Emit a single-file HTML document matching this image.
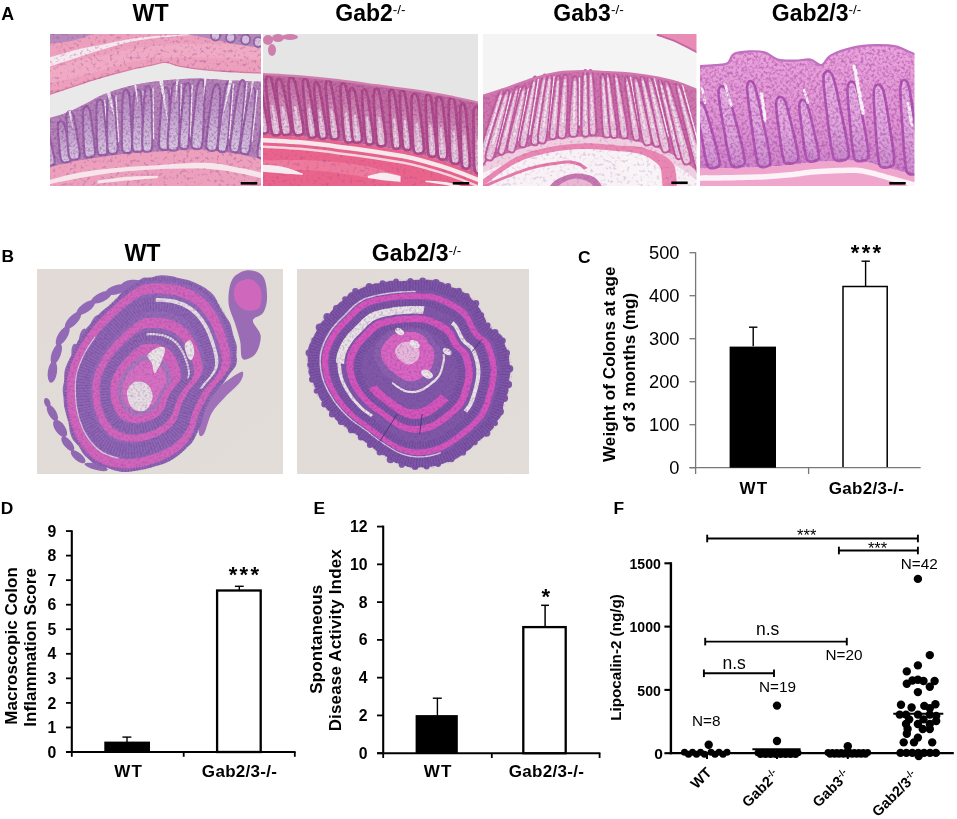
<!DOCTYPE html>
<html><head><meta charset="utf-8"><title>Figure</title>
<style>
html,body{margin:0;padding:0;background:#fff;}
body{width:957px;height:819px;overflow:hidden;}
svg{display:block;}
text{font-family:"Liberation Sans",Arial,sans-serif;}
</style></head><body>
<svg width="957" height="819" viewBox="0 0 957 819">
<text x="1.2" y="19.7" font-size="17.8" font-weight="bold" text-anchor="start" fill="#000" >A</text>
<text x="150.6" y="20.6" font-size="23.2" font-weight="bold" text-anchor="middle" fill="#000" >WT</text>
<text x="370.4" y="20.6" font-size="23" font-weight="bold" text-anchor="middle" fill="#000">Gab2<tspan font-size="13.5" font-weight="normal" dy="-6.2">-/-</tspan></text>
<text x="588.5" y="20.6" font-size="23" font-weight="bold" text-anchor="middle" fill="#000">Gab3<tspan font-size="13.5" font-weight="normal" dy="-6.2">-/-</tspan></text>
<text x="816.5" y="20.6" font-size="23" font-weight="bold" text-anchor="middle" fill="#000">Gab2/3<tspan font-size="13.5" font-weight="normal" dy="-6.2">-/-</tspan></text>
<text x="1.6" y="262.3" font-size="17.4" font-weight="bold" text-anchor="start" fill="#000" >B</text>
<text x="142.5" y="261" font-size="23.2" font-weight="bold" text-anchor="middle" fill="#000" >WT</text>
<text x="416.5" y="261" font-size="23" font-weight="bold" text-anchor="middle" fill="#000">Gab2/3<tspan font-size="13.5" font-weight="normal" dy="-6.2">-/-</tspan></text>
<text x="578" y="262.5" font-size="17.4" font-weight="bold" text-anchor="start" fill="#000" >C</text>
<line x1="695.6" y1="252.2" x2="695.6" y2="468.3" stroke="#777" stroke-width="1.3"/>
<line x1="689.5" y1="467.7" x2="920.7" y2="467.7" stroke="#777" stroke-width="1.3"/>
<line x1="689.5" y1="467.7" x2="695.6" y2="467.7" stroke="#777" stroke-width="1.3"/>
<text x="679.5" y="473.9" font-size="18.3" text-anchor="end" fill="#000" >0</text>
<line x1="689.5" y1="424.7" x2="695.6" y2="424.7" stroke="#777" stroke-width="1.3"/>
<text x="679.5" y="430.9" font-size="18.3" text-anchor="end" fill="#000" >100</text>
<line x1="689.5" y1="381.7" x2="695.6" y2="381.7" stroke="#777" stroke-width="1.3"/>
<text x="679.5" y="387.9" font-size="18.3" text-anchor="end" fill="#000" >200</text>
<line x1="689.5" y1="338.7" x2="695.6" y2="338.7" stroke="#777" stroke-width="1.3"/>
<text x="679.5" y="344.9" font-size="18.3" text-anchor="end" fill="#000" >300</text>
<line x1="689.5" y1="295.7" x2="695.6" y2="295.7" stroke="#777" stroke-width="1.3"/>
<text x="679.5" y="301.9" font-size="18.3" text-anchor="end" fill="#000" >400</text>
<line x1="689.5" y1="252.7" x2="695.6" y2="252.7" stroke="#777" stroke-width="1.3"/>
<text x="679.5" y="258.9" font-size="18.3" text-anchor="end" fill="#000" >500</text>
<line x1="695.6" y1="467.7" x2="695.6" y2="474" stroke="#777" stroke-width="1.3"/>
<line x1="808.6" y1="467.7" x2="808.6" y2="474" stroke="#777" stroke-width="1.3"/>
<rect x="729.6" y="346.6" width="46.4" height="121.1" fill="#000"/>
<line x1="753.2" y1="327.2" x2="753.2" y2="346.2" stroke="#000" stroke-width="1.4"/>
<line x1="749" y1="327.2" x2="757.4" y2="327.2" stroke="#000" stroke-width="1.4"/>
<path d="M843,467.1 L843,286.6 L887.2,286.6 L887.2,467.1" fill="#fff" stroke="#000" stroke-width="1.5"/>
<line x1="865.6" y1="260.8" x2="865.6" y2="286" stroke="#000" stroke-width="1.4"/>
<line x1="861.5" y1="261.2" x2="869.9" y2="261.2" stroke="#000" stroke-width="1.4"/>
<text x="867.1" y="260.4" font-size="22" font-weight="bold" text-anchor="middle" fill="#000" letter-spacing="2.3">***</text>
<text x="753.9" y="493.6" font-size="17" font-weight="bold" text-anchor="middle" fill="#000" letter-spacing="1.2">WT</text>
<text x="866.4" y="493.6" font-size="17" font-weight="bold" text-anchor="middle" fill="#000" letter-spacing="0.3">Gab2/3-/-</text>
<text x="614.7" y="364.2" font-size="17" font-weight="bold" text-anchor="middle" fill="#000" transform="rotate(-90 614.7 364.2)" letter-spacing="0.1">Weight of Colons at age</text>
<text x="635" y="362.5" font-size="17" font-weight="bold" text-anchor="middle" fill="#000" transform="rotate(-90 635 362.5)" letter-spacing="0.1">of 3 months (mg)</text>
<text x="0.8" y="513.5" font-size="17.4" font-weight="bold" text-anchor="start" fill="#000" >D</text>
<line x1="71.8" y1="530.3" x2="71.8" y2="753" stroke="#000" stroke-width="2.1"/>
<line x1="66" y1="752" x2="295.6" y2="752" stroke="#000" stroke-width="2.0"/>
<line x1="66" y1="752.0" x2="71.8" y2="752.0" stroke="#000" stroke-width="1.8"/>
<text x="56.2" y="757.6" font-size="15.8" font-weight="bold" text-anchor="end" fill="#000" >0</text>
<line x1="66" y1="727.45" x2="71.8" y2="727.45" stroke="#000" stroke-width="1.8"/>
<text x="56.2" y="733.0500000000001" font-size="15.8" font-weight="bold" text-anchor="end" fill="#000" >1</text>
<line x1="66" y1="702.9" x2="71.8" y2="702.9" stroke="#000" stroke-width="1.8"/>
<text x="56.2" y="708.5" font-size="15.8" font-weight="bold" text-anchor="end" fill="#000" >2</text>
<line x1="66" y1="678.35" x2="71.8" y2="678.35" stroke="#000" stroke-width="1.8"/>
<text x="56.2" y="683.95" font-size="15.8" font-weight="bold" text-anchor="end" fill="#000" >3</text>
<line x1="66" y1="653.8" x2="71.8" y2="653.8" stroke="#000" stroke-width="1.8"/>
<text x="56.2" y="659.4" font-size="15.8" font-weight="bold" text-anchor="end" fill="#000" >4</text>
<line x1="66" y1="629.25" x2="71.8" y2="629.25" stroke="#000" stroke-width="1.8"/>
<text x="56.2" y="634.85" font-size="15.8" font-weight="bold" text-anchor="end" fill="#000" >5</text>
<line x1="66" y1="604.7" x2="71.8" y2="604.7" stroke="#000" stroke-width="1.8"/>
<text x="56.2" y="610.3000000000001" font-size="15.8" font-weight="bold" text-anchor="end" fill="#000" >6</text>
<line x1="66" y1="580.15" x2="71.8" y2="580.15" stroke="#000" stroke-width="1.8"/>
<text x="56.2" y="585.75" font-size="15.8" font-weight="bold" text-anchor="end" fill="#000" >7</text>
<line x1="66" y1="555.6" x2="71.8" y2="555.6" stroke="#000" stroke-width="1.8"/>
<text x="56.2" y="561.2" font-size="15.8" font-weight="bold" text-anchor="end" fill="#000" >8</text>
<line x1="66" y1="531.05" x2="71.8" y2="531.05" stroke="#000" stroke-width="1.8"/>
<text x="56.2" y="536.65" font-size="15.8" font-weight="bold" text-anchor="end" fill="#000" >9</text>
<line x1="71.8" y1="752" x2="71.8" y2="756.8" stroke="#000" stroke-width="1.8"/>
<line x1="183.7" y1="752" x2="183.7" y2="756.8" stroke="#000" stroke-width="1.8"/>
<line x1="294.8" y1="752" x2="294.8" y2="756.8" stroke="#000" stroke-width="1.8"/>
<rect x="104.3" y="741.6" width="45.7" height="10.4" fill="#000"/>
<line x1="127" y1="737.1" x2="127" y2="742" stroke="#000" stroke-width="1.4"/>
<line x1="122.4" y1="737.1" x2="131.4" y2="737.1" stroke="#000" stroke-width="1.4"/>
<rect x="217.1" y="590.5" width="43.6" height="161.5" fill="#fff" stroke="#000" stroke-width="2.3"/>
<line x1="239.3" y1="586.3" x2="239.3" y2="590.6" stroke="#000" stroke-width="1.4"/>
<line x1="234.9" y1="586.3" x2="243.7" y2="586.3" stroke="#000" stroke-width="1.4"/>
<text x="245" y="582.2" font-size="22" font-weight="bold" text-anchor="middle" fill="#000" letter-spacing="2.3">***</text>
<text x="128.6" y="777.3" font-size="17" font-weight="bold" text-anchor="middle" fill="#000" letter-spacing="1.2">WT</text>
<text x="239.6" y="777.3" font-size="17" font-weight="bold" text-anchor="middle" fill="#000" letter-spacing="0.3">Gab2/3-/-</text>
<text x="17.3" y="646" font-size="17" font-weight="bold" text-anchor="middle" fill="#000" transform="rotate(-90 17.3 646)" letter-spacing="0.05">Macroscopic Colon</text>
<text x="36.2" y="647.4" font-size="17" font-weight="bold" text-anchor="middle" fill="#000" transform="rotate(-90 36.2 647.4)" letter-spacing="0.05">Inflammation Score</text>
<text x="313.5" y="513.5" font-size="17.4" font-weight="bold" text-anchor="start" fill="#000" >E</text>
<line x1="383.2" y1="525.6" x2="383.2" y2="754.2" stroke="#000" stroke-width="2.1"/>
<line x1="377" y1="753.2" x2="600.4" y2="753.2" stroke="#000" stroke-width="2.0"/>
<line x1="377" y1="753.2" x2="383.2" y2="753.2" stroke="#000" stroke-width="1.8"/>
<text x="367.6" y="758.8000000000001" font-size="15.8" font-weight="bold" text-anchor="end" fill="#000" >0</text>
<line x1="377" y1="715.4300000000001" x2="383.2" y2="715.4300000000001" stroke="#000" stroke-width="1.8"/>
<text x="367.6" y="721.0300000000001" font-size="15.8" font-weight="bold" text-anchor="end" fill="#000" >2</text>
<line x1="377" y1="677.6600000000001" x2="383.2" y2="677.6600000000001" stroke="#000" stroke-width="1.8"/>
<text x="367.6" y="683.2600000000001" font-size="15.8" font-weight="bold" text-anchor="end" fill="#000" >4</text>
<line x1="377" y1="639.8900000000001" x2="383.2" y2="639.8900000000001" stroke="#000" stroke-width="1.8"/>
<text x="367.6" y="645.4900000000001" font-size="15.8" font-weight="bold" text-anchor="end" fill="#000" >6</text>
<line x1="377" y1="602.12" x2="383.2" y2="602.12" stroke="#000" stroke-width="1.8"/>
<text x="367.6" y="607.72" font-size="15.8" font-weight="bold" text-anchor="end" fill="#000" >8</text>
<line x1="377" y1="564.35" x2="383.2" y2="564.35" stroke="#000" stroke-width="1.8"/>
<text x="367.6" y="569.95" font-size="15.8" font-weight="bold" text-anchor="end" fill="#000" >10</text>
<line x1="377" y1="526.58" x2="383.2" y2="526.58" stroke="#000" stroke-width="1.8"/>
<text x="367.6" y="532.1800000000001" font-size="15.8" font-weight="bold" text-anchor="end" fill="#000" >12</text>
<line x1="383.2" y1="753.2" x2="383.2" y2="758" stroke="#000" stroke-width="1.8"/>
<line x1="491.8" y1="753.2" x2="491.8" y2="758" stroke="#000" stroke-width="1.8"/>
<line x1="599.6" y1="753.2" x2="599.6" y2="758" stroke="#000" stroke-width="1.8"/>
<rect x="415.6" y="715.1" width="42.2" height="38.1" fill="#000"/>
<line x1="437.4" y1="698.2" x2="437.4" y2="716" stroke="#000" stroke-width="1.4"/>
<line x1="432.8" y1="698.2" x2="441.8" y2="698.2" stroke="#000" stroke-width="1.4"/>
<rect x="523.3" y="627.1" width="42.4" height="126.1" fill="#fff" stroke="#000" stroke-width="2.3"/>
<line x1="545.1" y1="605.3" x2="545.1" y2="627.5" stroke="#000" stroke-width="1.5"/>
<line x1="541.1" y1="605.3" x2="549" y2="605.3" stroke="#000" stroke-width="1.5"/>
<text x="545.7" y="603.5" font-size="22" font-weight="bold" text-anchor="middle" fill="#000" >*</text>
<text x="438.2" y="777.3" font-size="17" font-weight="bold" text-anchor="middle" fill="#000" letter-spacing="1.2">WT</text>
<text x="546.4" y="777.3" font-size="17" font-weight="bold" text-anchor="middle" fill="#000" letter-spacing="0.3">Gab2/3-/-</text>
<text x="321.9" y="639.2" font-size="17" font-weight="bold" text-anchor="middle" fill="#000" transform="rotate(-90 321.9 639.2)" letter-spacing="0.15">Spontaneous</text>
<text x="340.7" y="640.2" font-size="17" font-weight="bold" text-anchor="middle" fill="#000" transform="rotate(-90 340.7 640.2)" letter-spacing="0.15">Disease Activity Index</text>
<text x="613.5" y="513.8" font-size="17.4" font-weight="bold" text-anchor="start" fill="#000" >F</text>
<line x1="670.9" y1="562.2" x2="670.9" y2="754.2" stroke="#000" stroke-width="2.4"/>
<line x1="669.9" y1="753.2" x2="953.8" y2="753.2" stroke="#000" stroke-width="2.2"/>
<line x1="664.4" y1="753.2" x2="670.9" y2="753.2" stroke="#000" stroke-width="2.1"/>
<text x="662.9" y="758.9000000000001" font-size="15.5" font-weight="bold" text-anchor="end" fill="#000" >0</text>
<line x1="664.4" y1="689.9000000000001" x2="670.9" y2="689.9000000000001" stroke="#000" stroke-width="2.1"/>
<text x="660.8" y="695.6000000000001" font-size="15.5" font-weight="bold" text-anchor="end" fill="#000" textLength="23.5" lengthAdjust="spacingAndGlyphs">500</text>
<line x1="664.4" y1="626.6" x2="670.9" y2="626.6" stroke="#000" stroke-width="2.1"/>
<text x="660.8" y="632.3000000000001" font-size="15.5" font-weight="bold" text-anchor="end" fill="#000" textLength="31.3" lengthAdjust="spacingAndGlyphs">1000</text>
<line x1="664.4" y1="563.3000000000001" x2="670.9" y2="563.3000000000001" stroke="#000" stroke-width="2.1"/>
<text x="660.8" y="569.0000000000001" font-size="15.5" font-weight="bold" text-anchor="end" fill="#000" textLength="31.3" lengthAdjust="spacingAndGlyphs">1500</text>
<line x1="707" y1="753.2" x2="707" y2="759" stroke="#000" stroke-width="2.0"/>
<line x1="777" y1="753.2" x2="777" y2="759" stroke="#000" stroke-width="2.0"/>
<line x1="847.8" y1="753.2" x2="847.8" y2="759" stroke="#000" stroke-width="2.0"/>
<line x1="917.9" y1="753.2" x2="917.9" y2="759" stroke="#000" stroke-width="2.0"/>
<line x1="707.2" y1="538.5" x2="917.9" y2="538.5" stroke="#000" stroke-width="1.9"/>
<line x1="707.2" y1="534.7" x2="707.2" y2="542.3" stroke="#000" stroke-width="1.9"/>
<line x1="917.9" y1="534.7" x2="917.9" y2="542.3" stroke="#000" stroke-width="1.9"/>
<line x1="838.9" y1="550.5" x2="917.9" y2="550.5" stroke="#000" stroke-width="1.9"/>
<line x1="838.9" y1="546.7" x2="838.9" y2="554.3" stroke="#000" stroke-width="1.9"/>
<line x1="917.9" y1="546.7" x2="917.9" y2="554.3" stroke="#000" stroke-width="1.9"/>
<line x1="705.2" y1="641.6" x2="846.8" y2="641.6" stroke="#000" stroke-width="1.9"/>
<line x1="705.2" y1="637.8000000000001" x2="705.2" y2="645.4" stroke="#000" stroke-width="1.9"/>
<line x1="846.8" y1="637.8000000000001" x2="846.8" y2="645.4" stroke="#000" stroke-width="1.9"/>
<line x1="703.9" y1="673.3" x2="774" y2="673.3" stroke="#000" stroke-width="1.9"/>
<line x1="703.9" y1="669.5" x2="703.9" y2="677.0999999999999" stroke="#000" stroke-width="1.9"/>
<line x1="774" y1="669.5" x2="774" y2="677.0999999999999" stroke="#000" stroke-width="1.9"/>
<text x="806.7" y="541" font-size="16.5" text-anchor="middle" fill="#000" >***</text>
<text x="877.6" y="554" font-size="16.5" text-anchor="middle" fill="#000" >***</text>
<text x="767.7" y="635.2" font-size="17.5" text-anchor="middle" fill="#000" >n.s</text>
<text x="734.2" y="669" font-size="17.5" text-anchor="middle" fill="#000" >n.s</text>
<text x="919.3" y="569.2" font-size="15.3" text-anchor="middle" fill="#000" >N=42</text>
<text x="844" y="660" font-size="15.3" text-anchor="middle" fill="#000" >N=20</text>
<text x="777.5" y="691.6" font-size="15.3" text-anchor="middle" fill="#000" >N=19</text>
<text x="706.2" y="725.6" font-size="15.3" text-anchor="middle" fill="#000" >N=8</text>
<text x="620.5" y="657.5" font-size="15.3" font-weight="bold" text-anchor="middle" fill="#000" transform="rotate(-90 620.5 657.5)" textLength="126.5" lengthAdjust="spacingAndGlyphs">Lipocalin-2 (ng/g)</text>
<text x="712.5" y="773.5" font-size="14.5" font-weight="bold" text-anchor="end" transform="rotate(-45 712.5 773.5)">WT</text>
<text x="780" y="776" font-size="14.5" font-weight="bold" text-anchor="end" transform="rotate(-45 780 776)">Gab2<tspan font-size="9.5" dy="-5">-/-</tspan></text>
<text x="850.5" y="776" font-size="14.5" font-weight="bold" text-anchor="end" transform="rotate(-45 850.5 776)">Gab3<tspan font-size="9.5" dy="-5">-/-</tspan></text>
<text x="918.5" y="777" font-size="14.5" font-weight="bold" text-anchor="end" transform="rotate(-45 918.5 777)">Gab2/3<tspan font-size="9.5" dy="-5">-/-</tspan></text>
<circle cx="684.5" cy="752.2" r="3.5" fill="#000"/>
<circle cx="688.5" cy="754.2" r="3.5" fill="#000"/>
<circle cx="692.5" cy="752.2" r="3.5" fill="#000"/>
<circle cx="696.5" cy="754.2" r="3.5" fill="#000"/>
<circle cx="700.5" cy="752.2" r="3.5" fill="#000"/>
<circle cx="704.5" cy="754.2" r="3.5" fill="#000"/>
<circle cx="711.0" cy="752.2" r="3.5" fill="#000"/>
<circle cx="715.0" cy="754.2" r="3.5" fill="#000"/>
<circle cx="719.0" cy="752.2" r="3.5" fill="#000"/>
<circle cx="723.0" cy="754.2" r="3.5" fill="#000"/>
<circle cx="727.0" cy="752.2" r="3.5" fill="#000"/>
<circle cx="708.7" cy="744.7" r="4.2" fill="#000"/>
<circle cx="777.0" cy="705.6" r="4.2" fill="#000"/>
<circle cx="777.0" cy="741.0" r="4.2" fill="#000"/>
<circle cx="758.0" cy="752.8" r="3.5" fill="#000"/>
<circle cx="760.5" cy="754.4" r="3.5" fill="#000"/>
<circle cx="763.0" cy="752.8" r="3.5" fill="#000"/>
<circle cx="765.5" cy="754.4" r="3.5" fill="#000"/>
<circle cx="768.0" cy="752.8" r="3.5" fill="#000"/>
<circle cx="770.5" cy="754.4" r="3.5" fill="#000"/>
<circle cx="773.0" cy="752.8" r="3.5" fill="#000"/>
<circle cx="775.5" cy="754.4" r="3.5" fill="#000"/>
<circle cx="778.0" cy="752.8" r="3.5" fill="#000"/>
<circle cx="780.5" cy="754.4" r="3.5" fill="#000"/>
<circle cx="783.0" cy="752.8" r="3.5" fill="#000"/>
<circle cx="785.5" cy="754.4" r="3.5" fill="#000"/>
<circle cx="788.0" cy="752.8" r="3.5" fill="#000"/>
<circle cx="790.5" cy="754.4" r="3.5" fill="#000"/>
<circle cx="793.0" cy="752.8" r="3.5" fill="#000"/>
<circle cx="795.5" cy="754.4" r="3.5" fill="#000"/>
<circle cx="798.0" cy="752.8" r="3.5" fill="#000"/>
<line x1="752.4" y1="749.3" x2="800.6" y2="749.3" stroke="#000" stroke-width="2.0"/>
<circle cx="847.8" cy="746.3" r="4.2" fill="#000"/>
<circle cx="828.0" cy="752.5" r="3.5" fill="#000"/>
<circle cx="830.2" cy="754.3" r="3.5" fill="#000"/>
<circle cx="832.4" cy="752.5" r="3.5" fill="#000"/>
<circle cx="834.6" cy="754.3" r="3.5" fill="#000"/>
<circle cx="836.8" cy="752.5" r="3.5" fill="#000"/>
<circle cx="839.0" cy="754.3" r="3.5" fill="#000"/>
<circle cx="841.2" cy="752.5" r="3.5" fill="#000"/>
<circle cx="843.4" cy="754.3" r="3.5" fill="#000"/>
<circle cx="845.6" cy="752.5" r="3.5" fill="#000"/>
<circle cx="847.8" cy="754.3" r="3.5" fill="#000"/>
<circle cx="850.0" cy="752.5" r="3.5" fill="#000"/>
<circle cx="852.2" cy="754.3" r="3.5" fill="#000"/>
<circle cx="854.4" cy="752.5" r="3.5" fill="#000"/>
<circle cx="856.6" cy="754.3" r="3.5" fill="#000"/>
<circle cx="858.8" cy="752.5" r="3.5" fill="#000"/>
<circle cx="861.0" cy="754.3" r="3.5" fill="#000"/>
<circle cx="863.2" cy="752.5" r="3.5" fill="#000"/>
<circle cx="865.4" cy="754.3" r="3.5" fill="#000"/>
<circle cx="867.6" cy="752.5" r="3.5" fill="#000"/>
<circle cx="917.9" cy="578.9" r="4.2" fill="#000"/>
<circle cx="929.8" cy="655.1" r="4.2" fill="#000"/>
<circle cx="917.9" cy="665.4" r="4.2" fill="#000"/>
<circle cx="906.8" cy="671.4" r="4.2" fill="#000"/>
<circle cx="934.6" cy="681.0" r="4.2" fill="#000"/>
<circle cx="906.8" cy="683.7" r="4.2" fill="#000"/>
<circle cx="912.4" cy="680.5" r="4.2" fill="#000"/>
<circle cx="917.9" cy="679.7" r="4.2" fill="#000"/>
<circle cx="923.5" cy="681.0" r="4.2" fill="#000"/>
<circle cx="929.8" cy="686.8" r="4.2" fill="#000"/>
<circle cx="917.9" cy="692.1" r="4.2" fill="#000"/>
<circle cx="901.0" cy="704.8" r="4.2" fill="#000"/>
<circle cx="935.4" cy="704.3" r="4.2" fill="#000"/>
<circle cx="911.6" cy="707.5" r="4.2" fill="#000"/>
<circle cx="924.3" cy="705.9" r="4.2" fill="#000"/>
<circle cx="929.8" cy="708.3" r="4.2" fill="#000"/>
<circle cx="899.7" cy="714.6" r="4.2" fill="#000"/>
<circle cx="906.0" cy="714.6" r="4.2" fill="#000"/>
<circle cx="917.9" cy="714.6" r="4.2" fill="#000"/>
<circle cx="929.8" cy="714.6" r="4.2" fill="#000"/>
<circle cx="936.2" cy="716.0" r="4.2" fill="#000"/>
<circle cx="909.2" cy="719.4" r="4.2" fill="#000"/>
<circle cx="923.5" cy="719.4" r="4.2" fill="#000"/>
<circle cx="936.2" cy="721.0" r="4.2" fill="#000"/>
<circle cx="906.0" cy="724.0" r="4.2" fill="#000"/>
<circle cx="917.9" cy="724.0" r="4.2" fill="#000"/>
<circle cx="929.8" cy="724.0" r="4.2" fill="#000"/>
<circle cx="907.6" cy="729.0" r="4.2" fill="#000"/>
<circle cx="922.7" cy="729.0" r="4.2" fill="#000"/>
<circle cx="929.8" cy="729.0" r="4.2" fill="#000"/>
<circle cx="906.8" cy="733.7" r="4.2" fill="#000"/>
<circle cx="917.9" cy="737.6" r="4.2" fill="#000"/>
<circle cx="903.7" cy="742.4" r="4.2" fill="#000"/>
<circle cx="914.0" cy="742.4" r="4.2" fill="#000"/>
<circle cx="932.2" cy="742.4" r="4.2" fill="#000"/>
<circle cx="900.5" cy="752.9" r="4.2" fill="#000"/>
<circle cx="906.4" cy="752.9" r="4.2" fill="#000"/>
<circle cx="912.3" cy="752.9" r="4.2" fill="#000"/>
<circle cx="918.2" cy="752.9" r="4.2" fill="#000"/>
<circle cx="924.1" cy="752.9" r="4.2" fill="#000"/>
<circle cx="930.0" cy="752.9" r="4.2" fill="#000"/>
<circle cx="935.9" cy="752.9" r="4.2" fill="#000"/>
<circle cx="918.7" cy="756.1" r="4.2" fill="#000"/>
<line x1="893.3" y1="713.8" x2="943.3" y2="713.8" stroke="#000" stroke-width="2.0"/>
<defs>
<filter id="tex" x="0" y="0" width="100%" height="100%" color-interpolation-filters="sRGB">
<feTurbulence type="fractalNoise" baseFrequency="0.42" numOctaves="2" seed="7" result="n"/>
<feColorMatrix in="n" type="matrix" values="0 0 0 0 0.38  0 0 0 0 0.18  0 0 0 0 0.5  2.6 0 0 0 -1.15"/>
</filter>
<filter id="texL" x="0" y="0" width="100%" height="100%" color-interpolation-filters="sRGB">
<feTurbulence type="fractalNoise" baseFrequency="0.5" numOctaves="2" seed="11" result="n"/>
<feColorMatrix in="n" type="matrix" values="0 0 0 0 1  0 0 0 0 1  0 0 0 0 1  0 2.4 0 0 -1.1"/>
</filter>
<filter id="texS" x="0" y="0" width="100%" height="100%" color-interpolation-filters="sRGB">
<feTurbulence type="fractalNoise" baseFrequency="0.3" numOctaves="2" seed="5" result="n"/>
<feColorMatrix in="n" type="matrix" values="0 0 0 0 0.55  0 0 0 0 0.25  0 0 0 0 0.6  3.2 0 0 0 -1.75"/>
</filter>
<linearGradient id="cg1" x1="0" y1="0" x2="0" y2="1"><stop offset="0" stop-color="#b885ba"/><stop offset="0.4" stop-color="#c39fcb"/><stop offset="1" stop-color="#d9c6e1"/></linearGradient>
<filter id="texM" x="0" y="0" width="100%" height="100%" color-interpolation-filters="sRGB">
<feTurbulence type="fractalNoise" baseFrequency="0.36" numOctaves="2" seed="21" result="n"/>
<feColorMatrix in="n" type="matrix" values="0 0 0 0 0.64  0 0 0 0 0.2  0 0 0 0 0.62  3.0 0 0 0 -1.25"/>
</filter>
<filter id="b1" x="-5%" y="-5%" width="110%" height="110%"><feGaussianBlur stdDeviation="0.7"/></filter>
<filter id="b2" x="-5%" y="-5%" width="110%" height="110%"><feGaussianBlur stdDeviation="1.4"/></filter>
</defs>
<clipPath id="cA1"><rect x="50" y="34" width="211" height="152"/></clipPath>
<g clip-path="url(#cA1)">
<g filter="url(#b1)">
<rect x="47" y="31" width="217" height="158" fill="#eda0bb"/>
<path d="M40.0,70.2 C48.4,68.1 73.4,61.4 90.2,57.6 C106.9,53.9 123.6,49.9 140.3,47.6 C157.0,45.3 168.7,44.2 190.5,43.8 C212.2,43.4 257.3,44.9 270.7,45.1 L270.7,60.1 C257.3,59.7 212.2,57.6 190.5,57.6 C168.7,57.6 157.0,57.4 140.3,60.1 C123.6,62.8 106.9,69.7 90.2,73.9 C73.4,78.1 48.4,83.3 40.0,85.2Z" fill="#f1aac3" />
<path d="M40.0,98.2 C46.3,96.2 67.2,89.1 77.6,85.7 C88.1,82.3 94.3,80.1 102.7,77.7 C111.1,75.2 119.4,72.9 127.8,70.9 C136.1,68.9 146.6,66.9 152.9,65.6 C159.1,64.3 160.8,62.9 165.4,63.1 C170.0,63.4 174.2,66.0 180.4,67.1 C186.7,68.3 195.1,69.3 203.0,70.2 C211.0,71.0 216.8,71.5 228.1,72.2 C239.4,72.8 263.6,73.8 270.7,74.2" fill="none" stroke="#d97aa3" stroke-width="2.5"/>
<path d="M40.0,60.1 C46.3,58.4 67.2,52.2 77.6,49.6 C88.1,47.0 92.2,46.6 102.7,44.6 C113.1,42.6 125.7,39.3 140.3,37.6 C154.9,35.8 182.1,34.6 190.5,34.0 L190.5,35.0 C182.1,35.9 154.9,37.6 140.3,40.1 C125.7,42.5 113.1,46.7 102.7,49.6 C92.2,52.5 88.1,54.3 77.6,57.6 C67.2,61.0 46.3,67.6 40.0,69.7Z" fill="#f5e8ee" />
<path d="M40.0,30.0 C45.0,30.0 61.1,30.0 70.1,30.0 C79.1,30.0 89.9,30.0 93.9,30.0 L93.9,33.8 C89.9,35.0 79.1,39.5 70.1,41.3 C61.1,43.1 45.0,44.0 40.0,44.6Z" fill="#b78abb" />
<path d="M188.0,30.0 C192.6,30.0 201.8,30.0 215.5,30.0 C229.3,30.0 261.5,30.0 270.7,30.0 L270.7,48.6 C265.7,48.0 249.8,46.5 240.6,45.1 C231.4,43.7 224.3,41.9 215.5,40.1 C206.8,38.2 192.6,35.0 188.0,34.0Z" fill="#b288bb" />
<ellipse cx="215.5" cy="35.5" rx="4.5" ry="5" fill="#d4bfdc" stroke="#8f62a3" stroke-width="1.8"/>
<ellipse cx="230.6" cy="37.6" rx="4.5" ry="5" fill="#d4bfdc" stroke="#8f62a3" stroke-width="1.8"/>
<ellipse cx="245.6" cy="39.6" rx="4.5" ry="5" fill="#d4bfdc" stroke="#8f62a3" stroke-width="1.8"/>
<ellipse cx="258.2" cy="42.1" rx="4.5" ry="5" fill="#d4bfdc" stroke="#8f62a3" stroke-width="1.8"/>
<rect x="50" y="34" width="211" height="152" filter="url(#texS)" opacity="0.45"/>
<path d="M40.0,98.2 C46.3,96.2 67.2,89.1 77.6,85.7 C88.1,82.3 94.3,80.1 102.7,77.7 C111.1,75.2 119.4,72.9 127.8,70.9 C136.1,68.9 146.6,66.9 152.9,65.6 C159.1,64.3 160.8,62.9 165.4,63.1 C170.0,63.4 174.2,66.0 180.4,67.1 C186.7,68.3 195.1,69.3 203.0,70.2 C211.0,71.0 216.8,71.5 228.1,72.2 C239.4,72.8 263.6,73.8 270.7,74.2 L270.7,81.9 C263.6,81.7 239.4,80.7 228.1,80.2 C216.8,79.6 211.4,78.9 203.0,78.7 C194.6,78.5 186.3,78.7 177.9,79.2 C169.6,79.7 161.2,80.5 152.9,81.7 C144.5,82.9 136.1,84.3 127.8,86.5 C119.4,88.6 109.8,91.8 102.7,94.7 C95.6,97.7 91.4,100.9 85.1,104.0 C78.9,107.1 72.6,110.5 65.1,113.3 C57.6,116.1 44.2,119.6 40.0,120.8Z" fill="#eae9e9" />
<path d="M40.0,120.8 C44.2,119.6 57.6,116.1 65.1,113.3 C72.6,110.5 78.9,107.1 85.1,104.0 C91.4,100.9 95.6,97.7 102.7,94.7 C109.8,91.8 119.4,88.6 127.8,86.5 C136.1,84.3 144.5,82.9 152.9,81.7 C161.2,80.5 169.6,79.7 177.9,79.2 C186.3,78.7 194.6,78.5 203.0,78.7 C211.4,78.9 216.8,79.6 228.1,80.2 C239.4,80.7 263.6,81.7 270.7,81.9 L270.7,161.4 C266.5,160.4 252.7,156.9 245.6,155.4 C238.5,153.9 235.2,153.4 228.1,152.4 C221.0,151.4 211.4,149.7 203.0,149.4 C194.6,149.1 186.3,150.0 177.9,150.4 C169.6,150.8 161.2,151.2 152.9,151.7 C144.5,152.2 136.1,152.6 127.8,153.4 C119.4,154.3 109.8,155.7 102.7,156.7 C95.6,157.7 91.4,158.4 85.1,159.4 C78.9,160.5 72.6,161.1 65.1,162.9 C57.6,164.8 44.2,169.2 40.0,170.5Z" fill="#b683b8"/>
<path d="M53.9,164.4 C55.1,163.5 54.9,162.9 54.5,159.7 C54.1,156.6 52.9,151.1 51.7,145.7 C50.4,140.3 48.6,130.4 47.0,127.5 C45.4,124.5 42.6,125.0 42.1,128.3 C41.5,131.6 43.0,141.6 43.6,147.1 C44.2,152.6 44.9,158.2 45.5,161.3 C46.2,164.3 46.2,164.9 47.6,165.5 C49.0,166.0 52.8,165.4 53.9,164.4Z" fill="url(#cg1)" stroke="#9a62a6" stroke-width="2.2"/>
<path d="M69.9,161.3 C71.3,160.4 71.1,159.7 70.8,156.5 C70.5,153.3 69.4,147.6 68.2,142.1 C67.1,136.6 65.4,126.3 63.8,123.3 C62.1,120.3 58.9,120.7 58.1,124.1 C57.3,127.4 58.6,137.8 59.0,143.4 C59.4,149.1 60.0,154.8 60.6,158.0 C61.2,161.1 61.2,161.8 62.8,162.3 C64.3,162.9 68.6,162.3 69.9,161.3Z" fill="url(#cg1)" stroke="#9a62a6" stroke-width="2.2"/>
<line x1="71.6" y1="153.3" x2="66.0" y2="121.0" stroke="#f2eaf0" stroke-width="1.3" stroke-linecap="round"/>
<path d="M78.6,158.5 C80.1,157.5 79.9,156.7 79.7,153.0 C79.5,149.2 78.4,142.6 77.2,136.0 C76.1,129.5 74.6,117.5 72.8,113.9 C71.1,110.3 67.7,110.7 66.7,114.6 C65.8,118.5 67.0,130.6 67.3,137.2 C67.6,143.8 68.1,150.5 68.7,154.2 C69.3,157.9 69.3,158.7 70.9,159.4 C72.6,160.1 77.2,159.6 78.6,158.5Z" fill="url(#cg1)" stroke="#9a62a6" stroke-width="2.2"/>
<path d="M93.9,156.2 C95.3,155.2 95.2,154.4 95.0,150.4 C94.9,146.4 94.0,139.4 93.0,132.4 C92.1,125.5 90.8,112.7 89.2,108.8 C87.6,105.0 84.3,105.3 83.3,109.3 C82.3,113.4 83.1,126.2 83.3,133.2 C83.5,140.2 83.7,147.3 84.2,151.3 C84.7,155.2 84.7,156.0 86.3,156.9 C87.9,157.7 92.4,157.3 93.9,156.2Z" fill="url(#cg1)" stroke="#9a62a6" stroke-width="2.2"/>
<path d="M106.2,154.2 C107.6,153.0 107.5,152.2 107.4,147.9 C107.3,143.6 106.6,135.8 105.8,128.3 C105.0,120.7 104.0,106.8 102.5,102.5 C101.1,98.3 97.9,98.5 96.9,102.8 C95.9,107.2 96.5,121.2 96.6,128.8 C96.6,136.4 96.8,144.1 97.2,148.4 C97.6,152.7 97.6,153.6 99.1,154.6 C100.6,155.5 104.8,155.3 106.2,154.2Z" fill="url(#cg1)" stroke="#9a62a6" stroke-width="2.2"/>
<line x1="108.4" y1="143.7" x2="104.8" y2="100.4" stroke="#f2eaf0" stroke-width="1.3" stroke-linecap="round"/>
<path d="M116.4,152.9 C117.8,151.8 117.7,150.8 117.7,146.2 C117.7,141.6 117.1,133.4 116.4,125.3 C115.7,117.3 115.0,102.4 113.6,97.8 C112.2,93.3 109.0,93.4 107.9,98.0 C106.8,102.7 107.2,117.6 107.1,125.7 C107.0,133.8 107.0,142.0 107.4,146.6 C107.7,151.2 107.7,152.1 109.2,153.2 C110.7,154.2 115.0,154.1 116.4,152.9Z" fill="url(#cg1)" stroke="#9a62a6" stroke-width="2.2"/>
<line x1="118.8" y1="141.8" x2="115.9" y2="95.8" stroke="#f2eaf0" stroke-width="1.3" stroke-linecap="round"/>
<path d="M130.7,152.1 C132.2,150.9 132.0,149.9 132.1,145.0 C132.2,140.0 131.8,131.1 131.2,122.5 C130.7,113.8 130.2,97.8 128.9,92.9 C127.6,88.0 124.4,88.0 123.3,93.0 C122.1,98.0 122.2,113.9 122.0,122.6 C121.8,131.3 121.6,140.2 121.9,145.1 C122.1,150.1 122.1,151.1 123.5,152.2 C125.0,153.4 129.3,153.3 130.7,152.1Z" fill="url(#cg1)" stroke="#9a62a6" stroke-width="2.2"/>
<path d="M141.6,151.1 C143.2,149.9 143.1,149.0 143.3,144.1 C143.4,139.3 143.1,130.7 142.7,122.2 C142.3,113.7 142.1,98.1 140.7,93.3 C139.4,88.5 136.0,88.5 134.6,93.3 C133.3,98.1 133.1,113.7 132.7,122.2 C132.3,130.7 132.0,139.3 132.2,144.2 C132.4,149.0 132.3,149.9 133.9,151.1 C135.4,152.2 140.0,152.2 141.6,151.1Z" fill="url(#cg1)" stroke="#9a62a6" stroke-width="2.2"/>
<line x1="144.5" y1="139.5" x2="143.1" y2="91.3" stroke="#f2eaf0" stroke-width="1.3" stroke-linecap="round"/>
<path d="M150.7,150.9 C152.2,149.7 152.1,148.6 152.3,143.6 C152.6,138.5 152.4,129.3 152.2,120.3 C151.9,111.4 152.0,94.8 150.8,89.7 C149.7,84.6 146.5,84.6 145.2,89.7 C143.9,94.7 143.5,111.2 143.0,120.2 C142.5,129.1 142.1,138.3 142.2,143.4 C142.3,148.5 142.2,149.5 143.6,150.8 C145.0,152.0 149.2,152.1 150.7,150.9Z" fill="url(#cg1)" stroke="#9a62a6" stroke-width="2.2"/>
<line x1="153.6" y1="138.7" x2="153.1" y2="87.8" stroke="#f2eaf0" stroke-width="1.3" stroke-linecap="round"/>
<path d="M167.8,149.1 C169.3,148.0 169.2,147.0 169.6,142.2 C169.9,137.3 169.8,128.6 169.7,120.1 C169.5,111.6 169.8,95.9 168.7,91.0 C167.6,86.1 164.3,86.0 162.9,90.8 C161.5,95.6 160.8,111.3 160.2,119.8 C159.5,128.3 159.0,137.0 159.0,141.9 C159.0,146.7 158.9,147.7 160.4,148.9 C161.8,150.1 166.2,150.2 167.8,149.1Z" fill="url(#cg1)" stroke="#9a62a6" stroke-width="2.2"/>
<line x1="170.9" y1="137.6" x2="171.0" y2="89.1" stroke="#f2eaf0" stroke-width="1.3" stroke-linecap="round"/>
<path d="M177.0,149.8 C178.6,148.6 178.6,147.6 179.0,142.3 C179.4,137.1 179.5,127.6 179.5,118.3 C179.5,109.0 180.0,92.0 178.9,86.6 C177.8,81.3 174.3,81.2 172.7,86.4 C171.1,91.6 170.2,108.6 169.3,117.9 C168.5,127.1 167.8,136.6 167.7,141.8 C167.7,147.1 167.5,148.1 169.1,149.5 C170.6,150.8 175.3,151.0 177.0,149.8Z" fill="url(#cg1)" stroke="#9a62a6" stroke-width="2.2"/>
<line x1="180.4" y1="137.3" x2="181.3" y2="84.7" stroke="#f2eaf0" stroke-width="1.3" stroke-linecap="round"/>
<path d="M187.1,148.3 C188.5,147.2 188.5,146.2 188.9,141.1 C189.4,136.0 189.7,126.7 189.9,117.7 C190.1,108.7 190.9,92.1 190.1,86.9 C189.2,81.8 186.3,81.6 184.8,86.6 C183.4,91.7 182.2,108.2 181.3,117.2 C180.4,126.2 179.6,135.4 179.4,140.5 C179.3,145.6 179.1,146.6 180.4,147.9 C181.7,149.2 185.6,149.5 187.1,148.3Z" fill="url(#cg1)" stroke="#9a62a6" stroke-width="2.2"/>
<line x1="190.4" y1="136.2" x2="192.2" y2="85.1" stroke="#f2eaf0" stroke-width="1.3" stroke-linecap="round"/>
<path d="M200.4,148.4 C202.1,147.2 202.1,146.1 202.7,140.8 C203.2,135.4 203.6,125.7 203.9,116.3 C204.2,106.8 205.3,89.4 204.3,83.9 C203.3,78.5 199.9,78.2 198.1,83.5 C196.4,88.7 194.9,106.1 193.8,115.5 C192.7,124.9 191.6,134.6 191.4,139.9 C191.2,145.3 191.0,146.4 192.5,147.8 C194.0,149.2 198.7,149.5 200.4,148.4Z" fill="url(#cg1)" stroke="#9a62a6" stroke-width="2.2"/>
<path d="M215.4,150.2 C217.1,149.1 217.1,148.1 217.8,143.0 C218.4,137.9 218.9,128.6 219.2,119.6 C219.6,110.5 220.8,93.9 219.9,88.7 C219.0,83.4 215.5,83.1 213.6,88.1 C211.8,93.1 210.2,109.7 209.0,118.7 C207.7,127.6 206.6,136.8 206.4,142.0 C206.1,147.1 205.9,148.1 207.4,149.5 C208.9,150.9 213.7,151.3 215.4,150.2Z" fill="url(#cg1)" stroke="#9a62a6" stroke-width="2.2"/>
<path d="M225.3,151.4 C226.8,150.3 226.9,149.2 227.6,143.7 C228.3,138.3 229.1,128.5 229.7,118.9 C230.3,109.3 232.0,91.6 231.4,86.1 C230.8,80.5 227.8,80.2 226.1,85.5 C224.4,90.8 222.4,108.4 221.0,118.0 C219.7,127.5 218.4,137.3 218.0,142.7 C217.6,148.2 217.4,149.3 218.6,150.7 C219.8,152.2 223.8,152.6 225.3,151.4Z" fill="url(#cg1)" stroke="#9a62a6" stroke-width="2.2"/>
<line x1="229.3" y1="138.6" x2="233.5" y2="84.3" stroke="#f2eaf0" stroke-width="1.3" stroke-linecap="round"/>
<path d="M237.7,151.7 C239.2,150.5 239.3,149.4 240.1,143.8 C240.9,138.2 241.8,128.1 242.6,118.3 C243.4,108.4 245.4,90.3 244.9,84.6 C244.4,78.9 241.4,78.5 239.5,84.0 C237.7,89.4 235.4,107.5 233.9,117.2 C232.4,127.0 230.9,137.0 230.4,142.6 C229.9,148.2 229.7,149.3 230.9,150.9 C232.1,152.4 236.2,152.8 237.7,151.7Z" fill="url(#cg1)" stroke="#9a62a6" stroke-width="2.2"/>
<line x1="241.9" y1="138.6" x2="247.0" y2="82.8" stroke="#f2eaf0" stroke-width="1.3" stroke-linecap="round"/>
<path d="M247.8,153.5 C249.4,152.5 249.4,151.4 250.3,146.3 C251.1,141.2 252.0,132.0 252.9,122.9 C253.7,113.8 255.7,97.2 255.3,92.0 C254.8,86.7 251.8,86.3 250.0,91.3 C248.1,96.2 245.8,112.8 244.2,121.8 C242.7,130.7 241.2,139.9 240.6,145.1 C240.1,150.2 239.9,151.2 241.1,152.6 C242.3,154.0 246.3,154.6 247.8,153.5Z" fill="url(#cg1)" stroke="#9a62a6" stroke-width="2.2"/>
<line x1="252.1" y1="141.6" x2="257.4" y2="90.2" stroke="#f2eaf0" stroke-width="1.3" stroke-linecap="round"/>
<path d="M264.5,158.0 C265.9,156.9 266.0,155.8 266.9,150.5 C267.7,145.3 268.8,135.7 269.7,126.4 C270.6,117.1 272.8,99.9 272.4,94.5 C272.1,89.1 269.3,88.7 267.5,93.8 C265.7,99.0 263.2,116.1 261.6,125.3 C260.0,134.6 258.4,144.0 257.9,149.3 C257.3,154.6 257.1,155.7 258.2,157.1 C259.3,158.5 263.0,159.1 264.5,158.0Z" fill="url(#cg1)" stroke="#9a62a6" stroke-width="2.2"/>
<line x1="268.7" y1="145.6" x2="274.5" y2="92.8" stroke="#f2eaf0" stroke-width="1.3" stroke-linecap="round"/>
<path d="M106.2,91.7 L110.2,91.7 L115.2,120.3Z" fill="#efebee"/>
<path d="M159.0,79.4 L162.8,79.4 L168.4,125.3Z" fill="#efebee"/>
<path d="M176.2,78.7 L178.7,78.7 L175.4,102.8Z" fill="#efebee"/>
<path d="M229.3,78.7 L232.9,78.7 L221.8,120.3Z" fill="#efebee"/>
<path d="M68.3,110.8 L70.8,110.8 L73.1,130.3Z" fill="#efebee"/>
<path d="M204.4,77.7 L206.6,77.7 L203.0,102.8Z" fill="#efebee"/>
<path d="M134.2,84.2 L136.4,84.2 L138.3,107.8Z" fill="#efebee"/>
<path d="M252.0,80.2 L254.3,80.2 L249.4,102.8Z" fill="#efebee"/>
<clipPath id="tc1"><path d="M40.0,120.8 C44.2,119.6 57.6,116.1 65.1,113.3 C72.6,110.5 78.9,107.1 85.1,104.0 C91.4,100.9 95.6,97.7 102.7,94.7 C109.8,91.8 119.4,88.6 127.8,86.5 C136.1,84.3 144.5,82.9 152.9,81.7 C161.2,80.5 169.6,79.7 177.9,79.2 C186.3,78.7 194.6,78.5 203.0,78.7 C211.4,78.9 216.8,79.6 228.1,80.2 C239.4,80.7 263.6,81.7 270.7,81.9 L270.7,161.4 C266.5,160.4 252.7,156.9 245.6,155.4 C238.5,153.9 235.2,153.4 228.1,152.4 C221.0,151.4 211.4,149.7 203.0,149.4 C194.6,149.1 186.3,150.0 177.9,150.4 C169.6,150.8 161.2,151.2 152.9,151.7 C144.5,152.2 136.1,152.6 127.8,153.4 C119.4,154.3 109.8,155.7 102.7,156.7 C95.6,157.7 91.4,158.4 85.1,159.4 C78.9,160.5 72.6,161.1 65.1,162.9 C57.6,164.8 44.2,169.2 40.0,170.5Z"/></clipPath>
<g clip-path="url(#tc1)"><rect x="50" y="34" width="211" height="152" filter="url(#tex)" opacity="0.42"/></g>
<path d="M40.0,182.5 C46.3,180.9 65.1,175.4 77.6,173.0 C90.2,170.6 102.7,169.2 115.2,168.0 C127.8,166.7 140.3,166.3 152.9,165.5 C165.4,164.6 180.0,163.3 190.5,162.9 C200.9,162.6 207.2,162.6 215.5,163.4 C223.9,164.3 231.4,166.1 240.6,168.0 C249.8,169.8 265.7,173.4 270.7,174.5 L270.7,180.5 C265.7,179.3 249.8,175.3 240.6,173.5 C231.4,171.6 223.9,170.3 215.5,169.5 C207.2,168.6 200.9,168.5 190.5,168.5 C180.0,168.5 165.4,168.8 152.9,169.5 C140.3,170.1 127.8,171.0 115.2,172.5 C102.7,174.0 90.2,176.2 77.6,178.5 C65.1,180.8 46.3,184.8 40.0,186.0Z" fill="#f6e6ec" />
<path d="M97.7,180.5 C102.7,179.9 117.7,177.5 127.8,176.7 C137.8,176.0 152.9,176.1 157.9,176.0 L157.9,178.0 C152.9,178.4 137.8,179.6 127.8,180.5 C117.7,181.4 102.7,183.0 97.7,183.5Z" fill="#f6e6ec" />
</g>
<rect x="240.7" y="182" width="16.6" height="2.6" fill="#000"/>
</g>
<clipPath id="cA2"><rect x="263" y="34" width="215" height="152"/></clipPath>
<g clip-path="url(#cA2)">
<g filter="url(#b1)">
<rect x="260" y="31" width="221" height="158" fill="#e5e5e5"/>
<path d="M257.5,134.1 C264.6,134.5 286.8,135.5 300.2,136.6 C313.5,137.7 325.2,139.3 337.8,140.9 C350.3,142.4 362.9,144.0 375.4,145.9 C387.9,147.8 400.5,149.5 413.0,152.4 C425.5,155.3 438.9,159.5 450.6,163.4 C462.3,167.4 477.8,173.9 483.2,176.0 L483.2,190.5 L257.5,190.5Z" fill="#e9648b" />
<path d="M257.5,160.4 C266.7,160.4 295.1,159.6 312.7,160.4 C330.3,161.3 348.2,162.9 362.9,165.5 C377.5,168.0 394.2,173.8 400.5,175.5 L400.5,183.0 C394.2,182.0 377.5,178.8 362.9,176.7 C348.2,174.6 330.3,171.5 312.7,170.5 C295.1,169.4 266.7,170.5 257.5,170.5Z" fill="#ee7a9c" />
<rect x="263" y="34" width="215" height="152" filter="url(#texS)" opacity="0.35"/>
<rect x="260" y="31" width="221" height="43.02207265351282" fill="#e5e5e5"/>
<path d="M257.5,30.0 L483.2,30.0 L483.2,103.8 C477.8,102.5 462.3,98.7 450.6,96.5 C438.9,94.2 425.5,92.1 413.0,90.2 C400.5,88.3 387.9,86.9 375.4,85.2 C362.9,83.5 350.3,81.7 337.8,80.2 C325.2,78.7 313.5,77.5 300.2,76.4 C286.8,75.3 264.6,74.1 257.5,73.7Z" fill="#e5e5e5" />
<path d="M257.5,137.6 C264.6,138.0 286.8,139.0 300.2,140.1 C313.5,141.2 325.2,142.8 337.8,144.4 C350.3,145.9 362.9,147.5 375.4,149.4 C387.9,151.3 400.5,153.0 413.0,155.9 C425.5,158.8 438.9,163.0 450.6,166.9 C462.3,170.9 477.8,177.4 483.2,179.5 L483.2,184.0 C477.8,181.9 462.3,175.4 450.6,171.4 C438.9,167.5 425.5,163.3 413.0,160.4 C400.5,157.5 387.9,155.8 375.4,153.9 C362.9,152.0 350.3,150.4 337.8,148.9 C325.2,147.3 313.5,145.7 300.2,144.6 C286.8,143.5 264.6,142.5 257.5,142.1Z" fill="#f6e9ee" />
<path d="M257.5,145.1 C264.6,145.5 286.8,146.5 300.2,147.6 C313.5,148.7 325.2,150.3 337.8,151.9 C350.3,153.4 362.9,155.0 375.4,156.9 C387.9,158.8 400.5,160.5 413.0,163.4 C425.5,166.3 438.9,170.5 450.6,174.4 C462.3,178.4 477.8,184.9 483.2,187.0 L483.2,189.5 C477.8,187.4 462.3,180.9 450.6,176.9 C438.9,173.0 425.5,168.8 413.0,165.9 C400.5,163.0 387.9,161.3 375.4,159.4 C362.9,157.5 350.3,155.9 337.8,154.4 C325.2,152.8 313.5,151.2 300.2,150.1 C286.8,149.0 264.6,148.0 257.5,147.6Z" fill="#f3d5e0" />
<path d="M257.5,164.7 C261.7,165.0 275.1,165.2 282.6,166.7 C290.1,168.2 299.3,172.4 302.7,173.5 L302.7,175.0 C299.3,174.7 290.1,174.1 282.6,173.5 C275.1,172.9 261.7,171.6 257.5,171.2Z" fill="#f7edf1" />
<path d="M367.9,176.0 C370.4,175.4 377.5,172.7 382.9,172.7 C388.3,172.7 397.5,175.4 400.5,176.0 L400.5,181.8 C398.0,181.5 390.9,181.1 385.4,180.5 C380.0,179.9 370.8,178.4 367.9,178.0Z" fill="#f7edf1" />
<path d="M425.5,180.5 C429.7,180.9 441.0,180.9 450.6,183.0 C460.2,185.1 477.8,191.4 483.2,193.0 L483.2,195.5 C477.8,194.0 460.2,188.3 450.6,186.0 C441.0,183.8 429.7,182.7 425.5,182.0Z" fill="#f7edf1" />
<path d="M257.5,73.7 C264.6,74.1 286.8,75.3 300.2,76.4 C313.5,77.5 325.2,78.7 337.8,80.2 C350.3,81.7 362.9,83.5 375.4,85.2 C387.9,86.9 400.5,88.3 413.0,90.2 C425.5,92.1 438.9,94.2 450.6,96.5 C462.3,98.7 477.8,102.5 483.2,103.8 L483.2,176.0 C477.8,173.9 462.3,167.4 450.6,163.4 C438.9,159.5 425.5,155.3 413.0,152.4 C400.5,149.5 387.9,147.8 375.4,145.9 C362.9,144.0 350.3,142.4 337.8,140.9 C325.2,139.3 313.5,137.7 300.2,136.6 C286.8,135.5 264.6,134.5 257.5,134.1Z" fill="#c36a9f"/>
<linearGradient id="cg2" x1="0" y1="0" x2="0" y2="1"><stop offset="0" stop-color="#c56fa2"/><stop offset="0.35" stop-color="#cd82af"/><stop offset="0.7" stop-color="#ddabca"/><stop offset="1" stop-color="#ead0e1"/></linearGradient>
<path d="M267.6,132.3 C268.6,131.0 268.4,130.1 267.8,125.5 C267.2,120.8 265.7,112.5 264.1,104.5 C262.5,96.4 260.0,81.4 258.3,76.9 C256.6,72.4 254.1,72.8 253.9,77.6 C253.6,82.4 255.8,97.4 256.8,105.6 C257.8,113.8 258.8,122.1 259.7,126.7 C260.6,131.4 260.6,132.3 261.9,133.2 C263.3,134.2 266.6,133.6 267.6,132.3Z" fill="url(#cg2)" stroke="#b04a8a" stroke-width="2.7"/>
<line x1="263.7" y1="126.1" x2="260.3" y2="104.2" stroke="#f0dae8" stroke-width="2.0" stroke-linecap="round" opacity="0.75"/>
<path d="M280.1,134.0 C281.3,132.7 281.1,131.8 280.6,127.2 C280.0,122.6 278.5,114.3 277.0,106.3 C275.4,98.2 273.1,83.3 271.3,78.9 C269.4,74.4 266.5,74.9 266.0,79.6 C265.5,84.4 267.6,99.4 268.4,107.5 C269.2,115.7 270.2,124.0 271.0,128.6 C271.9,133.2 271.9,134.1 273.4,135.0 C275.0,135.9 278.9,135.3 280.1,134.0Z" fill="url(#cg2)" stroke="#b04a8a" stroke-width="2.7"/>
<line x1="275.8" y1="127.9" x2="272.6" y2="106.1" stroke="#f0dae8" stroke-width="2.4" stroke-linecap="round" opacity="0.75"/>
<path d="M290.2,133.6 C291.4,132.3 291.2,131.5 290.7,127.1 C290.2,122.8 288.8,115.0 287.3,107.4 C285.8,99.9 283.5,85.9 281.7,81.7 C279.9,77.5 276.8,78.0 276.3,82.5 C275.8,87.0 277.7,101.1 278.5,108.7 C279.3,116.4 280.1,124.3 280.9,128.6 C281.8,132.9 281.8,133.8 283.3,134.6 C284.9,135.4 289.0,134.8 290.2,133.6Z" fill="url(#cg2)" stroke="#b04a8a" stroke-width="2.7"/>
<line x1="285.8" y1="127.8" x2="282.8" y2="107.5" stroke="#f0dae8" stroke-width="2.5" stroke-linecap="round" opacity="0.75"/>
<path d="M302.7,134.0 C304.0,132.7 303.8,131.9 303.3,127.4 C302.9,122.9 301.4,114.9 299.9,107.1 C298.5,99.3 296.3,84.9 294.4,80.6 C292.5,76.3 289.4,76.7 288.7,81.4 C288.1,86.0 290.0,100.5 290.7,108.4 C291.4,116.3 292.2,124.4 293.0,128.8 C293.8,133.3 293.9,134.2 295.5,135.0 C297.1,135.9 301.4,135.3 302.7,134.0Z" fill="url(#cg2)" stroke="#b04a8a" stroke-width="2.7"/>
<line x1="298.2" y1="128.1" x2="295.2" y2="107.0" stroke="#f0dae8" stroke-width="2.6" stroke-linecap="round" opacity="0.75"/>
<path d="M315.6,136.7 C316.6,135.4 316.4,134.5 315.9,129.9 C315.5,125.3 314.1,117.0 312.7,108.9 C311.3,100.9 309.2,86.0 307.6,81.5 C306.0,77.0 303.4,77.4 303.0,82.1 C302.6,86.8 304.5,101.8 305.2,109.9 C306.0,118.1 306.9,126.4 307.6,131.0 C308.4,135.6 308.4,136.5 309.7,137.5 C311.1,138.4 314.5,138.0 315.6,136.7Z" fill="url(#cg2)" stroke="#b04a8a" stroke-width="2.7"/>
<line x1="311.8" y1="130.4" x2="308.9" y2="108.7" stroke="#f0dae8" stroke-width="2.1" stroke-linecap="round" opacity="0.75"/>
<path d="M326.2,137.7 C327.2,136.5 327.1,135.6 326.6,131.2 C326.2,126.8 324.9,118.9 323.6,111.2 C322.3,103.5 320.3,89.3 318.7,85.0 C317.2,80.8 314.6,81.1 314.2,85.6 C313.7,90.2 315.4,104.4 316.1,112.2 C316.8,120.0 317.6,127.9 318.3,132.3 C319.0,136.7 319.1,137.6 320.4,138.5 C321.7,139.4 325.2,138.9 326.2,137.7Z" fill="url(#cg2)" stroke="#b04a8a" stroke-width="2.7"/>
<line x1="322.5" y1="131.8" x2="319.8" y2="111.1" stroke="#f0dae8" stroke-width="2.1" stroke-linecap="round" opacity="0.75"/>
<path d="M338.0,138.1 C339.1,136.9 338.9,136.0 338.5,131.4 C338.1,126.8 336.8,118.5 335.5,110.5 C334.2,102.5 332.2,87.7 330.6,83.2 C329.0,78.7 326.4,79.1 325.9,83.8 C325.4,88.5 327.1,103.4 327.8,111.5 C328.5,119.6 329.2,127.8 329.9,132.4 C330.6,137.0 330.7,137.9 332.0,138.9 C333.4,139.8 337.0,139.4 338.0,138.1Z" fill="url(#cg2)" stroke="#b04a8a" stroke-width="2.7"/>
<line x1="334.2" y1="131.9" x2="331.6" y2="110.2" stroke="#f0dae8" stroke-width="2.2" stroke-linecap="round" opacity="0.75"/>
<path d="M352.6,141.3 C353.8,140.1 353.6,139.2 353.3,134.5 C352.9,129.9 351.7,121.7 350.4,113.6 C349.2,105.6 347.3,90.7 345.7,86.2 C344.0,81.8 341.2,82.1 340.6,86.8 C340.0,91.5 341.5,106.4 342.1,114.6 C342.6,122.7 343.3,131.0 344.0,135.6 C344.6,140.2 344.7,141.1 346.1,142.0 C347.6,143.0 351.4,142.6 352.6,141.3Z" fill="url(#cg2)" stroke="#b04a8a" stroke-width="2.7"/>
<line x1="348.6" y1="135.1" x2="346.2" y2="113.3" stroke="#f0dae8" stroke-width="2.3" stroke-linecap="round" opacity="0.75"/>
<path d="M361.1,141.5 C362.3,140.3 362.1,139.5 361.8,135.3 C361.5,131.0 360.3,123.4 359.1,116.1 C357.9,108.7 356.2,95.0 354.6,90.9 C352.9,86.8 350.0,87.1 349.3,91.5 C348.7,95.9 350.1,109.6 350.6,117.0 C351.1,124.5 351.6,132.1 352.3,136.4 C352.9,140.6 353.0,141.4 354.4,142.3 C355.9,143.1 359.9,142.7 361.1,141.5Z" fill="url(#cg2)" stroke="#b04a8a" stroke-width="2.7"/>
<line x1="357.1" y1="135.8" x2="354.8" y2="116.0" stroke="#f0dae8" stroke-width="2.4" stroke-linecap="round" opacity="0.75"/>
<path d="M372.8,143.5 C373.9,142.4 373.7,141.5 373.4,137.2 C373.1,132.9 372.0,125.3 370.9,117.7 C369.7,110.2 368.1,96.4 366.7,92.2 C365.2,88.0 362.7,88.3 362.2,92.7 C361.7,97.1 363.0,111.0 363.5,118.5 C364.1,126.1 364.7,133.8 365.3,138.1 C365.9,142.4 365.9,143.2 367.1,144.1 C368.4,145.0 371.8,144.7 372.8,143.5Z" fill="url(#cg2)" stroke="#b04a8a" stroke-width="2.7"/>
<line x1="369.3" y1="137.7" x2="367.1" y2="117.6" stroke="#f0dae8" stroke-width="2.0" stroke-linecap="round" opacity="0.75"/>
<path d="M384.9,145.2 C386.1,144.0 386.0,143.2 385.7,138.7 C385.4,134.2 384.4,126.3 383.3,118.5 C382.1,110.7 380.6,96.3 379.0,91.9 C377.5,87.6 374.6,87.9 373.9,92.4 C373.2,97.0 374.5,111.4 374.9,119.3 C375.3,127.1 375.8,135.2 376.4,139.6 C377.0,144.0 377.0,144.9 378.4,145.9 C379.8,146.8 383.7,146.4 384.9,145.2Z" fill="url(#cg2)" stroke="#b04a8a" stroke-width="2.7"/>
<line x1="381.1" y1="139.2" x2="379.0" y2="118.2" stroke="#f0dae8" stroke-width="2.3" stroke-linecap="round" opacity="0.75"/>
<path d="M399.8,147.7 C400.9,146.5 400.7,145.6 400.4,140.9 C400.1,136.3 399.1,128.1 398.0,120.0 C397.0,112.0 395.4,97.1 394.0,92.6 C392.6,88.1 390.0,88.3 389.4,93.0 C388.8,97.7 390.1,112.6 390.5,120.7 C391.0,128.8 391.5,137.1 392.1,141.7 C392.6,146.3 392.7,147.2 393.9,148.2 C395.2,149.2 398.7,148.9 399.8,147.7Z" fill="url(#cg2)" stroke="#b04a8a" stroke-width="2.7"/>
<line x1="396.2" y1="141.3" x2="394.2" y2="119.6" stroke="#f0dae8" stroke-width="2.1" stroke-linecap="round" opacity="0.75"/>
<path d="M410.2,149.0 C411.3,147.8 411.2,146.9 410.9,142.2 C410.6,137.5 409.6,129.2 408.6,121.0 C407.5,112.8 406.0,97.7 404.6,93.2 C403.2,88.6 400.7,88.8 400.1,93.6 C399.5,98.3 400.7,113.4 401.1,121.7 C401.6,129.9 402.1,138.3 402.6,142.9 C403.2,147.6 403.2,148.5 404.5,149.5 C405.7,150.5 409.2,150.2 410.2,149.0Z" fill="url(#cg2)" stroke="#b04a8a" stroke-width="2.7"/>
<line x1="406.7" y1="142.6" x2="404.8" y2="120.5" stroke="#f0dae8" stroke-width="2.1" stroke-linecap="round" opacity="0.75"/>
<path d="M422.8,152.6 C424.2,151.4 424.0,150.5 423.8,145.8 C423.6,141.1 422.7,132.8 421.6,124.6 C420.6,116.4 419.2,101.3 417.6,96.8 C415.9,92.2 412.7,92.5 411.8,97.2 C410.9,102.0 411.9,117.1 412.2,125.3 C412.4,133.6 412.8,142.0 413.3,146.6 C413.8,151.3 413.8,152.2 415.4,153.2 C417.0,154.2 421.4,153.9 422.8,152.6Z" fill="url(#cg2)" stroke="#b04a8a" stroke-width="2.7"/>
<line x1="418.6" y1="146.2" x2="416.8" y2="124.2" stroke="#f0dae8" stroke-width="2.6" stroke-linecap="round" opacity="0.75"/>
<path d="M435.7,155.7 C436.9,154.4 436.7,153.5 436.5,148.6 C436.3,143.8 435.4,135.0 434.4,126.5 C433.5,118.0 432.2,102.3 430.7,97.5 C429.3,92.8 426.6,93.0 425.9,97.9 C425.3,102.8 426.3,118.5 426.6,127.1 C426.9,135.7 427.3,144.4 427.8,149.3 C428.3,154.1 428.3,155.1 429.7,156.2 C431.0,157.2 434.6,157.0 435.7,155.7Z" fill="url(#cg2)" stroke="#b04a8a" stroke-width="2.7"/>
<line x1="432.2" y1="148.9" x2="430.5" y2="125.9" stroke="#f0dae8" stroke-width="2.2" stroke-linecap="round" opacity="0.75"/>
<path d="M446.3,158.6 C447.6,157.3 447.5,156.3 447.3,151.4 C447.1,146.5 446.3,137.7 445.3,129.0 C444.4,120.4 443.2,104.5 441.7,99.7 C440.2,94.8 437.2,95.0 436.4,100.0 C435.6,105.0 436.5,120.9 436.7,129.6 C436.9,138.3 437.3,147.1 437.7,152.0 C438.2,156.9 438.2,157.9 439.7,159.0 C441.1,160.1 445.1,159.8 446.3,158.6Z" fill="url(#cg2)" stroke="#b04a8a" stroke-width="2.7"/>
<line x1="442.5" y1="151.7" x2="441.0" y2="128.4" stroke="#f0dae8" stroke-width="2.4" stroke-linecap="round" opacity="0.75"/>
<path d="M458.8,162.8 C460.1,161.5 460.0,160.4 459.8,155.3 C459.7,150.1 458.8,140.8 457.9,131.8 C457.0,122.7 455.9,106.0 454.4,100.9 C452.9,95.8 450.0,96.0 449.2,101.2 C448.3,106.5 449.2,123.2 449.3,132.3 C449.5,141.4 449.8,150.7 450.3,155.9 C450.7,161.0 450.7,162.0 452.2,163.2 C453.6,164.4 457.6,164.1 458.8,162.8Z" fill="url(#cg2)" stroke="#b04a8a" stroke-width="2.7"/>
<line x1="455.0" y1="155.6" x2="453.6" y2="130.9" stroke="#f0dae8" stroke-width="2.4" stroke-linecap="round" opacity="0.75"/>
<path d="M468.9,167.5 C470.0,166.2 469.9,165.2 469.7,160.2 C469.6,155.1 468.9,146.0 468.1,137.1 C467.3,128.2 466.2,111.8 465.0,106.8 C463.7,101.8 461.2,101.9 460.5,107.0 C459.8,112.2 460.5,128.6 460.7,137.5 C460.9,146.4 461.1,155.6 461.5,160.6 C462.0,165.7 461.9,166.7 463.2,167.8 C464.4,169.0 467.8,168.8 468.9,167.5Z" fill="url(#cg2)" stroke="#b04a8a" stroke-width="2.7"/>
<line x1="465.6" y1="160.4" x2="464.3" y2="136.3" stroke="#f0dae8" stroke-width="2.1" stroke-linecap="round" opacity="0.75"/>
<path d="M482.5,172.5 C483.7,171.2 483.6,170.1 483.5,164.9 C483.4,159.7 482.7,150.4 482.0,141.3 C481.2,132.2 480.2,115.4 478.9,110.3 C477.5,105.1 474.7,105.3 473.8,110.5 C472.9,115.7 473.6,132.5 473.7,141.7 C473.7,150.8 473.9,160.2 474.3,165.4 C474.7,170.6 474.7,171.6 476.1,172.8 C477.4,174.0 481.3,173.8 482.5,172.5Z" fill="url(#cg2)" stroke="#b04a8a" stroke-width="2.7"/>
<line x1="478.9" y1="165.2" x2="477.8" y2="140.4" stroke="#f0dae8" stroke-width="2.3" stroke-linecap="round" opacity="0.75"/>
<clipPath id="tc2"><path d="M257.5,73.7 C264.6,74.1 286.8,75.3 300.2,76.4 C313.5,77.5 325.2,78.7 337.8,80.2 C350.3,81.7 362.9,83.5 375.4,85.2 C387.9,86.9 400.5,88.3 413.0,90.2 C425.5,92.1 438.9,94.2 450.6,96.5 C462.3,98.7 477.8,102.5 483.2,103.8 L483.2,176.0 C477.8,173.9 462.3,167.4 450.6,163.4 C438.9,159.5 425.5,155.3 413.0,152.4 C400.5,149.5 387.9,147.8 375.4,145.9 C362.9,144.0 350.3,142.4 337.8,140.9 C325.2,139.3 313.5,137.7 300.2,136.6 C286.8,135.5 264.6,134.5 257.5,134.1Z"/></clipPath>
<g clip-path="url(#tc2)"><rect x="263" y="34" width="215" height="152" filter="url(#tex)" opacity="0.38"/></g>
<path d="M257.5,73.7 C264.6,74.1 286.8,75.3 300.2,76.4 C313.5,77.5 325.2,78.7 337.8,80.2 C350.3,81.7 362.9,83.5 375.4,85.2 C387.9,86.9 400.5,88.3 413.0,90.2 C425.5,92.1 438.9,94.2 450.6,96.5 C462.3,98.7 477.8,102.5 483.2,103.8" fill="none" stroke="#cf7fae" stroke-width="2.2"/>
<ellipse cx="268" cy="40" rx="5" ry="5" fill="#cf7fae"/>
<ellipse cx="278" cy="38" rx="6" ry="4" fill="#cf7fae"/>
<ellipse cx="272" cy="50" rx="4" ry="6" fill="#cf7fae"/>
<ellipse cx="290" cy="37" rx="8" ry="3" fill="#cf7fae"/>
</g>
<rect x="452.8" y="182" width="16.4" height="2.6" fill="#000"/>
</g>
<clipPath id="cA3"><rect x="483" y="34" width="213.5" height="152"/></clipPath>
<g clip-path="url(#cA3)">
<g filter="url(#b1)">
<rect x="480" y="31" width="219.5" height="158" fill="#f5f4f5"/>
<path d="M475.0,166.7 C480.4,164.4 498.0,156.5 507.6,152.9 C517.2,149.4 524.3,147.7 532.7,145.4 C541.1,143.1 549.4,140.6 557.8,139.1 C566.1,137.7 574.5,136.9 582.9,136.6 C591.2,136.3 599.6,136.7 607.9,137.4 C616.3,138.0 624.6,138.6 633.0,140.4 C641.4,142.1 649.7,144.6 658.1,147.9 C666.4,151.2 675.6,155.6 683.2,160.4 C690.7,165.2 699.9,174.0 703.2,176.7 L703.2,190.5 L475.0,190.5Z" fill="#f8f1f5" />
<path d="M475.0,165.7 C480.4,163.4 498.0,155.5 507.6,151.9 C517.2,148.4 524.3,146.7 532.7,144.4 C541.1,142.1 549.4,139.6 557.8,138.1 C566.1,136.7 574.5,135.9 582.9,135.6 C591.2,135.3 599.6,135.7 607.9,136.4 C616.3,137.0 624.6,137.6 633.0,139.4 C641.4,141.1 649.7,143.6 658.1,146.9 C666.4,150.2 675.6,154.6 683.2,159.4 C690.7,164.2 699.9,173.0 703.2,175.7 L703.2,186.2 C699.9,183.5 690.7,174.7 683.2,169.9 C675.6,165.1 666.4,160.7 658.1,157.4 C649.7,154.1 641.4,151.6 633.0,149.9 C624.6,148.1 616.3,147.5 607.9,146.9 C599.6,146.2 591.2,145.8 582.9,146.1 C574.5,146.4 566.1,147.2 557.8,148.6 C549.4,150.1 541.1,152.6 532.7,154.9 C524.3,157.2 517.2,158.9 507.6,162.4 C498.0,166.0 480.4,173.9 475.0,176.2Z" fill="#f0cfe0" />
<path d="M475.0,184.3 C476.4,183.4 476.1,183.8 483.0,179.2 C489.9,174.7 505.2,162.3 516.4,156.9 C527.6,151.5 538.8,149.2 550.0,146.9 C561.2,144.6 572.4,143.6 583.6,143.4 C594.8,143.1 607.6,144.8 617.0,145.4 C626.3,146.0 632.0,145.4 639.5,146.9 C647.1,148.4 656.5,151.9 662.1,154.7 C667.7,157.5 670.8,160.3 673.1,163.7 C675.5,167.1 675.5,170.1 676.1,175.0 C676.8,179.9 677.0,190.0 677.1,193.0 L662.6,193.0 C662.5,190.4 662.4,181.9 661.8,177.5 C661.3,173.1 661.8,169.8 659.6,166.5 C657.4,163.1 652.6,159.7 648.6,157.4 C644.5,155.2 640.8,154.0 635.5,152.9 C630.3,151.8 625.6,151.6 617.0,150.9 C608.3,150.2 594.8,148.7 583.6,148.9 C572.4,149.2 561.2,150.1 550.0,152.4 C538.8,154.8 527.6,157.3 516.4,162.9 C505.2,168.5 489.9,181.0 483.0,186.0 C476.1,191.0 476.4,191.9 475.0,193.0Z" fill="#e987b2" />
<path d="M620.5,151.4 C623.0,151.8 631.0,152.7 635.5,153.9 C640.0,155.1 643.8,156.1 647.6,158.4 C651.3,160.8 656.3,166.4 658.1,168.0 L660.6,193.0 C658.9,192.6 654.7,192.6 650.6,190.5 C646.4,188.4 640.5,183.8 635.5,180.5 C630.5,177.2 623.0,172.1 620.5,170.5Z" fill="#f9f5f7" />
<path d="M475.0,188.5 C476.4,187.9 474.3,188.5 483.0,185.0 C491.8,181.5 514.6,171.5 527.7,167.5 C540.7,163.4 552.9,161.9 561.3,160.9 C569.6,160.0 573.4,160.8 577.8,161.9 C582.3,163.1 586.2,167.0 587.9,168.0 L584.1,169.5 C582.9,168.7 580.4,165.9 576.6,165.0 C572.8,164.0 569.4,163.0 561.3,163.9 C553.1,164.9 540.7,166.4 527.7,170.5 C514.6,174.6 491.8,184.8 483.0,188.5 C474.3,192.3 476.4,192.3 475.0,193.0Z" fill="#e27aaa" />
<path d="M545.2,193.0 C546.9,191.0 550.3,183.8 555.3,180.5 C560.3,177.2 568.6,173.9 575.3,173.5 C582.0,173.1 590.4,174.7 595.4,178.0 C600.4,181.3 603.8,190.5 605.4,193.0 L605.4,195.5 L545.2,195.5Z" fill="#c577b0" />
<path d="M552.8,193.0 C554.0,191.6 556.5,186.7 560.3,184.3 C564.0,181.8 570.3,178.7 575.3,178.5 C580.3,178.3 586.8,180.6 590.4,183.0 C593.9,185.4 595.6,191.4 596.6,193.0 L596.6,195.5 L552.8,195.5Z" fill="#e9b6d4" />
<rect x="483" y="129" width="213.5" height="57" filter="url(#texS)" opacity="0.28"/>
<path d="M656.8,30.0 C660.4,30.0 670.4,30.0 678.2,30.0 C685.9,30.0 699.0,30.0 703.2,30.0 L703.2,55.1 C699.0,52.9 685.9,45.6 678.2,42.1 C670.4,38.6 660.4,35.4 656.8,34.0Z" fill="#e88cb6" />
<path d="M656.8,34.5 C660.4,35.9 670.4,39.1 678.2,42.6 C685.9,46.1 699.0,53.4 703.2,55.6" fill="none" stroke="#c765a2" stroke-width="2"/>
<path d="M475.0,98.2 C480.4,96.5 498.0,90.9 507.6,87.7 C517.2,84.5 524.3,81.4 532.7,78.9 C541.1,76.4 549.4,74.0 557.8,72.7 C566.1,71.4 574.5,71.2 582.9,71.2 C591.2,71.1 599.6,71.7 607.9,72.2 C616.3,72.6 624.6,73.0 633.0,73.9 C641.4,74.8 649.7,76.0 658.1,77.7 C666.4,79.4 675.6,81.7 683.2,84.2 C690.7,86.7 699.9,91.3 703.2,92.7 L703.2,176.7 C699.9,174.0 690.7,165.2 683.2,160.4 C675.6,155.6 666.4,151.2 658.1,147.9 C649.7,144.6 641.4,142.1 633.0,140.4 C624.6,138.6 616.3,138.0 607.9,137.4 C599.6,136.7 591.2,136.3 582.9,136.6 C574.5,136.9 566.1,137.7 557.8,139.1 C549.4,140.6 541.1,143.1 532.7,145.4 C524.3,147.7 517.2,149.4 507.6,152.9 C498.0,156.5 480.4,164.4 475.0,166.7Z" fill="#cf74ab"/>
<linearGradient id="cg3" x1="0" y1="0" x2="0" y2="1"><stop offset="0" stop-color="#dc97c0"/><stop offset="0.5" stop-color="#e6b5d2"/><stop offset="1" stop-color="#eecfe2"/></linearGradient>
<path d="M483.6,164.1 C485.1,163.1 485.4,161.9 487.2,156.2 C489.1,150.4 491.9,140.0 494.6,129.7 C497.3,119.4 502.7,100.7 503.4,94.6 C504.1,88.6 501.6,87.8 498.9,93.3 C496.3,98.8 490.6,117.5 487.3,127.5 C484.0,137.6 480.7,147.9 479.1,153.8 C477.5,159.6 477.1,160.7 477.9,162.4 C478.6,164.2 482.0,165.2 483.6,164.1Z" fill="url(#cg3)" stroke="#c45c9f" stroke-width="2.0"/>
<line x1="485.8" y1="146.0" x2="500.6" y2="95.9" stroke="#faf3f7" stroke-width="2.1" stroke-linecap="round" opacity="0.75"/>
<path d="M491.7,160.1 C493.3,159.2 493.5,158.1 495.2,152.7 C496.8,147.3 499.3,137.4 501.6,127.7 C503.9,118.1 508.6,100.4 509.1,94.7 C509.5,89.0 506.9,88.2 504.4,93.4 C501.9,98.6 496.9,116.1 493.9,125.6 C491.0,135.1 488.0,144.8 486.7,150.3 C485.3,155.8 484.9,156.9 485.8,158.5 C486.6,160.1 490.2,161.1 491.7,160.1Z" fill="url(#cg3)" stroke="#c45c9f" stroke-width="2.0"/>
<line x1="493.3" y1="143.0" x2="506.2" y2="96.0" stroke="#faf3f7" stroke-width="2.2" stroke-linecap="round" opacity="0.75"/>
<line x1="497.8" y1="147.8" x2="511.1" y2="93.2" stroke="#fbf5f8" stroke-width="1.3" stroke-linecap="round"/>
<path d="M503.3,154.3 C504.6,153.3 504.8,152.2 506.3,146.9 C507.7,141.6 509.9,131.9 511.9,122.5 C514.0,113.0 518.2,95.7 518.7,90.2 C519.2,84.6 517.1,84.1 514.9,89.2 C512.8,94.4 508.4,111.6 505.8,121.0 C503.2,130.3 500.7,139.8 499.5,145.2 C498.3,150.6 497.9,151.6 498.6,153.1 C499.2,154.7 502.1,155.4 503.3,154.3Z" fill="url(#cg3)" stroke="#c45c9f" stroke-width="2.0"/>
<line x1="504.9" y1="137.7" x2="516.3" y2="91.6" stroke="#faf3f7" stroke-width="1.7" stroke-linecap="round" opacity="0.75"/>
<line x1="508.7" y1="142.0" x2="520.4" y2="88.6" stroke="#fbf5f8" stroke-width="1.3" stroke-linecap="round"/>
<path d="M513.6,152.0 C515.0,151.0 515.2,150.0 516.4,144.9 C517.7,139.8 519.4,130.5 521.1,121.4 C522.7,112.3 526.2,95.7 526.3,90.4 C526.4,85.0 523.8,84.5 521.7,89.4 C519.5,94.3 515.8,110.8 513.5,119.8 C511.2,128.7 509.0,137.9 508.0,143.1 C507.1,148.2 506.8,149.2 507.7,150.7 C508.6,152.2 512.1,153.0 513.6,152.0Z" fill="url(#cg3)" stroke="#c45c9f" stroke-width="2.0"/>
<line x1="514.0" y1="136.0" x2="523.5" y2="91.8" stroke="#faf3f7" stroke-width="2.2" stroke-linecap="round" opacity="0.75"/>
<line x1="518.7" y1="140.2" x2="528.3" y2="88.8" stroke="#fbf5f8" stroke-width="1.3" stroke-linecap="round"/>
<path d="M525.0,146.7 C526.2,145.6 526.4,144.5 527.5,139.0 C528.6,133.6 530.2,123.7 531.7,114.0 C533.2,104.4 536.4,86.6 536.5,81.0 C536.6,75.4 534.4,75.0 532.5,80.3 C530.6,85.6 527.2,103.3 525.2,112.8 C523.1,122.4 521.1,132.2 520.2,137.7 C519.3,143.2 519.1,144.3 519.9,145.8 C520.7,147.3 523.7,147.8 525.0,146.7Z" fill="url(#cg3)" stroke="#c45c9f" stroke-width="2.0"/>
<line x1="525.4" y1="129.8" x2="534.1" y2="82.6" stroke="#faf3f7" stroke-width="1.8" stroke-linecap="round" opacity="0.75"/>
<line x1="529.6" y1="134.0" x2="538.4" y2="79.3" stroke="#fbf5f8" stroke-width="1.3" stroke-linecap="round"/>
<path d="M537.1,144.7 C538.4,143.5 538.5,142.4 539.5,137.0 C540.5,131.5 541.8,121.6 542.9,112.0 C544.1,102.3 546.7,84.5 546.6,78.9 C546.5,73.3 544.0,72.9 542.2,78.2 C540.4,83.6 537.5,101.3 535.8,110.9 C534.0,120.4 532.2,130.2 531.5,135.7 C530.8,141.2 530.6,142.3 531.5,143.8 C532.4,145.3 535.8,145.8 537.1,144.7Z" fill="url(#cg3)" stroke="#c45c9f" stroke-width="2.0"/>
<line x1="536.8" y1="127.8" x2="544.1" y2="80.5" stroke="#faf3f7" stroke-width="2.0" stroke-linecap="round" opacity="0.75"/>
<path d="M544.7,142.9 C546.1,141.8 546.1,140.7 547.0,135.4 C547.8,130.1 548.7,120.4 549.6,111.0 C550.4,101.5 552.4,84.2 552.0,78.7 C551.6,73.3 549.0,72.9 547.2,78.1 C545.5,83.3 543.2,100.6 541.7,110.0 C540.2,119.4 538.7,128.9 538.2,134.3 C537.7,139.7 537.5,140.7 538.6,142.2 C539.6,143.6 543.3,144.1 544.7,142.9Z" fill="url(#cg3)" stroke="#c45c9f" stroke-width="2.0"/>
<line x1="543.6" y1="126.5" x2="549.4" y2="80.4" stroke="#faf3f7" stroke-width="2.2" stroke-linecap="round" opacity="0.75"/>
<line x1="548.8" y1="130.4" x2="554.1" y2="77.0" stroke="#fbf5f8" stroke-width="1.3" stroke-linecap="round"/>
<path d="M555.3,138.5 C556.5,137.4 556.5,136.4 557.1,131.5 C557.7,126.6 558.3,117.8 558.8,109.1 C559.4,100.4 560.7,84.5 560.3,79.5 C559.8,74.5 557.5,74.3 556.1,79.1 C554.7,83.9 553.1,99.8 552.0,108.5 C550.9,117.1 549.9,125.9 549.6,130.8 C549.2,135.7 549.1,136.7 550.0,138.0 C551.0,139.3 554.1,139.6 555.3,138.5Z" fill="url(#cg3)" stroke="#c45c9f" stroke-width="2.0"/>
<line x1="554.1" y1="123.5" x2="558.0" y2="81.3" stroke="#faf3f7" stroke-width="1.9" stroke-linecap="round" opacity="0.75"/>
<path d="M564.7,137.8 C566.0,136.7 566.0,135.7 566.4,130.7 C566.9,125.8 567.2,116.9 567.4,108.1 C567.6,99.4 568.4,83.3 567.7,78.3 C567.0,73.3 564.3,73.2 562.9,78.0 C561.6,82.9 560.5,99.0 559.6,107.6 C558.8,116.3 558.0,125.2 557.8,130.2 C557.6,135.2 557.5,136.1 558.7,137.4 C559.8,138.7 563.4,138.9 564.7,137.8Z" fill="url(#cg3)" stroke="#c45c9f" stroke-width="2.0"/>
<line x1="562.6" y1="122.7" x2="565.2" y2="80.2" stroke="#faf3f7" stroke-width="2.2" stroke-linecap="round" opacity="0.75"/>
<path d="M576.5,136.1 C577.8,135.0 577.8,134.1 578.0,129.4 C578.3,124.7 578.3,116.3 578.2,108.0 C578.1,99.8 578.4,84.6 577.5,79.9 C576.5,75.2 573.7,75.1 572.5,79.8 C571.3,84.4 570.7,99.6 570.1,107.8 C569.6,116.0 569.1,124.5 569.1,129.2 C569.1,133.8 569.0,134.8 570.2,135.9 C571.5,137.1 575.2,137.2 576.5,136.1Z" fill="url(#cg3)" stroke="#c45c9f" stroke-width="2.0"/>
<line x1="573.8" y1="122.0" x2="574.9" y2="81.8" stroke="#faf3f7" stroke-width="2.2" stroke-linecap="round" opacity="0.75"/>
<line x1="579.4" y1="124.9" x2="579.5" y2="78.0" stroke="#fbf5f8" stroke-width="1.3" stroke-linecap="round"/>
<path d="M588.2,135.9 C589.3,134.6 589.3,133.6 589.4,128.4 C589.5,123.3 589.2,114.0 588.8,104.9 C588.5,95.8 588.3,79.0 587.3,73.9 C586.4,68.7 584.0,68.7 583.1,73.9 C582.2,79.1 582.1,95.8 581.9,104.9 C581.7,114.0 581.5,123.3 581.6,128.5 C581.8,133.6 581.7,134.7 582.8,135.9 C583.9,137.1 587.1,137.1 588.2,135.9Z" fill="url(#cg3)" stroke="#c45c9f" stroke-width="2.0"/>
<line x1="585.5" y1="120.4" x2="585.2" y2="75.9" stroke="#faf3f7" stroke-width="1.9" stroke-linecap="round" opacity="0.75"/>
<path d="M595.6,134.4 C596.6,133.2 596.5,132.1 596.4,127.1 C596.3,122.0 595.7,112.9 595.1,104.0 C594.5,95.1 593.7,78.7 592.6,73.6 C591.5,68.6 589.2,68.7 588.6,73.8 C587.9,78.9 588.4,95.3 588.5,104.3 C588.6,113.2 588.7,122.3 589.0,127.4 C589.4,132.4 589.3,133.4 590.4,134.6 C591.5,135.8 594.6,135.7 595.6,134.4Z" fill="url(#cg3)" stroke="#c45c9f" stroke-width="2.0"/>
<line x1="592.4" y1="119.3" x2="590.7" y2="75.7" stroke="#faf3f7" stroke-width="1.8" stroke-linecap="round" opacity="0.75"/>
<path d="M609.9,136.5 C611.0,135.3 610.8,134.3 610.6,129.4 C610.4,124.4 609.5,115.6 608.6,106.9 C607.7,98.3 606.4,82.4 605.0,77.5 C603.7,72.7 601.2,72.9 600.6,77.9 C600.0,82.8 601.0,98.8 601.4,107.5 C601.7,116.2 602.1,125.0 602.6,129.9 C603.1,134.8 603.1,135.8 604.3,136.9 C605.5,138.0 608.9,137.8 609.9,136.5Z" fill="url(#cg3)" stroke="#c45c9f" stroke-width="2.0"/>
<line x1="606.0" y1="122.0" x2="603.0" y2="79.7" stroke="#faf3f7" stroke-width="2.0" stroke-linecap="round" opacity="0.75"/>
<path d="M616.7,136.9 C617.6,135.5 617.4,134.5 617.0,129.5 C616.6,124.5 615.4,115.4 614.1,106.6 C612.9,97.8 611.0,81.5 609.7,76.5 C608.3,71.6 606.1,71.8 605.8,76.9 C605.5,82.1 607.1,98.4 607.8,107.3 C608.5,116.2 609.3,125.2 610.0,130.3 C610.6,135.3 610.7,136.3 611.8,137.4 C612.9,138.5 615.9,138.2 616.7,136.9Z" fill="url(#cg3)" stroke="#c45c9f" stroke-width="2.0"/>
<line x1="612.6" y1="122.0" x2="607.9" y2="78.7" stroke="#faf3f7" stroke-width="1.8" stroke-linecap="round" opacity="0.75"/>
<path d="M627.3,137.2 C628.2,135.8 628.0,134.8 627.4,129.7 C626.8,124.6 625.3,115.4 623.7,106.5 C622.2,97.6 619.7,81.1 618.1,76.2 C616.4,71.2 614.1,71.5 613.9,76.8 C613.7,82.0 615.9,98.5 616.9,107.5 C617.9,116.5 618.9,125.7 619.8,130.8 C620.6,135.8 620.7,136.9 622.0,137.9 C623.2,139.0 626.4,138.5 627.3,137.2Z" fill="url(#cg3)" stroke="#c45c9f" stroke-width="2.0"/>
<line x1="622.5" y1="122.3" x2="616.3" y2="78.4" stroke="#faf3f7" stroke-width="1.9" stroke-linecap="round" opacity="0.75"/>
<path d="M639.3,139.2 C640.1,137.9 639.9,136.9 639.2,131.9 C638.5,126.9 636.7,118.0 635.0,109.3 C633.3,100.6 630.4,84.6 628.7,79.8 C627.0,74.9 624.9,75.3 624.9,80.4 C624.9,85.5 627.5,101.6 628.7,110.4 C629.9,119.2 631.2,128.2 632.1,133.1 C633.1,138.1 633.2,139.1 634.4,140.1 C635.6,141.1 638.5,140.6 639.3,139.2Z" fill="url(#cg3)" stroke="#c45c9f" stroke-width="2.0"/>
<line x1="634.4" y1="124.8" x2="627.1" y2="82.1" stroke="#faf3f7" stroke-width="1.8" stroke-linecap="round" opacity="0.75"/>
<line x1="639.6" y1="126.9" x2="630.6" y2="77.4" stroke="#fbf5f8" stroke-width="1.3" stroke-linecap="round"/>
<path d="M651.0,143.7 C652.0,142.3 651.7,141.2 650.9,135.9 C650.0,130.7 648.0,121.3 645.9,112.1 C643.8,102.9 640.5,86.0 638.4,80.9 C636.4,75.9 633.6,76.4 633.6,81.8 C633.5,87.3 636.5,104.3 638.0,113.6 C639.4,122.9 640.9,132.4 642.0,137.6 C643.2,142.8 643.3,143.9 644.8,144.9 C646.3,145.9 650.0,145.2 651.0,143.7Z" fill="url(#cg3)" stroke="#c45c9f" stroke-width="2.0"/>
<line x1="644.9" y1="128.6" x2="636.4" y2="83.4" stroke="#faf3f7" stroke-width="2.2" stroke-linecap="round" opacity="0.75"/>
<path d="M659.9,145.0 C660.7,143.4 660.4,142.3 659.3,136.8 C658.2,131.3 655.7,121.4 653.3,111.8 C650.8,102.2 646.7,84.3 644.5,79.0 C642.4,73.7 640.0,74.3 640.3,80.0 C640.6,85.7 644.5,103.6 646.3,113.3 C648.2,123.1 650.2,133.1 651.6,138.5 C652.9,144.0 653.1,145.1 654.5,146.2 C655.9,147.3 659.1,146.6 659.9,145.0Z" fill="url(#cg3)" stroke="#c45c9f" stroke-width="2.0"/>
<line x1="653.5" y1="129.1" x2="642.9" y2="81.5" stroke="#faf3f7" stroke-width="2.0" stroke-linecap="round" opacity="0.75"/>
<path d="M669.2,150.6 C670.0,148.9 669.7,147.8 668.5,141.9 C667.3,136.0 664.6,125.5 661.8,115.2 C659.1,105.0 654.6,86.0 652.2,80.4 C649.8,74.7 647.2,75.3 647.5,81.5 C647.9,87.6 652.1,106.6 654.2,117.0 C656.3,127.4 658.5,138.0 660.0,143.8 C661.5,149.7 661.7,150.9 663.2,152.0 C664.8,153.1 668.3,152.3 669.2,150.6Z" fill="url(#cg3)" stroke="#c45c9f" stroke-width="2.0"/>
<line x1="662.1" y1="133.7" x2="650.3" y2="82.9" stroke="#faf3f7" stroke-width="2.2" stroke-linecap="round" opacity="0.75"/>
<line x1="668.3" y1="136.0" x2="654.2" y2="77.9" stroke="#fbf5f8" stroke-width="1.3" stroke-linecap="round"/>
<path d="M681.8,157.3 C682.4,155.6 682.0,154.3 680.6,148.1 C679.1,141.8 676.1,130.6 673.1,119.6 C670.0,108.7 664.8,88.5 662.4,82.4 C660.0,76.4 657.9,76.9 658.6,83.4 C659.3,89.9 664.3,110.1 666.8,121.2 C669.3,132.3 671.9,143.6 673.6,149.8 C675.3,156.0 675.5,157.3 676.9,158.5 C678.3,159.8 681.2,159.1 681.8,157.3Z" fill="url(#cg3)" stroke="#c45c9f" stroke-width="2.0"/>
<line x1="674.6" y1="139.2" x2="661.0" y2="84.9" stroke="#faf3f7" stroke-width="1.8" stroke-linecap="round" opacity="0.75"/>
<path d="M690.5,162.3 C691.3,160.4 690.9,159.2 689.4,152.7 C687.8,146.2 684.5,134.6 681.2,123.4 C677.9,112.1 672.3,91.3 669.5,85.1 C666.8,78.9 664.1,79.6 664.7,86.3 C665.4,93.1 670.7,114.0 673.4,125.4 C676.0,136.9 678.8,148.6 680.7,155.0 C682.5,161.4 682.8,162.7 684.4,163.9 C686.0,165.1 689.7,164.2 690.5,162.3Z" fill="url(#cg3)" stroke="#c45c9f" stroke-width="2.0"/>
<line x1="682.4" y1="143.8" x2="667.6" y2="87.7" stroke="#faf3f7" stroke-width="2.3" stroke-linecap="round" opacity="0.75"/>
<path d="M703.9,172.8 C704.5,170.8 704.1,169.4 702.3,162.2 C700.5,155.0 696.9,142.2 693.2,129.7 C689.6,117.2 683.3,94.0 680.5,87.1 C677.6,80.2 675.3,80.8 676.2,88.2 C677.2,95.6 683.3,118.8 686.3,131.5 C689.4,144.2 692.6,157.1 694.6,164.2 C696.6,171.3 697.0,172.8 698.5,174.2 C700.0,175.6 703.2,174.8 703.9,172.8Z" fill="url(#cg3)" stroke="#c45c9f" stroke-width="2.0"/>
<line x1="695.5" y1="152.0" x2="678.9" y2="89.6" stroke="#faf3f7" stroke-width="2.0" stroke-linecap="round" opacity="0.75"/>
<line x1="701.6" y1="155.0" x2="682.4" y2="84.6" stroke="#fbf5f8" stroke-width="1.3" stroke-linecap="round"/>
<clipPath id="tc3"><path d="M475.0,98.2 C480.4,96.5 498.0,90.9 507.6,87.7 C517.2,84.5 524.3,81.4 532.7,78.9 C541.1,76.4 549.4,74.0 557.8,72.7 C566.1,71.4 574.5,71.2 582.9,71.2 C591.2,71.1 599.6,71.7 607.9,72.2 C616.3,72.6 624.6,73.0 633.0,73.9 C641.4,74.8 649.7,76.0 658.1,77.7 C666.4,79.4 675.6,81.7 683.2,84.2 C690.7,86.7 699.9,91.3 703.2,92.7 L703.2,176.7 C699.9,174.0 690.7,165.2 683.2,160.4 C675.6,155.6 666.4,151.2 658.1,147.9 C649.7,144.6 641.4,142.1 633.0,140.4 C624.6,138.6 616.3,138.0 607.9,137.4 C599.6,136.7 591.2,136.3 582.9,136.6 C574.5,136.9 566.1,137.7 557.8,139.1 C549.4,140.6 541.1,143.1 532.7,145.4 C524.3,147.7 517.2,149.4 507.6,152.9 C498.0,156.5 480.4,164.4 475.0,166.7Z"/></clipPath>
<g clip-path="url(#tc3)"><rect x="483" y="34" width="213.5" height="152" filter="url(#tex)" opacity="0.3"/></g>
<path d="M475.0,98.2 C480.4,96.5 498.0,90.9 507.6,87.7 C517.2,84.5 524.3,81.4 532.7,78.9 C541.1,76.4 549.4,74.0 557.8,72.7 C566.1,71.4 574.5,71.2 582.9,71.2 C591.2,71.1 599.6,71.7 607.9,72.2 C616.3,72.6 624.6,73.0 633.0,73.9 C641.4,74.8 649.7,76.0 658.1,77.7 C666.4,79.4 675.6,81.7 683.2,84.2 C690.7,86.7 699.9,91.3 703.2,92.7" fill="none" stroke="#d277ad" stroke-width="2.2"/>
</g>
<rect x="671.3" y="181.5" width="16.4" height="2.6" fill="#000"/>
</g>
<clipPath id="cA4"><rect x="700" y="34" width="214.5" height="152"/></clipPath>
<g clip-path="url(#cA4)">
<g filter="url(#b1)">
<rect x="697" y="31" width="220.5" height="158" fill="#ffffff"/>
<path d="M695.0,168.5 C700.4,168.4 715.9,168.2 727.6,168.0 C739.3,167.7 754.8,167.5 765.2,167.0 C775.7,166.5 782.0,165.8 790.3,165.0 C798.7,164.1 804.9,162.7 815.4,161.9 C825.8,161.2 843.8,160.3 853.0,160.4 C862.2,160.6 864.3,161.6 870.6,162.9 C876.8,164.3 881.8,166.0 890.6,168.5 C899.4,170.9 917.8,176.0 923.2,177.5 L923.2,190.5 L695.0,190.5Z" fill="#f0a6cc" />
<path d="M695.0,175.5 C700.4,175.4 715.9,175.2 727.6,175.0 C739.3,174.7 754.8,174.5 765.2,174.0 C775.7,173.5 782.0,172.8 790.3,172.0 C798.7,171.1 804.9,169.7 815.4,168.9 C825.8,168.2 843.8,167.3 853.0,167.4 C862.2,167.6 864.3,168.6 870.6,169.9 C876.8,171.3 881.8,173.0 890.6,175.5 C899.4,177.9 917.8,183.0 923.2,184.5 L923.2,190.0 C917.8,188.5 899.4,183.4 890.6,181.0 C881.8,178.5 876.8,176.8 870.6,175.4 C864.3,174.1 862.2,173.1 853.0,172.9 C843.8,172.8 825.8,173.7 815.4,174.4 C804.9,175.2 798.7,176.6 790.3,177.5 C782.0,178.3 775.7,179.0 765.2,179.5 C754.8,180.0 739.3,180.2 727.6,180.5 C715.9,180.7 700.4,180.9 695.0,181.0Z" fill="#fbf3f8" />
<linearGradient id="mg4" gradientUnits="userSpaceOnUse" x1="0" y1="45" x2="0" y2="170"><stop offset="0" stop-color="#eaa6dc"/><stop offset="0.6" stop-color="#de97d3"/><stop offset="1" stop-color="#cc86c9"/></linearGradient>
<path d="M695.0,66.4 C698.4,66.2 709.6,65.7 715.1,65.1 C720.5,64.6 724.5,65.0 727.6,63.1 C730.8,61.3 730.1,55.8 733.9,53.9 C737.6,51.9 745.0,51.6 750.2,51.3 C755.4,51.1 760.6,51.2 765.2,52.6 C769.8,54.0 772.8,58.3 777.8,59.6 C782.8,61.0 789.9,60.6 795.3,60.6 C800.8,60.6 806.0,58.9 810.4,59.6 C814.8,60.4 818.3,65.8 821.7,65.1 C825.0,64.5 825.2,58.5 830.4,55.6 C835.7,52.7 845.5,49.3 853.0,47.6 C860.5,45.8 868.5,45.3 875.6,45.1 C882.7,44.9 889.8,45.1 895.6,46.3 C901.5,47.6 906.1,50.7 910.7,52.6 C915.3,54.5 921.1,56.8 923.2,57.6 L923.2,177.5 C917.8,176.0 899.4,170.9 890.6,168.5 C881.8,166.0 876.8,164.3 870.6,162.9 C864.3,161.6 862.2,160.6 853.0,160.4 C843.8,160.3 825.8,161.2 815.4,161.9 C804.9,162.7 798.7,164.1 790.3,165.0 C782.0,165.8 775.7,166.5 765.2,167.0 C754.8,167.5 739.3,167.7 727.6,168.0 C715.9,168.2 700.4,168.4 695.0,168.5Z" fill="url(#mg4)"/>
<linearGradient id="cg4" x1="0" y1="0" x2="0" y2="1"><stop offset="0" stop-color="#e6b3e2"/><stop offset="0.55" stop-color="#dfa9dd"/><stop offset="1" stop-color="#c98ecc"/></linearGradient>
<path d="M718.7,166.0 C720.2,164.4 719.8,163.4 718.9,158.2 C717.9,153.1 715.5,144.1 713.0,135.2 C710.5,126.4 706.5,110.0 703.8,105.3 C701.2,100.6 697.3,101.4 697.0,106.9 C696.6,112.3 700.2,128.8 701.8,137.8 C703.3,146.8 705.1,156.1 706.4,161.1 C707.8,166.1 707.9,167.2 710.0,168.0 C712.0,168.8 717.2,167.6 718.7,166.0Z" fill="url(#cg4)" stroke="#ad58b2" stroke-width="2.6"/>
<path d="M743.8,164.6 C745.6,162.7 745.2,161.4 744.1,155.2 C743.0,148.9 740.1,137.7 737.2,126.9 C734.3,116.0 729.7,95.8 726.6,90.0 C723.5,84.1 718.9,85.1 718.5,91.7 C718.1,98.3 722.2,118.6 724.0,129.7 C725.8,140.8 727.8,152.1 729.4,158.3 C731.0,164.5 731.1,165.8 733.5,166.8 C735.9,167.9 742.0,166.6 743.8,164.6Z" fill="url(#cg4)" stroke="#ad58b2" stroke-width="2.6"/>
<path d="M769.3,165.0 C770.9,163.1 770.6,161.8 769.6,155.1 C768.7,148.4 766.2,136.5 763.7,124.9 C761.1,113.3 757.2,91.8 754.4,85.5 C751.7,79.1 747.6,79.8 747.2,86.7 C746.8,93.6 750.3,115.2 751.8,127.0 C753.4,138.8 755.1,150.8 756.5,157.4 C757.8,164.0 758.0,165.3 760.1,166.6 C762.2,167.9 767.7,166.9 769.3,165.0Z" fill="url(#cg4)" stroke="#ad58b2" stroke-width="2.6"/>
<path d="M797.0,161.4 C798.9,159.8 798.6,158.8 797.9,153.6 C797.2,148.5 795.1,139.3 792.9,130.4 C790.6,121.5 787.3,104.9 784.6,100.1 C781.8,95.3 777.2,96.2 776.3,101.6 C775.4,107.1 778.2,123.8 779.3,132.9 C780.4,142.0 781.7,151.3 782.8,156.4 C784.0,161.5 784.1,162.5 786.5,163.4 C788.8,164.2 795.1,163.1 797.0,161.4Z" fill="url(#cg4)" stroke="#ad58b2" stroke-width="2.6"/>
<path d="M817.7,159.7 C819.3,158.2 819.1,157.3 818.4,152.5 C817.8,147.7 815.9,139.2 813.9,130.9 C811.9,122.6 808.9,107.3 806.5,102.8 C804.1,98.3 800.1,99.0 799.4,104.1 C798.8,109.1 801.3,124.5 802.4,133.0 C803.4,141.5 804.6,150.1 805.6,154.8 C806.7,159.5 806.8,160.5 808.8,161.3 C810.8,162.1 816.1,161.2 817.7,159.7Z" fill="url(#cg4)" stroke="#ad58b2" stroke-width="2.6"/>
<path d="M847.3,158.5 C849.3,156.4 849.0,155.1 848.1,148.1 C847.2,141.2 844.7,128.8 842.1,116.7 C839.5,104.6 835.5,82.3 832.5,75.7 C829.4,69.1 824.4,69.9 823.6,77.1 C822.8,84.4 826.2,106.8 827.6,119.1 C829.0,131.4 830.6,143.9 832.0,150.8 C833.4,157.6 833.5,159.0 836.1,160.3 C838.6,161.6 845.3,160.5 847.3,158.5Z" fill="url(#cg4)" stroke="#ad58b2" stroke-width="2.6"/>
<path d="M867.0,159.3 C869.0,157.6 868.7,156.4 868.1,150.2 C867.5,144.0 865.6,133.0 863.5,122.3 C861.5,111.6 858.5,91.7 855.9,85.8 C853.3,79.9 848.7,80.5 847.7,86.9 C846.7,93.3 849.2,113.2 850.1,124.1 C851.0,135.0 852.1,146.1 853.1,152.2 C854.2,158.3 854.3,159.6 856.6,160.8 C858.9,161.9 865.1,161.1 867.0,159.3Z" fill="url(#cg4)" stroke="#ad58b2" stroke-width="2.6"/>
<path d="M892.6,165.8 C894.6,164.0 894.3,162.7 893.9,156.2 C893.4,149.8 891.6,138.3 889.8,127.0 C887.9,115.8 885.3,95.0 882.7,88.8 C880.0,82.6 875.2,83.2 874.0,89.8 C872.9,96.4 874.9,117.3 875.6,128.6 C876.3,140.0 877.2,151.6 878.2,158.0 C879.2,164.4 879.2,165.7 881.6,167.0 C884.0,168.3 890.5,167.5 892.6,165.8Z" fill="url(#cg4)" stroke="#ad58b2" stroke-width="2.6"/>
<path d="M918.4,172.6 C920.2,170.7 919.9,169.2 919.4,161.9 C918.9,154.5 917.2,141.4 915.3,128.6 C913.5,115.8 910.8,92.1 908.4,85.0 C905.9,77.9 901.6,78.3 900.6,85.8 C899.6,93.3 901.8,117.0 902.6,129.9 C903.4,142.8 904.3,156.0 905.3,163.3 C906.3,170.6 906.3,172.1 908.5,173.6 C910.7,175.2 916.6,174.6 918.4,172.6Z" fill="url(#cg4)" stroke="#ad58b2" stroke-width="2.6"/>
<line x1="765.2" y1="120.3" x2="761.5" y2="94.0" stroke="#fbf4fa" stroke-width="3.4000000000000004" stroke-linecap="round"/>
<line x1="863.0" y1="112.8" x2="854.3" y2="66.4" stroke="#fbf4fa" stroke-width="3.8" stroke-linecap="round"/>
<line x1="731.4" y1="105.3" x2="725.1" y2="83.9" stroke="#fbf4fa" stroke-width="2.8" stroke-linecap="round"/>
<line x1="911.9" y1="125.3" x2="908.2" y2="102.8" stroke="#fbf4fa" stroke-width="3.0" stroke-linecap="round"/>
<line x1="807.9" y1="102.8" x2="804.1" y2="90.2" stroke="#fbf4fa" stroke-width="2.4000000000000004" stroke-linecap="round"/>
<line x1="705.0" y1="102.8" x2="702.0" y2="87.7" stroke="#fbf4fa" stroke-width="2.4000000000000004" stroke-linecap="round"/>
<clipPath id="tc4"><path d="M695.0,66.4 C698.4,66.2 709.6,65.7 715.1,65.1 C720.5,64.6 724.5,65.0 727.6,63.1 C730.8,61.3 730.1,55.8 733.9,53.9 C737.6,51.9 745.0,51.6 750.2,51.3 C755.4,51.1 760.6,51.2 765.2,52.6 C769.8,54.0 772.8,58.3 777.8,59.6 C782.8,61.0 789.9,60.6 795.3,60.6 C800.8,60.6 806.0,58.9 810.4,59.6 C814.8,60.4 818.3,65.8 821.7,65.1 C825.0,64.5 825.2,58.5 830.4,55.6 C835.7,52.7 845.5,49.3 853.0,47.6 C860.5,45.8 868.5,45.3 875.6,45.1 C882.7,44.9 889.8,45.1 895.6,46.3 C901.5,47.6 906.1,50.7 910.7,52.6 C915.3,54.5 921.1,56.8 923.2,57.6 L923.2,177.5 C917.8,176.0 899.4,170.9 890.6,168.5 C881.8,166.0 876.8,164.3 870.6,162.9 C864.3,161.6 862.2,160.6 853.0,160.4 C843.8,160.3 825.8,161.2 815.4,161.9 C804.9,162.7 798.7,164.1 790.3,165.0 C782.0,165.8 775.7,166.5 765.2,167.0 C754.8,167.5 739.3,167.7 727.6,168.0 C715.9,168.2 700.4,168.4 695.0,168.5Z"/></clipPath>
<g clip-path="url(#tc4)"><rect x="700" y="34" width="214.5" height="152" filter="url(#texM)" opacity="0.5"/></g>
<line x1="765.2" y1="120.3" x2="761.5" y2="94.0" stroke="#fbf4fa" stroke-width="2.0" stroke-linecap="round" opacity="0.8"/>
<line x1="863.0" y1="112.8" x2="854.3" y2="66.4" stroke="#fbf4fa" stroke-width="2.4" stroke-linecap="round" opacity="0.8"/>
<path d="M695.0,66.4 C698.4,66.2 709.6,65.7 715.1,65.1 C720.5,64.6 724.5,65.0 727.6,63.1 C730.8,61.3 730.1,55.8 733.9,53.9 C737.6,51.9 745.0,51.6 750.2,51.3 C755.4,51.1 760.6,51.2 765.2,52.6 C769.8,54.0 772.8,58.3 777.8,59.6 C782.8,61.0 789.9,60.6 795.3,60.6 C800.8,60.6 806.0,58.9 810.4,59.6 C814.8,60.4 818.3,65.8 821.7,65.1 C825.0,64.5 825.2,58.5 830.4,55.6 C835.7,52.7 845.5,49.3 853.0,47.6 C860.5,45.8 868.5,45.3 875.6,45.1 C882.7,44.9 889.8,45.1 895.6,46.3 C901.5,47.6 906.1,50.7 910.7,52.6 C915.3,54.5 921.1,56.8 923.2,57.6" fill="none" stroke="#c070c0" stroke-width="2.2"/>
</g>
<rect x="889.3" y="182" width="16.4" height="2.6" fill="#000"/>
</g>
<clipPath id="cB1"><rect x="37" y="269" width="246" height="205"/></clipPath>
<g clip-path="url(#cB1)">
<g filter="url(#b1)">
<linearGradient id="bg1" x1="0" y1="0" x2="1" y2="1"><stop offset="0" stop-color="#e1dad6"/><stop offset="1" stop-color="#e2ddd9"/></linearGradient>
<rect x="34" y="266" width="252" height="211" fill="url(#bg1)"/>
<ellipse cx="52.4" cy="371.8" rx="11" ry="4.6" fill="#9169b6" transform="rotate(-82 52.4 371.8)"/>
<ellipse cx="56.3" cy="353.8" rx="11" ry="4.6" fill="#9169b6" transform="rotate(-70 56.3 353.8)"/>
<ellipse cx="62.7" cy="335.8" rx="11" ry="4.6" fill="#9169b6" transform="rotate(-58 62.7 335.8)"/>
<ellipse cx="73.0" cy="320.4" rx="11" ry="4.6" fill="#9169b6" transform="rotate(-47 73.0 320.4)"/>
<ellipse cx="85.8" cy="307.6" rx="11" ry="4.6" fill="#9169b6" transform="rotate(-36 85.8 307.6)"/>
<ellipse cx="101.3" cy="297.3" rx="11" ry="4.6" fill="#9169b6" transform="rotate(-25 101.3 297.3)"/>
<ellipse cx="116.7" cy="289.6" rx="11" ry="4.6" fill="#9169b6" transform="rotate(-15 116.7 289.6)"/>
<ellipse cx="132.1" cy="284.4" rx="11" ry="4.6" fill="#9169b6" transform="rotate(-6 132.1 284.4)"/>
<ellipse cx="75.6" cy="353.8" rx="10" ry="4.2" fill="#9169b6" transform="rotate(-95 75.6 353.8)"/>
<ellipse cx="83.3" cy="338.4" rx="10" ry="4.2" fill="#9169b6" transform="rotate(-82 83.3 338.4)"/>
<ellipse cx="94.8" cy="324.3" rx="10" ry="4.2" fill="#9169b6" transform="rotate(-68 94.8 324.3)"/>
<ellipse cx="109.0" cy="312.7" rx="10" ry="4.2" fill="#9169b6" transform="rotate(-55 109.0 312.7)"/>
<ellipse cx="124.4" cy="303.7" rx="10" ry="4.2" fill="#9169b6" transform="rotate(-43 124.4 303.7)"/>
<ellipse cx="52.4" cy="413.0" rx="9" ry="4" fill="#9068b2" transform="rotate(60 52.4 413.0)"/>
<ellipse cx="60.1" cy="428.4" rx="10" ry="5" fill="#9068b2" transform="rotate(55 60.1 428.4)"/>
<ellipse cx="67.8" cy="443.8" rx="9" ry="4" fill="#9068b2" transform="rotate(50 67.8 443.8)"/>
<ellipse cx="78.1" cy="456.7" rx="9" ry="4" fill="#9068b2" transform="rotate(40 78.1 456.7)"/>
<ellipse cx="47.3" cy="402.7" rx="5" ry="3" fill="#9068b2" transform="rotate(70 47.3 402.7)"/>
<ellipse cx="96.1" cy="466.9" rx="12" ry="3" fill="#9068b2" transform="rotate(15 96.1 466.9)"/>
<path d="M232.4,279.3 C235.6,273.9 242.7,270.7 247.8,270.3 C252.9,269.9 260.0,272.2 263.2,276.7 C266.4,281.2 267.1,291.3 267.1,297.3 C267.1,303.3 265.6,308.8 263.2,312.7 C260.9,316.6 253.4,316.6 252.9,320.4 C252.5,324.3 260.2,330.3 260.7,335.8 C261.1,341.4 258.5,350.0 255.5,353.8 C252.5,357.7 245.2,361.1 242.7,359.0 C240.1,356.8 241.4,347.0 240.1,341.0 C238.8,335.0 236.9,329.4 234.9,323.0 C233.0,316.6 228.9,309.7 228.5,302.4 C228.1,295.1 229.2,284.6 232.4,279.3Z" fill="#9a6cb6"/>
<path d="M236.2,284.4 C238.8,281.0 246.3,278.4 250.4,279.3 C254.4,280.1 259.2,284.9 260.7,289.6 C262.1,294.3 261.9,304.1 259.4,307.6 C256.8,311.0 249.3,311.4 245.2,310.1 C241.2,308.8 236.4,304.1 234.9,299.8 C233.4,295.6 233.7,287.9 236.2,284.4Z" fill="#cf68bd"/>
<path d="M216.9,389.8 C222.1,383.8 228.1,380.0 232.4,377.0 C236.7,374.0 241.4,371.0 242.7,371.8 C243.9,372.7 243.1,377.8 240.1,382.1 C237.1,386.4 229.4,392.4 224.7,397.5 C219.9,402.7 215.2,407.0 211.8,413.0 C208.4,419.0 206.2,430.1 204.1,433.5 C202.0,437.0 199.4,437.0 199.0,433.5 C198.5,430.1 198.5,420.2 201.5,413.0 C204.5,405.7 211.8,395.8 216.9,389.8Z" fill="#a070b8"/>
<path d="M150.0,277.6 C152.7,277.2 156.1,275.6 159.6,275.4 C163.0,275.1 167.1,275.4 170.6,275.9 C174.2,276.4 177.5,277.8 180.8,278.6 C184.0,279.3 187.2,279.7 190.2,280.7 C193.2,281.7 196.0,283.1 198.8,284.6 C201.6,286.0 204.4,287.4 206.9,289.3 C209.4,291.1 211.9,293.0 213.9,295.5 C215.9,298.0 217.1,301.5 218.8,304.5 C220.4,307.5 221.9,310.3 223.8,313.4 C225.7,316.5 228.5,319.4 230.1,323.1 C231.7,326.8 232.3,331.8 233.4,335.6 C234.5,339.4 236.3,342.8 236.8,345.9 C237.3,349.0 236.2,351.8 236.2,354.2 C236.3,356.6 237.1,358.1 237.0,360.1 C236.8,362.2 236.7,364.2 235.5,366.6 C234.2,368.9 231.2,371.7 229.3,374.3 C227.5,376.9 226.2,379.4 224.3,382.0 C222.3,384.6 220.1,387.3 217.9,389.9 C215.7,392.4 212.8,394.8 211.0,397.3 C209.1,399.8 207.9,402.3 206.7,404.9 C205.6,407.5 204.9,410.2 204.2,413.0 C203.5,415.8 203.2,418.8 202.3,421.4 C201.5,424.0 200.2,426.2 199.1,428.6 C198.0,431.0 197.1,433.3 195.9,435.6 C194.7,437.9 193.6,440.5 192.1,442.5 C190.5,444.5 188.4,445.9 186.5,447.7 C184.6,449.6 182.8,451.6 180.6,453.5 C178.4,455.4 176.0,457.3 173.3,458.9 C170.6,460.6 167.6,462.2 164.6,463.4 C161.6,464.6 158.4,465.4 155.2,466.3 C151.9,467.3 148.6,468.3 145.2,469.1 C141.8,469.8 138.2,470.4 134.7,470.9 C131.3,471.4 127.8,472.1 124.4,472.0 C121.1,471.9 117.8,471.2 114.6,470.4 C111.4,469.6 108.3,468.0 105.2,467.1 C102.0,466.3 98.4,466.4 95.7,465.1 C93.0,463.8 91.1,461.4 89.0,459.4 C86.9,457.5 84.7,455.7 83.0,453.4 C81.2,451.1 80.3,448.1 78.7,445.9 C77.0,443.6 74.4,442.2 73.0,439.9 C71.5,437.5 70.5,434.6 69.8,431.8 C69.1,429.0 69.2,425.7 68.7,422.8 C68.1,420.0 67.0,417.5 66.3,414.7 C65.5,412.0 64.6,409.2 64.1,406.3 C63.7,403.5 63.7,400.5 63.5,397.6 C63.2,394.7 62.5,391.9 62.7,389.0 C62.8,386.2 63.9,383.3 64.2,380.4 C64.5,377.5 64.0,374.6 64.5,371.7 C65.0,368.8 66.2,366.0 67.4,363.1 C68.6,360.3 70.3,357.7 71.7,354.9 C73.0,352.0 74.0,349.0 75.4,346.0 C76.8,343.0 78.2,339.9 80.1,336.9 C81.9,333.9 84.1,331.0 86.3,328.2 C88.6,325.5 91.1,323.1 93.5,320.4 C96.0,317.7 98.3,314.5 101.0,312.0 C103.6,309.5 106.9,307.6 109.6,305.3 C112.2,302.9 114.6,300.3 116.9,297.9 C119.1,295.5 121.0,292.7 123.0,290.9 C125.1,289.1 127.1,288.3 129.1,287.2 C131.1,286.0 133.0,285.1 134.7,283.9 C136.5,282.7 137.9,281.1 139.4,280.0 C141.0,279.0 142.2,277.9 143.9,277.5 C145.7,277.1 147.4,277.9 150.0,277.6Z" fill="#9169b6" />
<path d="M148.1,284.1 C150.5,283.8 153.7,283.6 156.9,283.6 C160.1,283.5 164.0,283.6 167.3,283.9 C170.7,284.2 174.1,284.6 177.2,285.3 C180.3,285.9 183.1,286.8 186.0,287.8 C188.8,288.8 191.6,290.0 194.2,291.4 C196.7,292.8 199.2,294.4 201.5,296.2 C203.8,298.0 206.0,300.1 208.0,302.3 C210.0,304.6 211.8,307.0 213.6,309.6 C215.3,312.3 217.0,314.9 218.5,318.1 C220.1,321.2 221.7,324.7 223.1,328.3 C224.5,331.9 225.9,336.1 226.9,339.7 C228.0,343.2 228.9,346.8 229.5,349.6 C230.1,352.5 230.4,354.7 230.5,356.9 C230.7,359.1 230.7,360.8 230.3,362.9 C229.9,364.9 229.4,366.9 228.3,369.1 C227.1,371.3 225.4,373.8 223.6,376.2 C221.7,378.6 219.2,381.1 217.1,383.6 C215.1,386.0 213.0,388.5 211.2,390.9 C209.5,393.4 208.1,395.8 206.7,398.2 C205.2,400.7 203.9,403.1 202.6,405.5 C201.4,407.9 200.1,410.3 199.1,412.8 C198.1,415.3 197.3,417.8 196.6,420.3 C195.8,422.8 195.4,425.3 194.6,427.7 C193.8,430.1 192.9,432.5 191.8,434.7 C190.7,436.9 189.3,438.9 187.9,440.9 C186.4,442.9 184.9,444.7 183.1,446.5 C181.3,448.3 179.4,450.0 177.2,451.7 C175.1,453.3 172.6,454.9 170.0,456.4 C167.5,457.8 164.6,459.2 161.8,460.5 C158.9,461.7 156.0,462.8 152.9,463.8 C149.9,464.8 146.7,465.7 143.5,466.4 C140.3,467.2 136.8,467.9 133.5,468.2 C130.2,468.6 127.0,468.8 123.8,468.7 C120.6,468.6 117.5,468.1 114.3,467.5 C111.2,466.9 108.0,466.0 105.2,465.0 C102.3,464.0 99.5,462.8 97.1,461.4 C94.6,460.0 92.5,458.4 90.4,456.6 C88.4,454.9 86.6,452.8 84.8,450.8 C83.1,448.7 81.5,446.6 80.1,444.4 C78.6,442.2 77.3,439.9 76.1,437.5 C74.9,435.2 73.8,432.7 72.9,430.2 C71.9,427.7 71.1,425.1 70.3,422.5 C69.6,419.9 69.0,417.3 68.5,414.6 C68.0,411.9 67.6,409.1 67.3,406.4 C67.0,403.7 66.9,400.9 66.7,398.2 C66.6,395.5 66.4,392.8 66.4,390.1 C66.4,387.4 66.5,384.7 66.7,382.0 C67.0,379.3 67.3,376.6 67.9,373.9 C68.5,371.2 69.3,368.5 70.3,365.8 C71.2,363.1 72.3,360.4 73.5,357.7 C74.8,355.0 76.1,352.4 77.6,349.6 C79.1,346.9 80.8,344.2 82.6,341.5 C84.4,338.7 86.3,336.0 88.3,333.3 C90.4,330.6 92.4,328.0 94.6,325.3 C96.9,322.7 99.3,320.1 101.7,317.6 C104.2,315.0 106.9,312.4 109.4,310.1 C111.9,307.7 114.3,305.5 116.5,303.5 C118.7,301.5 120.7,299.8 122.6,298.1 C124.6,296.5 126.4,295.1 128.2,293.7 C130.0,292.4 131.9,291.2 133.5,290.1 C135.1,289.1 136.6,288.1 138.0,287.3 C139.5,286.5 140.6,285.8 142.2,285.3 C143.9,284.7 145.6,284.3 148.1,284.1Z" fill="#d166bc" />
<path d="M148.1,294.0 C150.3,293.8 153.1,293.6 156.0,293.6 C158.9,293.6 162.3,293.6 165.3,293.9 C168.4,294.1 171.4,294.6 174.2,295.1 C177.0,295.7 179.5,296.5 182.0,297.4 C184.5,298.3 187.0,299.4 189.3,300.6 C191.6,301.9 193.8,303.3 195.9,304.9 C198.0,306.5 199.9,308.4 201.7,310.4 C203.5,312.4 205.1,314.6 206.7,316.9 C208.3,319.3 209.7,321.7 211.1,324.5 C212.5,327.2 213.9,330.4 215.2,333.6 C216.4,336.8 217.7,340.6 218.6,343.8 C219.6,346.9 220.3,350.1 220.9,352.7 C221.4,355.3 221.7,357.2 221.9,359.2 C222.0,361.2 222.0,362.7 221.6,364.5 C221.3,366.3 220.8,368.1 219.8,370.1 C218.8,372.1 217.3,374.3 215.6,376.4 C214.0,378.6 211.7,380.8 209.9,383.0 C208.0,385.2 206.2,387.4 204.6,389.6 C203.0,391.8 201.8,394.0 200.5,396.1 C199.2,398.3 198.0,400.5 196.9,402.7 C195.7,404.8 194.6,407.0 193.7,409.2 C192.8,411.4 192.1,413.6 191.5,415.9 C190.8,418.1 190.4,420.4 189.7,422.5 C189.0,424.7 188.2,426.8 187.2,428.7 C186.2,430.7 185.0,432.5 183.7,434.3 C182.4,436.0 181.0,437.7 179.4,439.3 C177.8,441.0 176.1,442.5 174.2,443.9 C172.2,445.4 170.1,446.8 167.7,448.1 C165.4,449.4 162.9,450.7 160.3,451.8 C157.8,452.9 155.2,453.9 152.5,454.8 C149.7,455.7 146.9,456.5 144.0,457.1 C141.1,457.8 138.0,458.4 135.1,458.7 C132.1,459.1 129.2,459.2 126.4,459.1 C123.5,459.0 120.7,458.6 117.9,458.1 C115.2,457.5 112.3,456.8 109.7,455.8 C107.2,454.9 104.7,453.9 102.5,452.6 C100.3,451.4 98.4,449.9 96.5,448.4 C94.7,446.8 93.1,445.0 91.6,443.1 C90.0,441.3 88.6,439.4 87.3,437.4 C86.0,435.4 84.8,433.4 83.7,431.3 C82.6,429.2 81.7,426.9 80.9,424.7 C80.0,422.5 79.3,420.2 78.6,417.9 C78.0,415.5 77.4,413.2 77.0,410.8 C76.5,408.4 76.2,405.9 75.9,403.5 C75.6,401.0 75.5,398.6 75.3,396.1 C75.2,393.7 75.1,391.3 75.1,388.9 C75.1,386.5 75.1,384.1 75.3,381.7 C75.6,379.2 75.9,376.8 76.4,374.4 C77.0,372.0 77.7,369.6 78.5,367.2 C79.4,364.8 80.4,362.4 81.5,359.9 C82.6,357.5 83.8,355.1 85.1,352.7 C86.5,350.3 87.9,347.8 89.5,345.4 C91.1,342.9 92.9,340.5 94.7,338.1 C96.5,335.7 98.3,333.3 100.3,331.0 C102.3,328.6 104.5,326.3 106.7,324.0 C108.9,321.7 111.3,319.4 113.5,317.3 C115.7,315.2 117.9,313.2 119.9,311.4 C121.8,309.6 123.6,308.1 125.3,306.6 C127.1,305.2 128.7,303.9 130.3,302.7 C132.0,301.5 133.6,300.4 135.1,299.5 C136.5,298.5 137.8,297.7 139.1,296.9 C140.4,296.2 141.4,295.6 142.9,295.1 C144.4,294.7 145.9,294.3 148.1,294.0Z" fill="#9169b6" />
<path d="M149.9,279.7 C152.4,279.4 155.7,279.3 159.0,279.2 C162.3,279.2 166.2,279.3 169.7,279.6 C173.2,279.8 176.7,280.3 179.9,281.0 C183.1,281.7 186.0,282.5 188.9,283.6 C191.8,284.6 194.6,285.8 197.3,287.3 C199.9,288.7 202.5,290.4 204.9,292.2 C207.2,294.1 209.4,296.2 211.5,298.5 C213.6,300.8 215.5,303.4 217.3,306.1 C219.1,308.8 220.7,311.5 222.4,314.7 C224.0,317.9 225.6,321.6 227.0,325.3 C228.5,329.0 229.9,333.3 231.0,336.9 C232.1,340.6 233.0,344.2 233.6,347.2 C234.2,350.2 234.6,352.4 234.7,354.7 C234.9,357.0 234.8,358.7 234.4,360.8 C234.0,362.9 233.5,364.9 232.4,367.2 C231.2,369.5 229.4,372.0 227.5,374.5 C225.6,377.0 223.0,379.6 220.9,382.1 C218.8,384.6 216.7,387.2 214.9,389.7 C213.1,392.2 211.6,394.7 210.1,397.2 C208.7,399.7 207.3,402.2 206.0,404.7 C204.7,407.2 203.4,409.6 202.4,412.2 C201.3,414.7 200.5,417.3 199.8,419.8 C199.0,422.4 198.6,425.1 197.7,427.5 C196.9,430.0 196.0,432.4 194.9,434.7 C193.7,436.9 192.3,439.0 190.8,441.0 C189.3,443.1 187.7,445.0 185.9,446.9 C184.1,448.7 182.1,450.5 179.9,452.1 C177.6,453.8 175.1,455.4 172.5,457.0 C169.8,458.5 166.9,459.9 164.0,461.2 C161.0,462.5 158.0,463.6 154.9,464.6 C151.8,465.7 148.5,466.6 145.2,467.3 C141.8,468.1 138.3,468.8 134.9,469.2 C131.5,469.6 128.2,469.8 124.9,469.6 C121.6,469.5 118.4,469.1 115.2,468.4 C112.0,467.8 108.7,466.9 105.8,465.8 C102.8,464.8 100.0,463.6 97.4,462.1 C94.9,460.7 92.7,459.1 90.6,457.2 C88.5,455.4 86.6,453.3 84.8,451.2 C83.1,449.1 81.4,446.9 79.9,444.7 C78.4,442.4 77.0,440.1 75.8,437.6 C74.6,435.2 73.5,432.6 72.5,430.0 C71.5,427.5 70.7,424.8 69.9,422.2 C69.2,419.5 68.6,416.8 68.0,414.0 C67.5,411.3 67.1,408.4 66.8,405.6 C66.5,402.8 66.3,400.0 66.2,397.2 C66.0,394.4 65.9,391.6 65.9,388.8 C65.9,386.1 65.9,383.3 66.2,380.5 C66.4,377.7 66.8,375.0 67.4,372.2 C68.0,369.4 68.9,366.6 69.8,363.9 C70.8,361.1 72.0,358.3 73.2,355.5 C74.5,352.8 75.9,350.0 77.4,347.2 C79.0,344.4 80.7,341.6 82.5,338.8 C84.4,336.0 86.4,333.1 88.4,330.4 C90.5,327.6 92.6,324.9 94.9,322.2 C97.2,319.5 99.7,316.8 102.2,314.2 C104.8,311.6 107.6,308.9 110.1,306.5 C112.6,304.1 115.1,301.8 117.4,299.7 C119.7,297.7 121.7,295.9 123.7,294.2 C125.7,292.5 127.6,291.1 129.4,289.7 C131.3,288.3 133.2,287.1 134.9,286.0 C136.6,284.9 138.0,283.9 139.5,283.1 C141.0,282.2 142.2,281.5 143.9,281.0 C145.6,280.4 147.4,280.0 149.9,279.7Z" fill="none" stroke="#5f3f90" stroke-opacity="0.3" stroke-width="3.5" stroke-dasharray="1.1 1.7"/>
<path d="M147.3,304.8 C149.3,304.6 151.8,304.5 154.3,304.5 C156.8,304.4 159.9,304.5 162.5,304.7 C165.2,304.9 167.9,305.3 170.3,305.8 C172.8,306.3 175.0,307.0 177.2,307.8 C179.4,308.6 181.6,309.5 183.7,310.6 C185.7,311.7 187.7,313.0 189.5,314.4 C191.3,315.9 193.0,317.5 194.5,319.2 C196.1,321.0 197.6,323.0 199.0,325.0 C200.4,327.1 201.6,329.2 202.9,331.7 C204.1,334.1 205.4,336.9 206.5,339.7 C207.6,342.6 208.7,345.9 209.5,348.7 C210.4,351.5 211.0,354.3 211.5,356.6 C212.0,358.8 212.2,360.6 212.4,362.3 C212.5,364.0 212.4,365.4 212.1,367.0 C211.8,368.6 211.4,370.1 210.5,371.9 C209.7,373.6 208.3,375.6 206.9,377.5 C205.4,379.4 203.4,381.4 201.8,383.3 C200.2,385.2 198.5,387.2 197.1,389.1 C195.8,391.0 194.7,392.9 193.5,394.9 C192.4,396.8 191.3,398.7 190.3,400.6 C189.3,402.5 188.4,404.4 187.6,406.3 C186.8,408.3 186.2,410.3 185.6,412.2 C185.0,414.2 184.6,416.2 184.0,418.1 C183.4,420.0 182.7,421.9 181.8,423.6 C180.9,425.3 179.8,426.9 178.7,428.5 C177.5,430.0 176.3,431.5 174.9,432.9 C173.5,434.4 172.0,435.7 170.3,437.0 C168.6,438.3 166.7,439.5 164.7,440.7 C162.6,441.8 160.4,443.0 158.1,443.9 C155.9,444.9 153.6,445.8 151.2,446.6 C148.8,447.3 146.3,448.0 143.7,448.6 C141.2,449.2 138.4,449.7 135.9,450.0 C133.3,450.3 130.7,450.5 128.2,450.4 C125.7,450.3 123.2,450.0 120.7,449.5 C118.3,449.0 115.8,448.3 113.5,447.5 C111.2,446.7 109.1,445.8 107.1,444.7 C105.2,443.6 103.5,442.3 101.9,440.9 C100.3,439.5 98.8,437.9 97.5,436.3 C96.1,434.7 94.9,433.0 93.7,431.2 C92.6,429.5 91.5,427.7 90.6,425.9 C89.6,424.0 88.8,422.0 88.0,420.0 C87.3,418.1 86.6,416.1 86.1,414.0 C85.5,412.0 85.0,409.9 84.6,407.8 C84.2,405.7 83.9,403.5 83.7,401.3 C83.4,399.2 83.3,397.0 83.2,394.9 C83.1,392.7 83.0,390.6 83.0,388.5 C83.0,386.3 83.0,384.2 83.2,382.1 C83.4,380.0 83.7,377.8 84.1,375.7 C84.6,373.6 85.2,371.4 86.0,369.3 C86.7,367.2 87.6,365.1 88.6,362.9 C89.5,360.8 90.6,358.7 91.8,356.6 C93.0,354.4 94.3,352.3 95.7,350.1 C97.1,347.9 98.7,345.8 100.2,343.6 C101.8,341.5 103.4,339.5 105.2,337.4 C107.0,335.3 108.9,333.3 110.8,331.3 C112.8,329.3 114.9,327.2 116.8,325.3 C118.8,323.5 120.7,321.7 122.4,320.2 C124.2,318.6 125.7,317.2 127.3,315.9 C128.8,314.7 130.2,313.5 131.7,312.5 C133.1,311.4 134.6,310.5 135.9,309.6 C137.1,308.8 138.3,308.0 139.4,307.4 C140.5,306.8 141.4,306.2 142.7,305.8 C144.1,305.4 145.4,305.1 147.3,304.8Z" fill="none" stroke="#5f3f90" stroke-opacity="0.3" stroke-width="14" stroke-dasharray="1.1 1.7"/>
<path d="M156.0,297.9 C157.5,297.9 162.0,297.9 164.9,298.2 C167.7,298.4 170.6,298.8 173.2,299.3 C175.9,299.9 178.2,300.6 180.6,301.5 C183.0,302.3 185.4,303.3 187.6,304.5 C189.8,305.7 191.9,307.0 193.8,308.6 C195.8,310.1 197.6,311.9 199.3,313.8 C201.0,315.7 202.5,317.8 204.0,320.0 C205.5,322.2 206.9,324.5 208.2,327.1 C209.5,329.7 210.9,332.7 212.1,335.8 C213.2,338.8 214.4,342.4 215.3,345.4 C216.2,348.4 217.0,351.4 217.5,353.8 C218.0,356.3 218.3,358.1 218.4,360.0 C218.5,361.9 218.5,363.3 218.1,365.0 C217.8,366.7 217.4,368.4 216.4,370.3 C215.5,372.2 214.0,374.3 212.5,376.3 C210.9,378.3 208.8,380.5 207.0,382.5 C205.3,384.6 202.9,387.8 202.0,388.8 L199.4,388.6 C200.2,387.6 202.5,384.6 204.2,382.6 C205.9,380.7 207.9,378.6 209.4,376.7 C210.9,374.7 212.3,372.7 213.2,370.9 C214.1,369.1 214.5,367.5 214.8,365.9 C215.1,364.3 215.2,362.9 215.1,361.1 C214.9,359.3 214.7,357.5 214.2,355.2 C213.7,352.9 213.0,350.0 212.1,347.1 C211.3,344.2 210.1,340.8 209.0,337.9 C207.9,335.0 206.6,332.1 205.3,329.6 C204.0,327.1 202.7,324.9 201.3,322.8 C199.9,320.7 198.4,318.7 196.8,316.9 C195.1,315.1 193.4,313.4 191.6,311.9 C189.7,310.4 187.7,309.2 185.6,308.0 C183.5,306.9 181.2,305.9 179.0,305.1 C176.7,304.3 174.4,303.6 171.9,303.1 C169.4,302.5 166.6,302.2 163.9,301.9 C161.1,301.7 156.8,301.7 155.4,301.7Z" fill="#e6dde3"/>
<path d="M118.3,458.8 C116.9,458.4 112.6,457.4 110.0,456.5 C107.4,455.6 104.8,454.5 102.6,453.2 C100.4,451.9 98.4,450.5 96.5,448.9 C94.7,447.3 93.0,445.4 91.5,443.6 C89.9,441.7 88.5,439.7 87.1,437.7 C85.8,435.7 84.6,433.7 83.5,431.5 C82.4,429.4 81.4,427.1 80.6,424.8 C79.7,422.5 78.9,420.2 78.3,417.8 C77.6,415.5 77.1,413.1 76.6,410.6 C76.1,408.2 75.8,405.7 75.5,403.2 C75.3,400.7 75.1,398.2 75.0,395.7 C74.8,393.3 74.7,390.8 74.7,388.4 C74.7,385.9 74.7,383.5 75.0,381.0 C75.2,378.5 75.5,376.1 76.1,373.6 C76.6,371.2 77.4,368.7 78.2,366.3 C79.1,363.8 80.1,361.3 81.2,358.9 C82.3,356.4 83.5,354.0 84.9,351.5 C86.3,349.0 87.8,346.6 89.4,344.1 C91.0,341.6 93.8,337.9 94.7,336.6 L95.5,337.5 C94.6,338.7 91.9,342.3 90.3,344.8 C88.7,347.2 87.3,349.7 85.9,352.1 C84.6,354.5 83.4,356.9 82.3,359.3 C81.2,361.8 80.2,364.2 79.3,366.6 C78.5,369.0 77.8,371.4 77.2,373.8 C76.7,376.2 76.4,378.6 76.1,381.1 C75.9,383.5 75.9,385.9 75.9,388.3 C75.9,390.7 76.0,393.1 76.1,395.5 C76.3,398.0 76.4,400.4 76.7,402.9 C77.0,405.3 77.3,407.8 77.8,410.2 C78.2,412.6 78.8,414.9 79.4,417.3 C80.1,419.6 80.8,421.9 81.7,424.1 C82.5,426.3 83.4,428.6 84.5,430.7 C85.6,432.8 86.8,434.8 88.1,436.8 C89.4,438.8 90.8,440.7 92.4,442.5 C93.9,444.4 95.5,446.2 97.3,447.8 C99.2,449.3 101.1,450.8 103.3,452.0 C105.5,453.3 108.0,454.3 110.5,455.2 C113.1,456.2 117.4,457.1 118.7,457.5Z" fill="#dcc8dc"/>
<path d="M147.3,318.0 C148.9,317.8 151.1,317.7 153.2,317.7 C155.4,317.6 158.0,317.7 160.2,317.9 C162.5,318.1 164.8,318.4 166.9,318.8 C169.0,319.3 170.9,319.8 172.7,320.5 C174.6,321.2 176.5,322.0 178.3,322.9 C180.0,323.9 181.7,324.9 183.2,326.2 C184.8,327.4 186.2,328.8 187.5,330.3 C188.9,331.8 190.1,333.4 191.3,335.2 C192.5,337.0 193.6,338.8 194.6,340.9 C195.7,342.9 196.7,345.3 197.7,347.7 C198.6,350.2 199.6,353.0 200.3,355.4 C201.0,357.7 201.6,360.1 202.0,362.1 C202.4,364.0 202.6,365.5 202.7,367.0 C202.8,368.5 202.8,369.6 202.5,371.0 C202.3,372.3 201.9,373.6 201.2,375.1 C200.4,376.6 199.3,378.3 198.0,379.9 C196.8,381.5 195.1,383.2 193.7,384.9 C192.3,386.5 190.9,388.2 189.7,389.8 C188.6,391.5 187.6,393.1 186.7,394.7 C185.7,396.4 184.8,398.0 183.9,399.6 C183.1,401.2 182.3,402.9 181.6,404.5 C180.9,406.2 180.4,407.9 179.9,409.5 C179.4,411.2 179.1,412.9 178.6,414.6 C178.0,416.2 177.4,417.7 176.7,419.2 C175.9,420.7 175.0,422.0 174.0,423.4 C173.0,424.7 172.0,426.0 170.8,427.2 C169.6,428.4 168.3,429.5 166.9,430.6 C165.4,431.7 163.8,432.8 162.0,433.8 C160.3,434.8 158.4,435.7 156.5,436.6 C154.6,437.4 152.6,438.1 150.6,438.8 C148.5,439.5 146.4,440.1 144.2,440.5 C142.0,441.0 139.7,441.5 137.5,441.8 C135.3,442.0 133.1,442.1 131.0,442.1 C128.8,442.0 126.7,441.7 124.6,441.3 C122.5,440.9 120.4,440.3 118.5,439.6 C116.5,438.9 114.7,438.1 113.0,437.2 C111.4,436.2 109.9,435.1 108.5,434.0 C107.2,432.8 106.0,431.4 104.8,430.0 C103.6,428.7 102.6,427.2 101.6,425.7 C100.6,424.3 99.7,422.7 98.9,421.1 C98.1,419.5 97.4,417.9 96.8,416.2 C96.1,414.5 95.5,412.8 95.1,411.0 C94.6,409.3 94.2,407.5 93.8,405.7 C93.5,403.9 93.2,402.1 93.0,400.2 C92.8,398.4 92.7,396.5 92.6,394.7 C92.5,392.9 92.4,391.1 92.4,389.3 C92.4,387.5 92.4,385.7 92.6,383.8 C92.8,382.0 93.0,380.2 93.4,378.4 C93.8,376.6 94.4,374.8 95.0,373.0 C95.6,371.1 96.4,369.3 97.2,367.5 C98.0,365.7 98.9,363.9 100.0,362.1 C101.0,360.2 102.1,358.4 103.3,356.6 C104.5,354.7 105.8,352.9 107.2,351.1 C108.5,349.3 109.9,347.5 111.4,345.7 C112.9,344.0 114.5,342.2 116.2,340.5 C117.8,338.8 119.6,337.0 121.3,335.5 C123.0,333.9 124.6,332.4 126.1,331.1 C127.6,329.7 128.9,328.6 130.2,327.5 C131.5,326.4 132.7,325.4 133.9,324.5 C135.2,323.6 136.4,322.8 137.5,322.1 C138.6,321.4 139.5,320.7 140.5,320.2 C141.5,319.6 142.2,319.2 143.4,318.8 C144.5,318.5 145.7,318.2 147.3,318.0Z" fill="#d166bc" />
<path d="M146.6,328.2 C148.0,328.0 149.8,327.9 151.7,327.9 C153.5,327.9 155.8,327.9 157.7,328.1 C159.7,328.2 161.6,328.5 163.4,328.9 C165.2,329.3 166.8,329.7 168.4,330.3 C170.1,330.9 171.7,331.6 173.2,332.4 C174.7,333.2 176.1,334.1 177.4,335.2 C178.8,336.2 180.0,337.4 181.1,338.7 C182.3,340.0 183.4,341.4 184.4,342.9 C185.4,344.5 186.3,346.0 187.2,347.8 C188.1,349.6 189.0,351.6 189.9,353.7 C190.7,355.8 191.5,358.2 192.1,360.2 C192.7,362.3 193.2,364.3 193.5,366.0 C193.9,367.7 194.1,368.9 194.2,370.2 C194.2,371.5 194.2,372.5 194.0,373.6 C193.8,374.8 193.5,375.9 192.8,377.2 C192.2,378.5 191.2,379.9 190.1,381.3 C189.1,382.7 187.6,384.1 186.4,385.6 C185.2,387.0 184.0,388.4 183.0,389.8 C182.0,391.2 181.2,392.6 180.4,394.0 C179.6,395.4 178.8,396.8 178.0,398.2 C177.3,399.6 176.6,401.0 176.0,402.4 C175.4,403.9 175.0,405.3 174.6,406.7 C174.1,408.2 173.9,409.7 173.4,411.0 C173.0,412.4 172.5,413.8 171.8,415.0 C171.2,416.3 170.4,417.5 169.5,418.6 C168.7,419.8 167.8,420.9 166.8,421.9 C165.8,422.9 164.7,423.9 163.4,424.8 C162.2,425.8 160.8,426.7 159.3,427.5 C157.8,428.4 156.1,429.2 154.5,429.9 C152.8,430.7 151.2,431.3 149.4,431.9 C147.6,432.4 145.8,432.9 144.0,433.4 C142.1,433.8 140.1,434.2 138.2,434.4 C136.3,434.6 134.4,434.7 132.6,434.7 C130.7,434.6 128.9,434.3 127.1,434.0 C125.4,433.6 123.5,433.1 121.9,432.5 C120.2,431.9 118.6,431.3 117.2,430.5 C115.8,429.6 114.5,428.7 113.3,427.7 C112.2,426.7 111.1,425.5 110.1,424.3 C109.1,423.2 108.2,421.9 107.4,420.6 C106.5,419.4 105.8,418.1 105.1,416.7 C104.4,415.3 103.8,413.9 103.2,412.4 C102.7,411.0 102.2,409.5 101.8,408.0 C101.3,406.5 101.0,405.0 100.7,403.5 C100.4,401.9 100.2,400.3 100.0,398.7 C99.9,397.2 99.8,395.6 99.7,394.0 C99.6,392.5 99.5,390.9 99.5,389.4 C99.5,387.8 99.5,386.2 99.7,384.7 C99.8,383.1 100.0,381.6 100.4,380.0 C100.7,378.5 101.2,376.9 101.7,375.3 C102.3,373.8 102.9,372.2 103.6,370.7 C104.3,369.1 105.1,367.6 106.0,366.0 C106.8,364.4 107.8,362.9 108.8,361.3 C109.9,359.7 111.0,358.1 112.1,356.6 C113.3,355.0 114.5,353.5 115.8,352.0 C117.1,350.5 118.5,349.0 119.9,347.5 C121.3,346.0 122.9,344.5 124.3,343.2 C125.7,341.8 127.1,340.5 128.4,339.4 C129.7,338.2 130.8,337.2 131.9,336.3 C133.0,335.4 134.1,334.5 135.1,333.8 C136.2,333.0 137.3,332.3 138.2,331.7 C139.1,331.1 140.0,330.5 140.8,330.0 C141.6,329.6 142.3,329.2 143.2,328.9 C144.2,328.6 145.2,328.3 146.6,328.2Z" fill="#9269b5" />
<path d="M146.3,333.3 C147.0,333.2 149.2,333.0 150.9,333.0 C152.6,333.0 154.6,333.0 156.4,333.2 C158.2,333.3 160.0,333.6 161.7,333.9 C163.3,334.3 164.8,334.7 166.3,335.2 C167.8,335.8 169.3,336.4 170.6,337.1 C172.0,337.9 173.3,338.7 174.5,339.7 C175.8,340.7 176.9,341.7 177.9,342.9 C179.0,344.1 180.0,345.4 180.9,346.8 C181.8,348.2 182.7,349.6 183.5,351.3 C184.4,352.9 185.2,354.8 185.9,356.7 C186.7,358.6 187.4,360.8 188.0,362.7 C188.5,364.6 189.0,366.4 189.3,368.0 C189.6,369.5 189.8,370.7 189.9,371.8 C190.0,373.0 189.9,373.9 189.7,375.0 C189.5,376.0 188.8,377.7 188.7,378.3 L186.8,378.7 C187.0,378.2 187.7,376.6 187.8,375.6 C188.0,374.5 188.1,373.7 188.0,372.5 C187.9,371.4 187.7,370.3 187.4,368.8 C187.1,367.4 186.7,365.6 186.2,363.8 C185.6,362.0 184.9,359.8 184.2,358.0 C183.5,356.2 182.7,354.4 181.9,352.8 C181.1,351.2 180.3,349.9 179.4,348.5 C178.5,347.2 177.5,345.9 176.5,344.8 C175.5,343.7 174.4,342.6 173.2,341.7 C172.1,340.8 170.8,340.0 169.5,339.3 C168.2,338.5 166.8,337.9 165.3,337.4 C163.9,336.9 162.5,336.5 160.9,336.1 C159.3,335.8 157.6,335.6 155.9,335.4 C154.2,335.3 152.2,335.3 150.6,335.3 C148.9,335.3 146.8,335.5 146.1,335.5Z" fill="#e6dde3"/>
<path d="M145.5,344.0 C146.6,343.9 147.9,343.8 149.3,343.8 C150.7,343.8 152.3,343.8 153.8,343.9 C155.2,344.1 156.7,344.3 158.0,344.5 C159.3,344.8 160.5,345.2 161.8,345.6 C163.0,346.1 164.2,346.6 165.3,347.2 C166.4,347.8 167.4,348.4 168.4,349.2 C169.4,350.0 170.3,350.9 171.2,351.8 C172.0,352.8 172.8,353.9 173.6,355.0 C174.3,356.1 175.0,357.3 175.7,358.6 C176.4,359.9 177.1,361.4 177.7,363.0 C178.3,364.5 178.9,366.3 179.3,367.8 C179.8,369.4 180.1,370.9 180.4,372.1 C180.7,373.4 180.8,374.3 180.9,375.2 C180.9,376.2 180.9,376.9 180.7,377.8 C180.6,378.7 180.4,379.5 179.9,380.5 C179.4,381.4 178.7,382.5 177.9,383.5 C177.1,384.5 176.0,385.6 175.1,386.7 C174.2,387.7 173.3,388.8 172.6,389.8 C171.8,390.9 171.2,391.9 170.6,392.9 C170.0,394.0 169.4,395.0 168.9,396.1 C168.3,397.1 167.8,398.1 167.4,399.2 C167.0,400.2 166.6,401.3 166.3,402.4 C166.0,403.5 165.8,404.6 165.5,405.6 C165.1,406.6 164.7,407.6 164.3,408.6 C163.8,409.5 163.2,410.4 162.6,411.2 C161.9,412.1 161.3,412.9 160.5,413.7 C159.8,414.4 158.9,415.2 158.0,415.9 C157.1,416.6 156.0,417.2 154.9,417.9 C153.8,418.5 152.6,419.1 151.4,419.6 C150.2,420.2 148.9,420.6 147.6,421.1 C146.3,421.5 144.9,421.9 143.6,422.2 C142.2,422.5 140.7,422.8 139.3,422.9 C137.9,423.1 136.5,423.2 135.1,423.1 C133.7,423.1 132.4,422.9 131.1,422.6 C129.7,422.4 128.4,422.0 127.1,421.6 C125.9,421.1 124.7,420.6 123.7,420.0 C122.6,419.4 121.7,418.7 120.8,418.0 C119.9,417.2 119.2,416.3 118.4,415.5 C117.7,414.6 117.0,413.7 116.4,412.7 C115.7,411.8 115.2,410.8 114.7,409.8 C114.1,408.8 113.7,407.7 113.3,406.6 C112.9,405.6 112.5,404.5 112.2,403.4 C111.9,402.2 111.6,401.1 111.4,400.0 C111.2,398.8 111.0,397.6 110.9,396.5 C110.8,395.3 110.7,394.1 110.6,392.9 C110.6,391.8 110.5,390.6 110.5,389.5 C110.5,388.3 110.5,387.2 110.6,386.0 C110.8,384.8 110.9,383.7 111.2,382.5 C111.4,381.4 111.8,380.2 112.2,379.1 C112.6,377.9 113.0,376.8 113.6,375.6 C114.1,374.4 114.7,373.3 115.3,372.1 C116.0,371.0 116.7,369.8 117.4,368.6 C118.2,367.4 119.1,366.3 119.9,365.1 C120.8,364.0 121.7,362.8 122.6,361.7 C123.6,360.6 124.6,359.5 125.7,358.4 C126.7,357.3 127.9,356.2 128.9,355.2 C130.0,354.2 131.0,353.2 132.0,352.3 C132.9,351.5 133.8,350.7 134.6,350.0 C135.4,349.4 136.2,348.7 137.0,348.2 C137.8,347.6 138.6,347.1 139.3,346.6 C140.0,346.2 140.6,345.7 141.2,345.4 C141.8,345.1 142.3,344.8 143.0,344.5 C143.7,344.3 144.5,344.1 145.5,344.0Z" fill="#d266bd" />
<path d="M144.8,354.8 C145.6,354.7 146.6,354.6 147.7,354.6 C148.7,354.6 150.0,354.6 151.1,354.7 C152.2,354.8 153.3,354.9 154.4,355.2 C155.4,355.4 156.3,355.6 157.2,356.0 C158.1,356.3 159.1,356.7 159.9,357.2 C160.8,357.6 161.6,358.1 162.3,358.7 C163.1,359.3 163.8,360.0 164.4,360.7 C165.1,361.5 165.7,362.3 166.3,363.2 C166.9,364.0 167.4,364.9 167.9,365.9 C168.4,366.9 168.9,368.1 169.4,369.3 C169.9,370.5 170.3,371.8 170.7,373.0 C171.0,374.2 171.3,375.3 171.5,376.3 C171.7,377.2 171.8,377.9 171.8,378.7 C171.9,379.4 171.9,379.9 171.8,380.6 C171.6,381.3 171.5,381.9 171.1,382.7 C170.7,383.4 170.2,384.2 169.6,385.0 C168.9,385.8 168.1,386.6 167.4,387.4 C166.8,388.2 166.1,389.0 165.5,389.8 C164.9,390.6 164.5,391.4 164.0,392.2 C163.5,393.0 163.1,393.8 162.7,394.6 C162.3,395.4 161.9,396.2 161.5,397.0 C161.2,397.8 160.9,398.6 160.7,399.4 C160.5,400.3 160.3,401.1 160.0,401.9 C159.8,402.7 159.5,403.4 159.1,404.2 C158.8,404.9 158.3,405.6 157.8,406.2 C157.4,406.9 156.9,407.5 156.3,408.1 C155.7,408.7 155.1,409.2 154.4,409.7 C153.6,410.3 152.8,410.8 152.0,411.3 C151.1,411.8 150.2,412.2 149.3,412.6 C148.3,413.0 147.4,413.4 146.4,413.7 C145.4,414.1 144.3,414.3 143.3,414.6 C142.2,414.8 141.1,415.1 140.0,415.2 C138.9,415.3 137.9,415.4 136.8,415.3 C135.8,415.3 134.7,415.1 133.7,414.9 C132.7,414.7 131.7,414.4 130.7,414.1 C129.8,413.8 128.9,413.4 128.1,412.9 C127.2,412.5 126.5,411.9 125.9,411.4 C125.2,410.8 124.6,410.1 124.0,409.5 C123.5,408.8 123.0,408.1 122.5,407.4 C122.0,406.6 121.6,405.9 121.2,405.1 C120.8,404.3 120.4,403.5 120.1,402.7 C119.8,401.9 119.5,401.0 119.3,400.2 C119.0,399.3 118.8,398.5 118.7,397.6 C118.5,396.7 118.4,395.8 118.3,394.9 C118.2,394.0 118.1,393.1 118.1,392.2 C118.0,391.3 118.0,390.4 118.0,389.6 C118.0,388.7 118.0,387.8 118.1,386.9 C118.2,386.0 118.3,385.1 118.5,384.2 C118.7,383.4 119.0,382.5 119.3,381.6 C119.6,380.7 119.9,379.8 120.3,378.9 C120.7,378.0 121.2,377.2 121.7,376.3 C122.2,375.4 122.7,374.5 123.3,373.6 C123.9,372.7 124.5,371.8 125.2,370.9 C125.9,370.0 126.5,369.2 127.3,368.3 C128.0,367.4 128.8,366.6 129.6,365.8 C130.4,364.9 131.3,364.1 132.1,363.3 C132.9,362.5 133.7,361.8 134.4,361.1 C135.2,360.5 135.8,359.9 136.4,359.4 C137.1,358.8 137.7,358.4 138.3,357.9 C138.9,357.5 139.5,357.1 140.0,356.8 C140.5,356.4 141.0,356.1 141.5,355.8 C142.0,355.6 142.3,355.3 142.9,355.2 C143.4,355.0 144.0,354.9 144.8,354.8Z" fill="#a877bc" />
<path d="M144.4,361.0 C145.0,360.9 145.9,360.9 146.7,360.8 C147.6,360.8 148.6,360.9 149.6,360.9 C150.5,361.0 151.4,361.1 152.2,361.3 C153.1,361.5 153.8,361.7 154.6,362.0 C155.3,362.3 156.1,362.6 156.8,363.0 C157.5,363.3 158.2,363.8 158.8,364.3 C159.4,364.7 160.0,365.3 160.5,365.9 C161.1,366.5 161.6,367.2 162.0,367.9 C162.5,368.6 162.9,369.3 163.4,370.2 C163.8,371.0 164.2,372.0 164.6,372.9 C165.0,373.9 165.4,375.0 165.6,376.0 C165.9,376.9 166.2,377.9 166.3,378.7 C166.5,379.5 166.6,380.1 166.6,380.6 C166.7,381.2 166.6,381.7 166.5,382.2 C166.4,382.8 166.3,383.3 166.0,383.9 C165.7,384.5 165.2,385.2 164.7,385.8 C164.2,386.5 163.6,387.2 163.0,387.8 C162.4,388.5 161.9,389.2 161.4,389.8 C160.9,390.5 160.6,391.1 160.2,391.8 C159.8,392.4 159.4,393.1 159.1,393.8 C158.7,394.4 158.4,395.1 158.1,395.7 C157.9,396.4 157.7,397.1 157.5,397.7 C157.2,398.4 157.1,399.1 156.9,399.8 C156.7,400.4 156.5,401.0 156.2,401.6 C155.9,402.2 155.5,402.8 155.1,403.3 C154.7,403.8 154.3,404.3 153.8,404.8 C153.3,405.3 152.8,405.8 152.2,406.2 C151.6,406.7 151.0,407.1 150.3,407.5 C149.6,407.9 148.8,408.3 148.1,408.6 C147.3,408.9 146.5,409.2 145.7,409.5 C144.9,409.8 144.0,410.0 143.1,410.2 C142.3,410.4 141.3,410.6 140.4,410.7 C139.5,410.8 138.7,410.8 137.8,410.8 C136.9,410.8 136.1,410.6 135.3,410.5 C134.4,410.3 133.6,410.1 132.8,409.8 C132.0,409.5 131.3,409.2 130.6,408.8 C129.9,408.5 129.4,408.0 128.8,407.5 C128.3,407.1 127.8,406.5 127.3,406.0 C126.8,405.4 126.4,404.8 126.0,404.2 C125.6,403.6 125.3,403.0 124.9,402.4 C124.6,401.8 124.3,401.1 124.1,400.4 C123.8,399.7 123.6,399.0 123.4,398.3 C123.2,397.6 123.0,396.9 122.9,396.2 C122.8,395.5 122.7,394.7 122.6,394.0 C122.5,393.3 122.4,392.5 122.4,391.8 C122.4,391.1 122.3,390.3 122.3,389.6 C122.3,388.9 122.3,388.1 122.4,387.4 C122.5,386.7 122.6,386.0 122.7,385.2 C122.9,384.5 123.1,383.8 123.4,383.0 C123.6,382.3 123.9,381.6 124.3,380.9 C124.6,380.1 124.9,379.4 125.4,378.7 C125.8,377.9 126.2,377.2 126.7,376.5 C127.2,375.7 127.7,375.0 128.2,374.3 C128.8,373.5 129.3,372.8 129.9,372.1 C130.5,371.4 131.2,370.7 131.9,370.0 C132.5,369.3 133.3,368.6 133.9,368.0 C134.6,367.4 135.2,366.8 135.8,366.2 C136.4,365.7 137.0,365.2 137.5,364.8 C138.0,364.3 138.5,363.9 139.0,363.6 C139.5,363.2 140.0,362.9 140.4,362.6 C140.9,362.3 141.3,362.1 141.6,361.9 C142.0,361.6 142.3,361.5 142.8,361.3 C143.2,361.2 143.7,361.1 144.4,361.0Z" fill="#d670c2" />
<path d="M146.1,336.1 C147.3,336.0 148.9,335.9 150.5,335.8 C152.1,335.8 154.0,335.9 155.7,336.0 C157.4,336.1 159.2,336.4 160.7,336.7 C162.3,337.0 163.7,337.5 165.1,338.0 C166.5,338.5 167.9,339.1 169.2,339.8 C170.5,340.5 171.8,341.3 172.9,342.2 C174.1,343.1 175.1,344.1 176.2,345.3 C177.2,346.4 178.1,347.6 179.0,349.0 C179.9,350.3 180.7,351.6 181.5,353.2 C182.3,354.8 183.1,356.5 183.8,358.3 C184.5,360.2 185.2,362.3 185.7,364.0 C186.2,365.8 186.7,367.6 187.0,369.1 C187.3,370.5 187.4,371.6 187.5,372.7 C187.6,373.8 187.6,374.7 187.4,375.7 C187.2,376.7 186.9,377.7 186.4,378.8 C185.8,379.9 184.9,381.2 184.0,382.4 C183.1,383.6 181.8,384.9 180.8,386.1 C179.7,387.4 178.7,388.6 177.8,389.8 C176.9,391.1 176.2,392.3 175.5,393.5 C174.8,394.7 174.1,395.9 173.5,397.1 C172.8,398.4 172.2,399.6 171.7,400.8 C171.2,402.0 170.8,403.3 170.4,404.6 C170.1,405.8 169.8,407.1 169.4,408.3 C169.0,409.5 168.6,410.7 168.0,411.8 C167.5,412.9 166.8,413.9 166.1,414.9 C165.3,415.9 164.5,416.9 163.7,417.8 C162.8,418.7 161.8,419.5 160.7,420.3 C159.6,421.2 158.4,422.0 157.1,422.7 C155.8,423.4 154.4,424.2 152.9,424.8 C151.5,425.4 150.0,426.0 148.5,426.5 C147.0,427.0 145.4,427.4 143.8,427.8 C142.1,428.1 140.4,428.5 138.7,428.7 C137.1,428.9 135.5,429.0 133.9,428.9 C132.2,428.8 130.7,428.6 129.1,428.3 C127.5,428.0 125.9,427.6 124.5,427.0 C123.0,426.5 121.7,425.9 120.4,425.2 C119.2,424.5 118.1,423.7 117.1,422.8 C116.0,421.9 115.1,420.9 114.3,419.9 C113.4,418.9 112.6,417.8 111.9,416.7 C111.1,415.6 110.5,414.4 109.9,413.2 C109.3,412.1 108.7,410.8 108.3,409.5 C107.8,408.3 107.4,407.0 107.0,405.7 C106.6,404.4 106.3,403.1 106.1,401.7 C105.8,400.4 105.6,399.0 105.5,397.6 C105.3,396.2 105.2,394.9 105.2,393.5 C105.1,392.1 105.0,390.8 105.0,389.4 C105.0,388.1 105.0,386.7 105.2,385.3 C105.3,384.0 105.5,382.6 105.8,381.3 C106.1,379.9 106.5,378.6 106.9,377.2 C107.4,375.8 108.0,374.5 108.6,373.1 C109.2,371.8 109.9,370.4 110.7,369.1 C111.4,367.7 112.2,366.3 113.1,364.9 C114.0,363.6 115.0,362.2 116.0,360.8 C117.0,359.5 118.1,358.2 119.2,356.9 C120.3,355.5 121.5,354.2 122.8,352.9 C124.0,351.7 125.4,350.3 126.6,349.2 C127.9,348.0 129.1,346.9 130.2,345.9 C131.3,344.9 132.3,344.0 133.3,343.2 C134.2,342.4 135.2,341.6 136.1,341.0 C137.0,340.3 137.9,339.7 138.7,339.1 C139.6,338.6 140.3,338.1 141.0,337.7 C141.7,337.3 142.3,337.0 143.1,336.7 C144.0,336.4 144.8,336.2 146.1,336.1Z" fill="none" stroke="#5f3f90" stroke-opacity="0.3" stroke-width="9" stroke-dasharray="1.1 1.7"/>
<path d="M127.0,392.4 C127.4,388.1 131.3,383.4 134.7,382.1 C138.1,380.8 144.5,382.1 147.5,384.7 C150.5,387.3 153.1,393.3 152.7,397.5 C152.3,401.8 148.4,408.7 145.0,410.4 C141.5,412.1 135.1,410.8 132.1,407.8 C129.1,404.8 126.5,396.7 127.0,392.4Z" fill="#e6dde2"/>
<path d="M147.5,355.1 C148.6,352.5 154.9,348.4 157.8,347.4 C160.7,346.4 164.5,346.6 165.0,349.2 C165.5,351.8 162.6,358.8 160.9,362.8 C159.2,366.8 156.3,373.1 154.7,373.1 C153.2,373.1 152.9,365.8 151.7,362.8 C150.5,359.8 146.5,357.7 147.5,355.1Z" fill="#ebe4e6"/>
<path d="M184.8,344.8 C185.4,342.3 189.1,339.3 190.7,340.5 C192.3,341.6 194.2,348.5 194.3,351.8 C194.4,355.1 192.4,359.6 191.2,360.3 C190.0,360.9 188.2,358.5 187.1,355.9 C186.1,353.3 184.2,347.4 184.8,344.8Z" fill="#ebe4e6"/>
<clipPath id="tc5"><path d="M150.1,276.7 C152.7,276.4 156.0,276.2 159.4,276.2 C162.8,276.2 166.9,276.2 170.5,276.5 C174.1,276.8 177.7,277.3 181.0,278.0 C184.2,278.7 187.2,279.6 190.2,280.7 C193.2,281.7 196.1,283.0 198.9,284.5 C201.6,286.0 204.2,287.6 206.7,289.6 C209.1,291.5 211.3,293.7 213.5,296.0 C215.6,298.4 217.6,301.0 219.4,303.8 C221.3,306.6 223.0,309.4 224.7,312.7 C226.3,316.0 228.0,319.7 229.5,323.6 C231.0,327.4 232.4,331.8 233.6,335.6 C234.7,339.3 235.6,343.1 236.2,346.1 C236.9,349.2 237.2,351.5 237.4,353.8 C237.5,356.2 237.5,358.0 237.1,360.1 C236.7,362.3 236.1,364.3 234.9,366.7 C233.8,369.0 232.0,371.7 230.0,374.2 C228.0,376.8 225.4,379.4 223.2,382.0 C221.0,384.6 218.8,387.2 216.9,389.8 C215.1,392.4 213.6,395.0 212.1,397.5 C210.6,400.1 209.1,402.7 207.8,405.2 C206.5,407.8 205.2,410.4 204.1,413.0 C203.0,415.6 202.2,418.2 201.4,420.9 C200.6,423.5 200.2,426.2 199.3,428.8 C198.5,431.3 197.6,433.8 196.4,436.1 C195.2,438.4 193.7,440.6 192.2,442.7 C190.7,444.8 189.0,446.8 187.1,448.7 C185.3,450.6 183.3,452.4 181.0,454.1 C178.7,455.8 176.1,457.5 173.3,459.0 C170.6,460.6 167.6,462.1 164.6,463.4 C161.6,464.7 158.5,465.9 155.3,466.9 C152.0,468.0 148.7,468.9 145.3,469.7 C141.8,470.5 138.2,471.2 134.7,471.6 C131.2,472.0 127.8,472.2 124.4,472.1 C121.0,472.0 117.7,471.5 114.4,470.8 C111.1,470.2 107.7,469.3 104.7,468.2 C101.6,467.1 98.7,465.8 96.1,464.4 C93.5,462.9 91.2,461.2 89.1,459.3 C86.9,457.5 85.0,455.3 83.2,453.1 C81.4,451.0 79.7,448.7 78.1,446.4 C76.6,444.0 75.2,441.6 73.9,439.1 C72.6,436.6 71.5,434.0 70.5,431.3 C69.5,428.7 68.6,426.0 67.8,423.2 C67.1,420.5 66.4,417.7 65.9,414.9 C65.4,412.0 65.0,409.1 64.7,406.2 C64.3,403.3 64.2,400.4 64.0,397.5 C63.8,394.7 63.7,391.8 63.7,389.0 C63.7,386.1 63.7,383.3 64.0,380.4 C64.3,377.5 64.7,374.7 65.3,371.8 C65.9,369.0 66.8,366.1 67.8,363.3 C68.7,360.4 69.9,357.5 71.2,354.7 C72.5,351.8 74.0,349.0 75.6,346.1 C77.2,343.2 78.9,340.3 80.8,337.5 C82.7,334.6 84.8,331.6 86.9,328.8 C89.0,326.0 91.2,323.2 93.6,320.4 C95.9,317.6 98.5,314.9 101.1,312.2 C103.7,309.5 106.6,306.7 109.2,304.2 C111.8,301.7 114.4,299.4 116.7,297.3 C119.0,295.2 121.1,293.3 123.2,291.6 C125.2,289.9 127.1,288.4 129.1,286.9 C131.0,285.5 133.0,284.3 134.7,283.1 C136.4,282.0 137.9,281.0 139.4,280.1 C141.0,279.3 142.1,278.6 143.9,278.0 C145.7,277.4 147.5,277.0 150.1,276.7Z"/></clipPath>
<g clip-path="url(#tc5)"><rect x="37" y="269" width="246" height="205" filter="url(#tex)" opacity="0.26"/></g>
</g>
</g>
<clipPath id="cB2"><rect x="297" y="269" width="232" height="205"/></clipPath>
<g clip-path="url(#cB2)">
<g filter="url(#b1)">
<rect x="294" y="266" width="238" height="211" fill="url(#bg1)"/>
<path d="M409.6,280.2 C411.9,280.0 414.2,279.9 416.6,279.8 C418.9,279.8 421.2,279.8 423.6,279.8 C425.9,279.8 428.3,279.7 430.5,279.9 C432.7,280.1 434.8,280.8 436.9,281.2 C439.0,281.6 441.2,281.6 443.0,282.4 C444.9,283.3 446.3,285.3 448.1,286.2 C449.9,287.0 451.9,287.2 453.8,287.8 C455.7,288.3 457.7,288.7 459.4,289.5 C461.0,290.3 462.3,291.7 463.9,292.6 C465.4,293.5 467.3,293.9 468.6,295.0 C470.0,296.1 470.6,298.1 471.8,299.4 C473.1,300.6 474.9,301.2 476.1,302.7 C477.4,304.1 478.1,306.2 479.2,308.0 C480.3,309.8 481.5,311.6 482.6,313.5 C483.6,315.4 484.6,317.5 485.5,319.5 C486.3,321.4 486.6,323.7 487.7,325.3 C488.7,326.9 490.4,327.9 491.7,329.0 C493.1,330.1 494.3,331.0 495.8,331.9 C497.3,332.9 499.5,333.5 500.8,334.7 C502.2,336.0 503.0,337.5 503.8,339.4 C504.5,341.3 504.5,343.8 505.3,346.1 C506.1,348.5 508.2,350.8 508.8,353.3 C509.5,355.9 508.8,358.9 509.2,361.5 C509.5,364.2 510.8,366.6 510.9,369.2 C511.0,371.7 510.1,374.2 509.7,376.7 C509.3,379.2 508.5,381.7 508.3,384.2 C508.1,386.7 508.9,389.4 508.4,391.8 C507.8,394.3 506.0,396.4 505.2,398.6 C504.4,400.8 503.8,403.0 503.3,405.2 C502.9,407.5 503.2,409.9 502.6,412.1 C502.1,414.2 501.0,416.2 499.8,418.0 C498.7,419.9 496.8,421.3 495.5,423.2 C494.3,425.1 494.0,427.5 492.5,429.3 C491.1,431.0 488.8,432.2 487.0,433.8 C485.3,435.4 483.8,437.2 482.0,438.7 C480.1,440.2 477.6,441.1 475.8,442.7 C473.9,444.3 472.8,446.8 470.9,448.5 C469.0,450.2 466.5,451.3 464.4,452.8 C462.3,454.4 460.4,456.3 458.3,457.6 C456.2,459.0 454.0,460.2 451.9,461.1 C449.7,462.0 447.3,462.1 445.2,462.8 C443.1,463.5 441.2,464.5 439.1,465.1 C437.1,465.6 434.9,465.9 432.9,466.2 C430.8,466.6 428.8,466.9 426.7,467.1 C424.7,467.3 422.6,467.2 420.6,467.2 C418.5,467.3 416.4,467.4 414.4,467.4 C412.3,467.4 410.2,467.6 408.2,467.1 C406.2,466.6 404.3,465.0 402.3,464.3 C400.3,463.7 398.3,464.1 396.4,463.3 C394.5,462.6 392.7,460.8 390.9,459.6 C389.1,458.4 387.3,457.1 385.5,456.1 C383.6,455.1 381.6,454.7 379.8,453.6 C378.1,452.5 376.6,450.8 375.0,449.4 C373.3,448.1 371.8,446.7 370.2,445.4 C368.6,444.2 366.9,443.1 365.2,441.9 C363.5,440.8 361.6,439.9 360.1,438.5 C358.5,437.2 357.7,435.1 355.9,434.0 C354.2,432.8 351.3,433.0 349.6,431.8 C348.0,430.6 347.7,428.2 346.1,426.9 C344.5,425.5 342.0,425.0 340.2,423.7 C338.4,422.4 336.7,421.0 335.4,419.3 C334.1,417.6 333.8,415.4 332.4,413.7 C330.9,412.1 328.2,411.0 326.7,409.3 C325.3,407.6 324.8,405.5 323.6,403.6 C322.4,401.7 320.6,400.0 319.5,398.0 C318.5,396.0 318.1,393.7 317.2,391.6 C316.3,389.6 315.1,387.5 314.2,385.4 C313.3,383.3 312.6,381.2 311.7,379.0 C310.7,376.8 308.9,374.6 308.5,372.4 C308.1,370.1 309.2,367.8 309.0,365.5 C308.8,363.2 307.8,360.8 307.6,358.5 C307.3,356.2 307.5,354.0 307.7,351.7 C308.0,349.5 308.3,347.3 309.1,345.2 C309.9,343.1 311.5,341.3 312.5,339.2 C313.6,337.2 314.4,335.1 315.4,333.1 C316.4,331.2 317.3,329.2 318.4,327.3 C319.4,325.3 320.2,323.3 321.7,321.7 C323.1,320.0 325.6,319.0 327.1,317.4 C328.6,315.8 329.3,313.6 330.6,311.9 C332.0,310.2 333.7,308.8 335.2,307.2 C336.7,305.6 338.0,303.7 339.7,302.3 C341.5,300.9 343.9,300.4 345.5,298.9 C347.1,297.3 347.6,294.5 349.3,293.1 C351.1,291.8 353.8,291.9 355.8,291.0 C357.9,290.1 359.7,288.8 361.8,287.9 C363.9,287.0 366.1,286.2 368.4,285.5 C370.6,284.7 372.9,283.8 375.3,283.4 C377.6,283.0 380.3,283.6 382.6,283.2 C384.9,282.8 386.9,281.4 389.1,281.0 C391.3,280.7 393.8,281.0 396.0,281.0 C398.3,281.0 400.6,281.2 402.9,281.1 C405.1,280.9 407.3,280.4 409.6,280.2Z" fill="#8058a8" />
<circle cx="410.4" cy="280.8" r="2.9" fill="#8058a8"/>
<circle cx="422.7" cy="280.9" r="3.4" fill="#8058a8"/>
<circle cx="436.0" cy="282.8" r="3.8" fill="#8058a8"/>
<circle cx="448.0" cy="286.2" r="3.2" fill="#8058a8"/>
<circle cx="459.0" cy="290.5" r="2.8" fill="#8058a8"/>
<circle cx="466.8" cy="296.0" r="2.9" fill="#8058a8"/>
<circle cx="476.1" cy="303.2" r="3.1" fill="#8058a8"/>
<circle cx="481.4" cy="315.0" r="2.7" fill="#8058a8"/>
<circle cx="487.9" cy="325.1" r="2.7" fill="#8058a8"/>
<circle cx="495.1" cy="332.5" r="3.4" fill="#8058a8"/>
<circle cx="502.6" cy="340.6" r="3.2" fill="#8058a8"/>
<circle cx="506.7" cy="353.0" r="3.3" fill="#8058a8"/>
<circle cx="509.6" cy="368.7" r="3.7" fill="#8058a8"/>
<circle cx="508.4" cy="384.5" r="3.7" fill="#8058a8"/>
<circle cx="504.4" cy="398.3" r="3.7" fill="#8058a8"/>
<circle cx="500.2" cy="411.7" r="3.7" fill="#8058a8"/>
<circle cx="495.3" cy="423.2" r="2.7" fill="#8058a8"/>
<circle cx="486.7" cy="433.1" r="3.7" fill="#8058a8"/>
<circle cx="474.9" cy="442.5" r="2.8" fill="#8058a8"/>
<circle cx="462.9" cy="452.4" r="3.2" fill="#8058a8"/>
<circle cx="451.4" cy="459.1" r="3.2" fill="#8058a8"/>
<circle cx="438.1" cy="464.1" r="2.9" fill="#8058a8"/>
<circle cx="426.6" cy="466.6" r="2.9" fill="#8058a8"/>
<circle cx="415.0" cy="466.3" r="3.6" fill="#8058a8"/>
<circle cx="401.8" cy="464.7" r="3.1" fill="#8058a8"/>
<circle cx="390.5" cy="459.5" r="3.8" fill="#8058a8"/>
<circle cx="379.6" cy="452.6" r="3.0" fill="#8058a8"/>
<circle cx="369.9" cy="444.9" r="3.0" fill="#8058a8"/>
<circle cx="360.7" cy="437.5" r="2.9" fill="#8058a8"/>
<circle cx="351.0" cy="430.2" r="3.1" fill="#8058a8"/>
<circle cx="340.6" cy="422.3" r="2.7" fill="#8058a8"/>
<circle cx="332.1" cy="414.3" r="3.2" fill="#8058a8"/>
<circle cx="324.5" cy="404.2" r="3.2" fill="#8058a8"/>
<circle cx="316.4" cy="391.1" r="2.7" fill="#8058a8"/>
<circle cx="312.1" cy="379.4" r="3.1" fill="#8058a8"/>
<circle cx="310.2" cy="364.8" r="3.0" fill="#8058a8"/>
<circle cx="309.1" cy="352.8" r="3.6" fill="#8058a8"/>
<circle cx="314.0" cy="339.9" r="2.6" fill="#8058a8"/>
<circle cx="319.5" cy="327.2" r="3.8" fill="#8058a8"/>
<circle cx="327.2" cy="316.9" r="3.8" fill="#8058a8"/>
<circle cx="336.4" cy="308.2" r="3.3" fill="#8058a8"/>
<circle cx="345.0" cy="299.1" r="2.8" fill="#8058a8"/>
<circle cx="355.3" cy="291.1" r="3.1" fill="#8058a8"/>
<circle cx="369.2" cy="286.5" r="3.5" fill="#8058a8"/>
<circle cx="382.6" cy="283.4" r="3.1" fill="#8058a8"/>
<circle cx="396.1" cy="281.4" r="2.8" fill="#8058a8"/>
<path d="M441.4,453.2 C440.5,453.5 437.7,454.6 435.9,455.1 C434.1,455.7 432.2,456.1 430.4,456.5 C428.6,456.9 426.8,457.1 425.0,457.3 C423.1,457.5 421.3,457.6 419.4,457.6 C417.6,457.6 415.7,457.5 413.9,457.3 C412.0,457.1 410.2,456.9 408.4,456.5 C406.6,456.1 404.8,455.7 403.1,455.1 C401.3,454.6 399.6,453.9 397.9,453.1 C396.2,452.3 394.6,451.3 392.9,450.3 C391.3,449.4 389.7,448.3 388.1,447.3 C386.5,446.3 384.9,445.2 383.3,444.2 C381.8,443.2 380.3,442.1 378.8,441.1 C377.3,440.0 375.9,438.9 374.4,437.8 C373.0,436.6 371.6,435.5 370.2,434.4 C368.7,433.3 367.3,432.1 365.8,431.0 C364.4,430.0 362.9,428.9 361.4,427.9 C359.9,426.8 358.4,425.8 356.9,424.8 C355.5,423.7 354.0,422.6 352.5,421.5 C351.1,420.4 349.7,419.2 348.3,417.9 C346.9,416.6 345.6,415.3 344.2,413.9 C342.9,412.6 341.5,411.2 340.2,409.7 C338.9,408.2 337.7,406.7 336.4,405.2 C335.2,403.6 334.1,402.0 333.0,400.4 C331.9,398.7 330.8,397.0 329.7,395.3 C328.7,393.5 327.6,391.7 326.7,389.9 C325.7,388.0 324.8,386.1 324.0,384.2 C323.3,382.3 322.6,380.4 322.0,378.5 C321.5,376.6 321.0,374.6 320.6,372.6 C320.2,370.6 319.9,368.5 319.7,366.4 C319.5,364.4 319.4,362.3 319.4,360.3 C319.4,358.3 319.6,356.3 319.8,354.4 C320.1,352.5 320.6,350.6 321.1,348.7 C321.7,346.8 322.4,344.9 323.1,343.0 C323.9,341.2 324.8,339.4 325.7,337.6 C326.6,335.9 327.6,334.1 328.6,332.5 C329.6,330.9 330.7,329.3 331.9,327.8 C333.1,326.2 334.4,324.8 335.7,323.3 C337.0,321.9 338.4,320.5 339.8,319.1 C341.2,317.7 342.6,316.4 343.9,315.0 C345.3,313.6 346.6,312.2 348.0,310.8 C349.4,309.4 350.7,308.0 352.1,306.6 C353.6,305.3 355.0,304.0 356.6,302.8 C358.1,301.7 359.7,300.6 361.4,299.7 C363.2,298.7 365.1,298.0 367.0,297.3 C368.9,296.6 371.0,296.1 373.1,295.6 C375.1,295.0 377.3,294.6 379.4,294.2 C381.4,293.8 383.5,293.4 385.5,293.1 C387.6,292.7 389.5,292.4 391.6,292.2 C393.6,291.9 395.6,291.7 397.6,291.5 C399.6,291.3 401.6,291.2 403.6,291.1 C405.6,291.0 407.6,291.0 409.6,290.9 C411.6,290.8 414.7,290.8 415.7,290.8 L415.6,292.2 C414.6,292.2 411.6,292.3 409.6,292.3 C407.6,292.4 405.7,292.4 403.7,292.5 C401.7,292.6 399.8,292.8 397.8,292.9 C395.8,293.1 393.8,293.3 391.9,293.6 C389.9,293.8 387.9,294.1 385.9,294.5 C383.9,294.8 381.9,295.2 379.9,295.6 C377.8,296.0 375.7,296.4 373.7,296.9 C371.7,297.4 369.6,297.9 367.7,298.6 C365.8,299.3 364.0,300.0 362.3,300.9 C360.6,301.8 359.0,302.9 357.5,304.0 C355.9,305.2 354.5,306.5 353.1,307.8 C351.7,309.1 350.4,310.5 349.1,311.9 C347.7,313.2 346.4,314.6 345.1,316.0 C343.7,317.4 342.3,318.7 341.0,320.1 C339.6,321.4 338.3,322.8 337.0,324.2 C335.7,325.6 334.4,327.1 333.2,328.6 C332.1,330.1 331.0,331.6 330.0,333.2 C329.0,334.8 328.0,336.5 327.1,338.2 C326.2,340.0 325.4,341.8 324.6,343.6 C323.9,345.4 323.2,347.2 322.6,349.1 C322.1,351.0 321.7,352.8 321.4,354.7 C321.1,356.7 321.0,358.6 321.0,360.6 C320.9,362.5 321.0,364.6 321.2,366.6 C321.4,368.6 321.8,370.6 322.1,372.6 C322.5,374.6 323.0,376.5 323.5,378.4 C324.1,380.3 324.8,382.2 325.5,384.1 C326.3,385.9 327.2,387.8 328.1,389.6 C329.0,391.4 330.1,393.2 331.1,394.9 C332.1,396.6 333.2,398.3 334.3,399.9 C335.4,401.6 336.5,403.1 337.7,404.6 C338.9,406.2 340.1,407.7 341.4,409.1 C342.7,410.5 344.0,411.9 345.3,413.3 C346.7,414.6 348.0,415.9 349.4,417.2 C350.7,418.4 352.1,419.6 353.5,420.7 C354.9,421.8 356.4,422.8 357.8,423.9 C359.3,424.9 360.8,425.9 362.2,426.9 C363.7,428.0 365.1,429.0 366.6,430.1 C368.0,431.1 369.4,432.3 370.8,433.4 C372.2,434.5 373.6,435.6 375.0,436.7 C376.5,437.8 377.9,438.9 379.3,439.9 C380.8,441.0 382.3,442.0 383.8,443.0 C385.3,444.0 386.9,445.0 388.4,446.0 C390.0,447.0 391.6,448.1 393.2,449.0 C394.8,450.0 396.5,450.9 398.1,451.7 C399.8,452.5 401.5,453.2 403.2,453.7 C404.9,454.3 406.6,454.7 408.4,455.1 C410.2,455.5 412.0,455.7 413.8,455.9 C415.6,456.1 417.4,456.2 419.3,456.2 C421.1,456.2 422.9,456.1 424.7,455.9 C426.5,455.7 428.3,455.5 430.1,455.1 C431.9,454.7 433.7,454.3 435.4,453.7 C437.2,453.2 439.9,452.2 440.8,451.9Z" fill="#d9cbdc"/>
<path d="M409.6,293.3 C411.6,293.2 413.6,293.2 415.6,293.2 C417.6,293.2 419.6,293.1 421.6,293.2 C423.6,293.3 425.6,293.4 427.5,293.6 C429.4,293.7 431.2,294.0 433.0,294.3 C434.8,294.7 436.5,295.2 438.2,295.7 C439.9,296.2 441.5,296.8 443.1,297.5 C444.7,298.1 446.3,298.8 447.8,299.5 C449.3,300.3 450.7,301.0 452.2,301.8 C453.6,302.5 455.0,303.3 456.3,304.0 C457.6,304.8 458.9,305.5 460.1,306.4 C461.4,307.2 462.6,308.1 463.7,309.1 C464.9,310.1 466.0,311.1 467.1,312.4 C468.1,313.7 469.1,315.2 470.0,316.8 C470.9,318.3 471.7,320.1 472.5,321.9 C473.3,323.6 474.1,325.4 475.0,327.0 C475.8,328.6 476.7,330.3 477.7,331.6 C478.7,332.9 479.8,333.9 480.9,334.9 C482.0,335.9 483.2,336.6 484.3,337.6 C485.5,338.5 486.6,339.3 487.7,340.4 C488.7,341.5 489.6,342.8 490.5,344.3 C491.3,345.9 492.0,347.8 492.8,349.8 C493.5,351.8 494.1,354.1 494.7,356.3 C495.3,358.5 495.8,360.9 496.1,363.2 C496.5,365.4 496.8,367.7 496.8,369.9 C496.9,372.1 496.8,374.2 496.6,376.3 C496.4,378.5 496.0,380.7 495.6,382.9 C495.2,385.0 494.7,387.2 494.2,389.3 C493.7,391.4 493.1,393.4 492.6,395.4 C492.0,397.4 491.5,399.2 491.0,401.1 C490.4,403.0 489.8,404.8 489.1,406.6 C488.5,408.3 487.7,410.1 486.9,411.7 C486.1,413.4 485.1,415.1 484.1,416.7 C483.0,418.2 481.8,419.8 480.5,421.3 C479.2,422.7 477.8,424.2 476.4,425.6 C474.9,427.0 473.4,428.3 471.8,429.7 C470.3,431.0 468.7,432.3 467.1,433.7 C465.4,435.0 463.8,436.4 462.0,437.7 C460.3,439.1 458.5,440.5 456.7,441.8 C454.9,443.1 453.0,444.4 451.2,445.5 C449.4,446.6 447.6,447.7 445.8,448.6 C444.0,449.5 442.2,450.3 440.5,451.0 C438.7,451.7 436.9,452.3 435.1,452.8 C433.4,453.4 431.6,453.8 429.8,454.2 C428.1,454.5 426.3,454.8 424.5,454.9 C422.7,455.1 420.9,455.2 419.1,455.2 C417.3,455.2 415.5,455.1 413.7,454.9 C412.0,454.8 410.2,454.5 408.4,454.2 C406.7,453.8 404.9,453.4 403.2,452.8 C401.5,452.3 399.9,451.6 398.3,450.8 C396.6,450.0 395.0,449.1 393.4,448.2 C391.8,447.2 390.2,446.2 388.7,445.2 C387.1,444.2 385.6,443.2 384.1,442.2 C382.6,441.2 381.1,440.2 379.7,439.1 C378.2,438.1 376.9,437.0 375.5,435.9 C374.0,434.9 372.7,433.7 371.3,432.7 C369.9,431.6 368.5,430.5 367.1,429.4 C365.7,428.4 364.2,427.4 362.8,426.3 C361.3,425.3 359.9,424.3 358.4,423.3 C357.0,422.3 355.6,421.3 354.2,420.1 C352.8,419.0 351.4,417.9 350.1,416.7 C348.7,415.4 347.4,414.1 346.1,412.8 C344.8,411.5 343.5,410.1 342.2,408.7 C341.0,407.3 339.7,405.8 338.5,404.3 C337.4,402.8 336.3,401.2 335.2,399.6 C334.1,398.0 333.0,396.4 332.0,394.7 C331.0,393.0 330.0,391.2 329.1,389.4 C328.1,387.6 327.2,385.8 326.5,383.9 C325.7,382.1 325.1,380.3 324.5,378.4 C324.0,376.5 323.5,374.6 323.2,372.6 C322.8,370.7 322.5,368.7 322.3,366.7 C322.1,364.7 322.0,362.7 322.0,360.7 C322.0,358.8 322.1,356.9 322.4,355.0 C322.7,353.1 323.1,351.2 323.6,349.4 C324.2,347.6 324.9,345.7 325.6,343.9 C326.3,342.1 327.2,340.4 328.1,338.7 C329.0,337.0 329.9,335.3 330.9,333.7 C331.9,332.1 333.0,330.6 334.1,329.1 C335.3,327.6 336.6,326.2 337.8,324.8 C339.1,323.4 340.5,322.0 341.8,320.7 C343.1,319.3 344.5,318.0 345.8,316.7 C347.1,315.3 348.4,314.0 349.8,312.6 C351.1,311.3 352.4,309.9 353.8,308.6 C355.2,307.3 356.6,306.0 358.1,304.9 C359.6,303.7 361.1,302.7 362.8,301.8 C364.5,300.9 366.3,300.2 368.2,299.5 C370.1,298.8 372.1,298.3 374.1,297.8 C376.1,297.3 378.2,296.9 380.2,296.5 C382.2,296.1 384.2,295.7 386.2,295.4 C388.2,295.1 390.1,294.8 392.1,294.5 C394.0,294.2 396.0,294.0 397.9,293.9 C399.9,293.7 401.8,293.6 403.8,293.5 C405.7,293.4 407.7,293.3 409.6,293.3Z" fill="#d455bc" />
<path d="M409.6,299.0 C411.4,298.9 413.3,298.9 415.2,298.9 C417.0,298.9 418.9,298.9 420.7,298.9 C422.6,299.0 424.4,299.1 426.2,299.2 C428.0,299.4 429.7,299.6 431.4,300.0 C433.0,300.3 434.6,300.7 436.2,301.2 C437.8,301.7 439.3,302.3 440.8,302.9 C442.2,303.5 443.7,304.1 445.1,304.8 C446.5,305.5 447.8,306.2 449.2,306.9 C450.5,307.6 451.8,308.3 453.0,309.0 C454.2,309.7 455.4,310.4 456.6,311.2 C457.7,311.9 458.8,312.7 459.9,313.7 C461.0,314.6 462.0,315.6 463.0,316.8 C464.0,318.0 464.9,319.3 465.7,320.8 C466.6,322.3 467.3,324.0 468.1,325.5 C468.8,327.1 469.6,328.9 470.4,330.4 C471.2,331.9 472.0,333.4 472.9,334.6 C473.8,335.8 474.8,336.7 475.9,337.7 C476.9,338.6 478.0,339.3 479.1,340.1 C480.1,341.0 481.2,341.7 482.2,342.8 C483.1,343.8 484.0,345.0 484.8,346.4 C485.5,347.9 486.2,349.7 486.9,351.5 C487.5,353.4 488.2,355.5 488.7,357.6 C489.2,359.6 489.7,361.8 490.0,363.9 C490.4,366.1 490.6,368.1 490.7,370.2 C490.8,372.2 490.7,374.2 490.5,376.2 C490.3,378.2 489.9,380.3 489.6,382.3 C489.2,384.3 488.7,386.3 488.2,388.2 C487.8,390.2 487.2,392.1 486.7,393.9 C486.2,395.7 485.8,397.5 485.2,399.2 C484.7,400.9 484.1,402.6 483.5,404.3 C482.9,405.9 482.2,407.5 481.4,409.1 C480.7,410.6 479.8,412.2 478.8,413.7 C477.8,415.1 476.7,416.6 475.5,417.9 C474.3,419.3 473.0,420.6 471.7,421.9 C470.3,423.2 468.9,424.5 467.4,425.7 C466.0,427.0 464.5,428.2 463.0,429.5 C461.5,430.7 459.9,432.0 458.3,433.3 C456.7,434.5 455.0,435.8 453.4,437.0 C451.7,438.2 450.0,439.4 448.3,440.5 C446.6,441.5 444.9,442.5 443.2,443.3 C441.6,444.2 439.9,444.9 438.3,445.5 C436.6,446.2 435.0,446.8 433.3,447.3 C431.7,447.8 430.1,448.2 428.4,448.5 C426.8,448.8 425.1,449.1 423.5,449.2 C421.8,449.4 420.1,449.5 418.5,449.5 C416.8,449.5 415.1,449.4 413.5,449.2 C411.8,449.1 410.1,448.8 408.5,448.5 C406.9,448.2 405.3,447.8 403.7,447.3 C402.1,446.7 400.6,446.1 399.1,445.4 C397.5,444.7 396.0,443.8 394.5,442.9 C393.1,442.1 391.6,441.1 390.2,440.2 C388.7,439.3 387.3,438.3 385.9,437.4 C384.5,436.4 383.1,435.5 381.8,434.6 C380.5,433.6 379.2,432.6 377.9,431.6 C376.6,430.6 375.3,429.5 374.0,428.5 C372.7,427.5 371.4,426.5 370.1,425.5 C368.8,424.5 367.4,423.6 366.1,422.6 C364.7,421.7 363.4,420.8 362.0,419.8 C360.7,418.9 359.4,417.9 358.1,416.9 C356.8,415.9 355.5,414.8 354.3,413.7 C353.0,412.5 351.8,411.3 350.6,410.1 C349.4,408.8 348.1,407.6 347.0,406.2 C345.8,404.9 344.6,403.6 343.6,402.2 C342.5,400.8 341.4,399.3 340.4,397.8 C339.4,396.3 338.4,394.8 337.5,393.2 C336.5,391.6 335.6,390.0 334.7,388.3 C333.9,386.7 333.1,385.0 332.4,383.2 C331.7,381.5 331.1,379.8 330.5,378.1 C330.0,376.3 329.6,374.5 329.3,372.7 C328.9,370.9 328.6,369.0 328.4,367.2 C328.3,365.3 328.2,363.5 328.2,361.7 C328.2,359.9 328.3,358.1 328.6,356.3 C328.8,354.6 329.2,352.9 329.7,351.1 C330.2,349.4 330.8,347.7 331.5,346.1 C332.2,344.4 333.0,342.8 333.8,341.2 C334.7,339.6 335.5,338.0 336.5,336.5 C337.4,335.1 338.4,333.6 339.5,332.3 C340.5,330.9 341.7,329.6 342.9,328.3 C344.1,327.0 345.3,325.7 346.6,324.5 C347.8,323.2 349.1,322.0 350.3,320.7 C351.5,319.5 352.7,318.2 354.0,316.9 C355.2,315.7 356.4,314.4 357.7,313.2 C359.0,312.0 360.3,310.8 361.7,309.7 C363.1,308.7 364.6,307.7 366.1,306.9 C367.7,306.1 369.4,305.4 371.1,304.8 C372.9,304.1 374.8,303.6 376.6,303.2 C378.5,302.7 380.4,302.3 382.3,302.0 C384.2,301.6 386.0,301.3 387.9,301.0 C389.7,300.6 391.5,300.4 393.3,300.1 C395.1,299.9 396.9,299.7 398.7,299.5 C400.6,299.4 402.4,299.3 404.2,299.2 C406.0,299.1 407.8,299.0 409.6,299.0Z" fill="#8058a8" />
<path d="M371.0,417.1 C370.4,416.7 368.6,415.5 367.5,414.6 C366.3,413.8 365.1,412.9 363.9,412.0 C362.8,411.1 361.7,410.2 360.6,409.2 C359.5,408.1 358.4,407.1 357.3,406.0 C356.2,404.9 355.1,403.7 354.1,402.6 C353.1,401.4 352.1,400.2 351.1,399.0 C350.1,397.7 349.2,396.5 348.3,395.1 C347.4,393.8 346.5,392.4 345.7,391.0 C344.9,389.6 344.0,388.2 343.3,386.7 C342.5,385.2 341.8,383.7 341.2,382.2 C340.5,380.7 340.0,379.2 339.5,377.6 C339.1,376.1 338.7,374.5 338.4,372.9 C338.1,371.3 337.8,369.6 337.7,368.0 C337.5,366.3 337.4,364.7 337.5,363.1 C337.5,361.5 337.6,359.9 337.8,358.3 C338.0,356.8 338.6,354.5 338.8,353.8 L342.3,354.8 C342.2,355.5 341.6,357.7 341.4,359.1 C341.2,360.6 341.1,362.1 341.1,363.6 C341.0,365.2 341.1,366.7 341.3,368.3 C341.4,369.8 341.7,371.4 342.0,372.9 C342.3,374.5 342.6,376.0 343.0,377.4 C343.5,378.9 344.0,380.4 344.6,381.8 C345.2,383.2 345.9,384.7 346.6,386.1 C347.3,387.5 348.1,388.9 348.9,390.2 C349.7,391.5 350.5,392.8 351.4,394.1 C352.2,395.3 353.1,396.5 354.0,397.7 C354.9,398.9 355.9,400.0 356.9,401.2 C357.9,402.3 358.9,403.3 359.9,404.4 C360.9,405.4 362.0,406.4 363.0,407.4 C364.1,408.4 365.1,409.3 366.2,410.1 C367.3,411.0 368.5,411.8 369.6,412.6 C370.7,413.4 372.4,414.6 373.0,415.0Z" fill="#e9e3e5"/>
<path d="M335.9,362.8 C336.0,362.0 336.0,359.6 336.3,358.0 C336.5,356.4 336.8,354.9 337.3,353.3 C337.7,351.8 338.3,350.2 338.9,348.7 C339.6,347.2 340.3,345.7 341.0,344.3 C341.8,342.9 342.6,341.5 343.4,340.1 C344.3,338.8 345.2,337.5 346.1,336.2 C347.1,335.0 348.2,333.8 349.2,332.6 C350.3,331.4 351.4,330.3 352.6,329.2 C353.7,328.0 354.8,326.9 355.9,325.8 C357.1,324.7 358.1,323.5 359.3,322.4 C360.4,321.2 361.5,320.1 362.6,319.0 C363.8,317.9 365.0,316.8 366.3,315.9 C367.5,314.9 368.8,314.0 370.3,313.3 C371.7,312.5 373.2,311.9 374.8,311.3 C376.4,310.8 378.1,310.3 379.8,309.9 C381.4,309.5 383.2,309.2 384.9,308.8 C386.6,308.5 388.3,308.2 389.9,307.9 C391.6,307.6 393.2,307.4 394.9,307.1 C396.5,306.9 398.1,306.8 399.8,306.6 C401.4,306.5 403.1,306.4 404.7,306.3 C406.3,306.2 408.0,306.2 409.6,306.1 C411.3,306.1 412.9,306.0 414.6,306.0 C416.3,306.0 418.0,306.0 419.7,306.1 C421.4,306.1 423.8,306.3 424.6,306.3 L423.0,313.9 C422.2,313.9 420.0,313.7 418.6,313.7 C417.1,313.6 415.6,313.6 414.1,313.6 C412.6,313.7 411.1,313.7 409.6,313.7 C408.2,313.8 406.7,313.8 405.3,313.9 C403.8,314.0 402.3,314.0 400.9,314.2 C399.4,314.3 398.0,314.4 396.5,314.6 C395.1,314.8 393.6,315.1 392.1,315.3 C390.7,315.6 389.2,315.8 387.7,316.1 C386.2,316.4 384.6,316.7 383.1,317.1 C381.6,317.5 380.1,317.9 378.7,318.4 C377.3,318.9 375.9,319.4 374.7,320.1 C373.4,320.7 372.2,321.5 371.1,322.4 C370.0,323.2 368.9,324.2 367.9,325.1 C366.9,326.1 365.9,327.2 364.9,328.2 C363.9,329.2 362.9,330.2 361.9,331.2 C361.0,332.2 359.9,333.2 358.9,334.2 C357.9,335.2 356.9,336.2 356.0,337.3 C355.0,338.3 354.1,339.4 353.2,340.5 C352.4,341.6 351.6,342.7 350.8,343.9 C350.1,345.1 349.4,346.4 348.7,347.6 C348.0,348.9 347.4,350.2 346.8,351.6 C346.3,352.9 345.8,354.3 345.4,355.7 C345.0,357.0 344.7,358.4 344.5,359.8 C344.3,361.2 344.2,363.4 344.2,364.1Z" fill="#e9e3e5"/>
<path d="M453.5,321.3 C454.0,321.8 455.4,323.0 456.2,324.0 C457.1,325.1 457.9,326.3 458.6,327.6 C459.3,328.8 460.0,330.3 460.7,331.7 C461.4,333.1 462.0,334.6 462.7,335.9 C463.4,337.2 464.1,338.5 464.9,339.6 C465.7,340.6 466.6,341.5 467.5,342.3 C468.4,343.1 469.4,343.7 470.3,344.4 C471.2,345.2 472.1,345.8 473.0,346.7 C473.8,347.7 474.6,348.7 475.2,349.9 C475.9,351.2 476.5,352.8 477.1,354.4 C477.7,356.0 478.2,357.8 478.7,359.7 C479.2,361.5 479.6,363.4 479.9,365.2 C480.1,367.1 480.4,368.9 480.4,370.7 C480.5,372.4 480.4,374.2 480.2,375.9 C480.1,377.7 479.8,379.5 479.5,381.2 C479.1,383.0 478.7,384.8 478.3,386.4 C477.9,388.1 477.4,389.8 477.0,391.4 C476.5,393.0 476.1,394.5 475.6,396.0 C475.2,397.5 474.7,399.0 474.2,400.4 C473.6,401.9 473.0,403.3 472.4,404.7 C471.7,406.0 470.9,407.4 470.1,408.7 C469.2,409.9 467.7,411.8 467.2,412.4 L463.8,410.2 C464.3,409.6 465.7,407.9 466.6,406.6 C467.4,405.4 468.1,404.2 468.7,402.9 C469.4,401.6 469.9,400.3 470.4,398.9 C470.9,397.6 471.4,396.2 471.8,394.8 C472.3,393.3 472.7,391.9 473.1,390.4 C473.5,388.9 473.9,387.3 474.3,385.7 C474.7,384.1 475.1,382.5 475.4,380.8 C475.7,379.2 476.0,377.5 476.2,375.8 C476.3,374.2 476.4,372.5 476.3,370.9 C476.3,369.2 476.1,367.5 475.8,365.8 C475.5,364.0 475.1,362.2 474.7,360.5 C474.3,358.8 473.7,357.1 473.2,355.5 C472.6,354.0 472.1,352.5 471.4,351.3 C470.8,350.1 470.1,349.2 469.3,348.3 C468.5,347.5 467.6,346.9 466.8,346.2 C465.9,345.5 465.0,344.9 464.1,344.1 C463.3,343.4 462.4,342.6 461.7,341.6 C460.9,340.6 460.3,339.3 459.6,338.1 C458.9,336.9 458.4,335.5 457.7,334.2 C457.1,332.8 456.5,331.5 455.8,330.3 C455.1,329.1 454.3,327.9 453.5,326.9 C452.7,326.0 451.4,324.8 451.0,324.4Z" fill="#e9e3e5"/>
<path d="M409.6,315.6 C411.0,315.6 412.5,315.6 413.9,315.5 C415.4,315.5 416.8,315.5 418.3,315.6 C419.7,315.6 421.2,315.7 422.5,315.8 C423.9,316.0 425.3,316.1 426.6,316.4 C427.8,316.7 429.1,317.0 430.3,317.4 C431.5,317.7 432.7,318.2 433.9,318.7 C435.0,319.1 436.1,319.6 437.2,320.2 C438.3,320.7 439.4,321.2 440.4,321.8 C441.4,322.3 442.4,322.8 443.4,323.4 C444.3,324.0 445.3,324.5 446.2,325.1 C447.1,325.7 447.9,326.3 448.8,327.1 C449.6,327.8 450.4,328.6 451.2,329.5 C451.9,330.4 452.6,331.5 453.3,332.6 C453.9,333.8 454.5,335.1 455.1,336.3 C455.7,337.5 456.3,338.9 456.9,340.0 C457.5,341.2 458.2,342.4 458.9,343.3 C459.6,344.3 460.4,345.0 461.2,345.7 C462.0,346.5 462.9,347.0 463.7,347.7 C464.5,348.3 465.4,348.9 466.1,349.7 C466.8,350.5 467.5,351.4 468.1,352.6 C468.7,353.7 469.3,355.1 469.8,356.5 C470.3,358.0 470.8,359.6 471.2,361.2 C471.6,362.8 472.0,364.6 472.2,366.2 C472.5,367.8 472.7,369.4 472.7,371.0 C472.8,372.6 472.7,374.2 472.6,375.7 C472.4,377.3 472.2,378.9 471.9,380.5 C471.6,382.0 471.2,383.6 470.8,385.1 C470.4,386.6 470.0,388.1 469.6,389.5 C469.3,390.9 468.9,392.3 468.5,393.6 C468.1,395.0 467.6,396.3 467.1,397.6 C466.7,398.9 466.1,400.1 465.5,401.3 C464.9,402.6 464.3,403.7 463.5,404.9 C462.7,406.0 461.8,407.2 460.9,408.2 C460.0,409.3 459.0,410.3 457.9,411.3 C456.9,412.4 455.7,413.3 454.6,414.3 C453.5,415.3 452.4,416.2 451.2,417.2 C450.0,418.2 448.8,419.2 447.5,420.2 C446.3,421.1 445.0,422.1 443.7,423.1 C442.4,424.0 441.0,424.9 439.7,425.8 C438.4,426.6 437.1,427.3 435.8,428.0 C434.5,428.6 433.2,429.2 431.9,429.7 C430.7,430.2 429.4,430.7 428.1,431.1 C426.8,431.4 425.5,431.8 424.2,432.0 C423.0,432.3 421.7,432.5 420.4,432.6 C419.1,432.7 417.8,432.8 416.5,432.8 C415.2,432.8 413.9,432.7 412.6,432.6 C411.3,432.5 410.0,432.3 408.7,432.0 C407.5,431.8 406.2,431.5 405.0,431.1 C403.8,430.7 402.6,430.2 401.4,429.6 C400.2,429.0 399.0,428.4 397.9,427.7 C396.7,427.0 395.6,426.3 394.5,425.5 C393.3,424.8 392.2,424.1 391.2,423.4 C390.1,422.6 389.0,421.9 388.0,421.2 C386.9,420.4 385.9,419.6 384.9,418.8 C383.9,418.1 382.9,417.3 381.9,416.5 C380.9,415.7 379.9,414.9 378.8,414.1 C377.8,413.4 376.8,412.6 375.7,411.9 C374.7,411.2 373.6,410.5 372.6,409.7 C371.5,409.0 370.5,408.2 369.5,407.4 C368.5,406.6 367.5,405.8 366.5,404.9 C365.6,404.0 364.6,403.1 363.7,402.1 C362.7,401.1 361.8,400.2 360.8,399.1 C359.9,398.1 359.0,397.0 358.2,395.9 C357.3,394.9 356.5,393.7 355.8,392.6 C355.0,391.4 354.2,390.2 353.5,389.0 C352.7,387.8 352.0,386.5 351.3,385.2 C350.7,383.9 350.0,382.6 349.5,381.2 C348.9,379.9 348.5,378.6 348.1,377.2 C347.7,375.8 347.3,374.4 347.1,373.0 C346.8,371.6 346.6,370.2 346.4,368.7 C346.3,367.3 346.2,365.8 346.2,364.4 C346.2,363.0 346.3,361.6 346.5,360.3 C346.7,358.9 347.0,357.6 347.4,356.2 C347.8,354.9 348.3,353.6 348.8,352.3 C349.4,351.0 350.0,349.7 350.6,348.5 C351.3,347.2 351.9,346.0 352.7,344.9 C353.4,343.7 354.2,342.6 355.0,341.5 C355.8,340.5 356.8,339.4 357.7,338.4 C358.6,337.4 359.6,336.4 360.5,335.5 C361.5,334.5 362.5,333.5 363.4,332.6 C364.4,331.6 365.3,330.6 366.3,329.6 C367.3,328.6 368.2,327.6 369.2,326.7 C370.2,325.8 371.2,324.8 372.3,324.0 C373.4,323.2 374.5,322.4 375.8,321.8 C377.0,321.1 378.3,320.6 379.7,320.1 C381.0,319.6 382.5,319.3 383.9,318.9 C385.4,318.5 386.9,318.2 388.3,318.0 C389.8,317.7 391.3,317.4 392.7,317.2 C394.1,316.9 395.5,316.7 396.9,316.5 C398.3,316.3 399.7,316.2 401.2,316.1 C402.6,315.9 404.0,315.8 405.4,315.8 C406.8,315.7 408.2,315.7 409.6,315.6Z" fill="#d455bc" />
<path d="M409.6,322.3 C410.9,322.2 412.2,322.2 413.4,322.2 C414.7,322.2 416.0,322.2 417.3,322.2 C418.6,322.3 419.8,322.3 421.1,322.5 C422.3,322.6 423.5,322.7 424.6,323.0 C425.8,323.2 426.9,323.5 427.9,323.8 C429.0,324.2 430.1,324.6 431.1,325.0 C432.1,325.4 433.1,325.8 434.1,326.3 C435.1,326.8 436.0,327.3 436.9,327.7 C437.8,328.2 438.7,328.7 439.5,329.2 C440.4,329.7 441.2,330.1 442.0,330.7 C442.8,331.2 443.6,331.8 444.3,332.4 C445.1,333.1 445.8,333.7 446.4,334.6 C447.1,335.4 447.7,336.3 448.3,337.3 C448.9,338.3 449.4,339.5 449.9,340.6 C450.5,341.7 451.0,342.9 451.5,343.9 C452.1,345.0 452.6,346.0 453.3,346.8 C453.9,347.7 454.6,348.3 455.3,349.0 C456.0,349.6 456.8,350.1 457.5,350.7 C458.3,351.3 459.0,351.8 459.7,352.5 C460.3,353.2 460.9,354.0 461.5,355.0 C462.0,356.0 462.5,357.3 462.9,358.5 C463.4,359.8 463.8,361.3 464.2,362.7 C464.5,364.1 464.9,365.7 465.1,367.1 C465.3,368.6 465.5,370.0 465.5,371.4 C465.6,372.8 465.5,374.1 465.4,375.5 C465.3,376.9 465.0,378.4 464.8,379.7 C464.5,381.1 464.2,382.5 463.8,383.9 C463.5,385.2 463.2,386.5 462.8,387.8 C462.5,389.0 462.1,390.2 461.8,391.4 C461.4,392.6 461.0,393.8 460.6,394.9 C460.2,396.1 459.7,397.2 459.2,398.2 C458.6,399.3 458.0,400.4 457.4,401.4 C456.7,402.4 455.9,403.4 455.1,404.3 C454.3,405.3 453.3,406.2 452.4,407.1 C451.5,408.0 450.5,408.9 449.5,409.7 C448.5,410.6 447.5,411.4 446.4,412.3 C445.4,413.2 444.3,414.0 443.2,414.9 C442.1,415.8 441.0,416.7 439.8,417.5 C438.6,418.3 437.4,419.2 436.3,419.9 C435.1,420.6 434.0,421.3 432.8,421.9 C431.7,422.4 430.5,422.9 429.4,423.4 C428.3,423.8 427.1,424.2 426.0,424.6 C424.9,424.9 423.7,425.2 422.6,425.4 C421.4,425.7 420.3,425.8 419.2,425.9 C418.0,426.1 416.9,426.1 415.7,426.1 C414.6,426.1 413.4,426.1 412.3,425.9 C411.1,425.8 410.0,425.7 408.8,425.4 C407.7,425.2 406.6,424.9 405.5,424.6 C404.4,424.2 403.4,423.8 402.3,423.3 C401.3,422.8 400.2,422.2 399.2,421.6 C398.2,421.0 397.2,420.3 396.2,419.7 C395.2,419.0 394.2,418.4 393.3,417.8 C392.3,417.1 391.4,416.5 390.4,415.8 C389.5,415.1 388.6,414.4 387.7,413.8 C386.8,413.1 385.9,412.4 385.0,411.7 C384.1,411.0 383.3,410.3 382.3,409.6 C381.4,408.9 380.5,408.2 379.6,407.6 C378.7,406.9 377.7,406.3 376.8,405.7 C375.9,405.0 375.0,404.3 374.1,403.6 C373.2,402.9 372.3,402.2 371.4,401.4 C370.6,400.6 369.7,399.8 368.9,398.9 C368.0,398.1 367.2,397.2 366.4,396.3 C365.6,395.4 364.8,394.4 364.0,393.5 C363.3,392.5 362.6,391.5 361.9,390.5 C361.2,389.5 360.5,388.4 359.9,387.3 C359.2,386.2 358.6,385.1 358.0,383.9 C357.4,382.8 356.8,381.6 356.3,380.4 C355.8,379.2 355.4,378.1 355.1,376.8 C354.7,375.6 354.4,374.4 354.2,373.2 C353.9,371.9 353.7,370.6 353.6,369.3 C353.5,368.1 353.4,366.8 353.4,365.5 C353.4,364.3 353.5,363.0 353.7,361.8 C353.9,360.6 354.1,359.4 354.5,358.3 C354.8,357.1 355.3,355.9 355.7,354.8 C356.2,353.6 356.8,352.5 357.3,351.4 C357.9,350.3 358.5,349.2 359.2,348.2 C359.8,347.2 360.5,346.2 361.2,345.2 C362.0,344.3 362.8,343.4 363.6,342.5 C364.4,341.6 365.3,340.7 366.1,339.9 C367.0,339.0 367.8,338.1 368.7,337.3 C369.6,336.4 370.4,335.5 371.2,334.7 C372.1,333.8 372.9,332.9 373.8,332.1 C374.7,331.3 375.6,330.4 376.6,329.7 C377.5,329.0 378.5,328.3 379.6,327.7 C380.7,327.2 381.9,326.7 383.1,326.3 C384.3,325.8 385.6,325.5 386.9,325.2 C388.1,324.9 389.5,324.6 390.8,324.3 C392.1,324.1 393.4,323.9 394.6,323.6 C395.9,323.4 397.1,323.2 398.4,323.1 C399.6,322.9 400.9,322.8 402.1,322.7 C403.4,322.6 404.6,322.5 405.9,322.4 C407.1,322.4 408.4,322.3 409.6,322.3Z" fill="#8058a8" />
<path d="M448.8,400.2 C448.4,400.6 447.3,401.8 446.5,402.6 C445.7,403.3 444.9,404.1 444.0,404.8 C443.2,405.6 442.3,406.3 441.4,407.0 C440.5,407.8 439.6,408.6 438.6,409.3 C437.6,410.0 436.6,410.8 435.6,411.5 C434.6,412.2 433.6,413.0 432.6,413.6 C431.6,414.2 430.6,414.8 429.6,415.3 C428.6,415.8 427.7,416.2 426.7,416.6 C425.7,417.0 424.7,417.3 423.7,417.6 C422.8,417.9 421.8,418.2 420.8,418.4 C419.8,418.6 418.8,418.7 417.9,418.8 C416.9,418.9 415.9,419.0 414.9,419.0 C413.9,419.0 412.9,418.9 411.9,418.8 C410.9,418.7 409.9,418.6 409.0,418.4 C408.0,418.2 407.0,417.9 406.1,417.6 C405.2,417.3 404.2,417.0 403.3,416.5 C402.4,416.1 401.5,415.6 400.7,415.1 C399.8,414.5 398.9,414.0 398.0,413.4 C397.2,412.9 396.3,412.3 395.5,411.8 C394.7,411.2 393.9,410.6 393.1,410.1 C392.3,409.5 391.5,408.9 390.7,408.3 C390.0,407.7 389.2,407.1 388.4,406.5 C387.6,405.9 386.9,405.3 386.1,404.7 C385.3,404.1 384.5,403.6 383.7,403.0 C382.9,402.4 382.1,401.9 381.3,401.3 C380.5,400.7 379.7,400.2 379.0,399.6 C378.2,399.0 377.4,398.3 376.7,397.6 C375.9,397.0 375.2,396.2 374.5,395.5 C373.8,394.8 373.0,394.0 372.3,393.2 C371.7,392.4 371.0,391.6 370.3,390.8 C369.7,390.0 368.8,388.7 368.5,388.2 L377.2,385.2 C377.5,385.6 378.2,386.6 378.7,387.3 C379.2,387.9 379.7,388.5 380.3,389.2 C380.8,389.8 381.4,390.4 382.0,391.0 C382.5,391.5 383.1,392.1 383.7,392.6 C384.3,393.2 384.9,393.7 385.5,394.2 C386.1,394.6 386.7,395.1 387.3,395.5 C388.0,396.0 388.6,396.4 389.2,396.8 C389.9,397.3 390.5,397.7 391.1,398.2 C391.7,398.6 392.3,399.1 392.9,399.6 C393.5,400.1 394.1,400.6 394.7,401.0 C395.4,401.5 396.0,402.0 396.6,402.4 C397.2,402.9 397.9,403.3 398.5,403.7 C399.2,404.2 399.8,404.6 400.5,405.1 C401.2,405.5 401.9,405.9 402.6,406.3 C403.3,406.8 404.0,407.2 404.7,407.5 C405.4,407.8 406.1,408.1 406.8,408.4 C407.6,408.6 408.3,408.8 409.1,409.0 C409.9,409.1 410.6,409.2 411.4,409.3 C412.2,409.4 413.0,409.4 413.8,409.4 C414.5,409.4 415.3,409.4 416.1,409.3 C416.9,409.2 417.6,409.1 418.4,409.0 C419.2,408.8 420.0,408.6 420.7,408.4 C421.5,408.1 422.3,407.9 423.0,407.6 C423.8,407.3 424.6,406.9 425.4,406.5 C426.1,406.1 426.9,405.7 427.7,405.2 C428.5,404.7 429.3,404.1 430.1,403.6 C430.9,403.0 431.7,402.4 432.4,401.8 C433.2,401.2 433.9,400.6 434.6,400.0 C435.3,399.5 436.0,398.9 436.7,398.3 C437.4,397.7 438.0,397.1 438.7,396.5 C439.3,395.9 440.2,394.9 440.5,394.6Z" fill="#d455bc"/>
<path d="M407.9,326.8 C408.7,326.8 409.5,326.8 410.3,326.8 C411.0,326.8 411.8,326.7 412.6,326.8 C413.4,326.8 414.1,326.8 414.9,326.9 C415.6,327.0 416.3,327.1 417.0,327.2 C417.7,327.4 418.4,327.5 419.0,327.7 C419.7,327.9 420.3,328.2 421.0,328.4 C421.6,328.7 422.2,329.0 422.8,329.2 C423.3,329.5 423.9,329.8 424.5,330.1 C425.0,330.4 425.5,330.7 426.1,331.0 C426.6,331.3 427.1,331.6 427.6,331.9 C428.0,332.2 428.5,332.5 429.0,332.9 C429.4,333.3 429.8,333.7 430.2,334.2 C430.6,334.7 431.0,335.3 431.4,335.9 C431.7,336.5 432.0,337.2 432.4,337.9 C432.7,338.6 433.0,339.3 433.3,339.9 C433.7,340.5 434.0,341.2 434.4,341.7 C434.8,342.2 435.2,342.6 435.6,343.0 C436.0,343.3 436.5,343.6 437.0,344.0 C437.4,344.3 437.8,344.7 438.2,345.1 C438.6,345.5 439.0,346.0 439.3,346.6 C439.7,347.2 439.9,348.0 440.2,348.8 C440.5,349.5 440.8,350.4 441.0,351.3 C441.2,352.1 441.4,353.1 441.5,353.9 C441.7,354.8 441.8,355.7 441.8,356.5 C441.8,357.4 441.8,358.2 441.7,359.0 C441.6,359.9 441.5,360.8 441.3,361.6 C441.2,362.4 441.0,363.3 440.8,364.1 C440.6,364.9 440.4,365.7 440.2,366.4 C439.9,367.2 439.7,367.9 439.5,368.7 C439.3,369.4 439.1,370.1 438.8,370.8 C438.5,371.5 438.3,372.1 437.9,372.8 C437.6,373.4 437.3,374.1 436.9,374.7 C436.4,375.3 436.0,375.9 435.5,376.5 C435.0,377.1 434.4,377.6 433.9,378.2 C433.3,378.7 432.7,379.2 432.1,379.8 C431.5,380.3 430.9,380.8 430.2,381.3 C429.6,381.8 429.0,382.4 428.3,382.9 C427.6,383.4 426.9,384.0 426.2,384.5 C425.5,385.0 424.8,385.5 424.1,385.9 C423.4,386.3 422.7,386.7 422.0,387.1 C421.3,387.4 420.6,387.7 419.9,388.0 C419.2,388.3 418.5,388.5 417.9,388.7 C417.2,388.9 416.5,389.1 415.8,389.3 C415.1,389.4 414.4,389.5 413.7,389.6 C413.0,389.6 412.3,389.7 411.6,389.7 C410.9,389.7 410.2,389.6 409.5,389.6 C408.8,389.5 408.2,389.4 407.5,389.3 C406.8,389.1 406.1,389.0 405.5,388.7 C404.8,388.5 404.2,388.3 403.5,388.0 C402.9,387.7 402.3,387.3 401.6,386.9 C401.0,386.6 400.4,386.2 399.8,385.8 C399.2,385.4 398.6,385.0 398.0,384.6 C397.5,384.2 396.9,383.8 396.3,383.4 C395.8,383.0 395.2,382.6 394.7,382.2 C394.1,381.8 393.6,381.3 393.1,380.9 C392.5,380.5 392.0,380.1 391.4,379.7 C390.9,379.2 390.3,378.9 389.8,378.5 C389.2,378.1 388.6,377.7 388.1,377.3 C387.5,376.9 387.0,376.5 386.4,376.1 C385.9,375.6 385.3,375.2 384.8,374.7 C384.3,374.2 383.8,373.7 383.3,373.2 C382.8,372.7 382.3,372.2 381.8,371.6 C381.3,371.1 380.8,370.5 380.3,369.9 C379.9,369.3 379.5,368.7 379.0,368.1 C378.6,367.5 378.2,366.8 377.8,366.2 C377.4,365.5 377.0,364.8 376.7,364.1 C376.3,363.4 376.0,362.7 375.7,362.0 C375.4,361.3 375.1,360.6 374.9,359.8 C374.7,359.1 374.5,358.4 374.4,357.6 C374.2,356.8 374.1,356.1 374.0,355.3 C374.0,354.5 373.9,353.7 373.9,353.0 C373.9,352.2 374.0,351.5 374.1,350.8 C374.2,350.0 374.4,349.3 374.6,348.6 C374.8,347.9 375.0,347.2 375.3,346.5 C375.6,345.8 375.9,345.1 376.3,344.4 C376.6,343.8 377.0,343.1 377.4,342.5 C377.8,341.9 378.2,341.3 378.6,340.7 C379.1,340.1 379.6,339.6 380.1,339.0 C380.6,338.5 381.1,338.0 381.6,337.4 C382.1,336.9 382.7,336.4 383.2,335.9 C383.7,335.4 384.2,334.8 384.7,334.3 C385.2,333.8 385.7,333.2 386.3,332.7 C386.8,332.2 387.3,331.7 387.9,331.3 C388.5,330.9 389.1,330.5 389.8,330.1 C390.4,329.8 391.1,329.5 391.9,329.2 C392.6,329.0 393.4,328.7 394.2,328.6 C394.9,328.4 395.7,328.2 396.5,328.1 C397.3,327.9 398.1,327.8 398.9,327.6 C399.6,327.5 400.4,327.4 401.1,327.3 C401.9,327.2 402.6,327.1 403.4,327.0 C404.2,327.0 404.9,326.9 405.7,326.9 C406.4,326.8 407.2,326.8 407.9,326.8Z" fill="#8a60ae" />
<path d="M444.7,354.3 C444.7,354.7 444.9,356.2 445.0,357.1 C445.0,358.0 445.0,358.9 444.9,359.8 C444.8,360.8 444.6,361.7 444.5,362.6 C444.3,363.5 444.1,364.4 443.8,365.3 C443.6,366.2 443.4,367.1 443.2,367.9 C442.9,368.7 442.7,369.5 442.5,370.3 C442.2,371.1 442.0,371.9 441.7,372.6 C441.4,373.4 441.1,374.1 440.7,374.8 C440.4,375.5 440.0,376.2 439.6,376.9 C439.1,377.6 438.6,378.2 438.0,378.9 C437.5,379.5 436.9,380.1 436.3,380.7 C435.7,381.3 435.0,381.9 434.4,382.4 C433.7,383.0 433.0,383.6 432.3,384.1 C431.7,384.7 431.0,385.3 430.2,385.8 C429.5,386.4 428.7,387.0 428.0,387.6 C427.2,388.1 426.4,388.6 425.6,389.1 C424.9,389.6 424.1,390.0 423.3,390.4 C422.6,390.8 421.8,391.1 421.1,391.4 C420.3,391.7 419.6,392.0 418.8,392.2 C418.1,392.5 417.3,392.6 416.6,392.8 C415.8,392.9 415.1,393.1 414.3,393.1 C413.6,393.2 412.8,393.2 412.1,393.2 C411.3,393.2 410.5,393.2 409.8,393.1 C409.0,393.1 408.2,392.9 407.5,392.8 C406.8,392.6 406.0,392.5 405.3,392.2 C404.6,392.0 403.9,391.7 403.2,391.4 C402.5,391.1 401.8,390.7 401.1,390.3 C400.5,389.9 399.8,389.4 399.2,389.0 C398.5,388.6 397.8,388.2 397.2,387.7 C396.6,387.3 396.0,386.9 395.3,386.4 C394.7,386.0 394.1,385.5 393.5,385.1 C393.0,384.6 392.1,383.9 391.8,383.7 L392.6,381.8 C392.9,382.1 393.7,382.7 394.3,383.2 C394.9,383.6 395.4,384.0 396.0,384.4 C396.6,384.9 397.2,385.2 397.8,385.7 C398.4,386.1 399.0,386.5 399.6,386.9 C400.2,387.3 400.8,387.7 401.5,388.0 C402.1,388.4 402.8,388.8 403.4,389.1 C404.1,389.4 404.7,389.7 405.4,389.9 C406.1,390.1 406.8,390.3 407.5,390.4 C408.2,390.6 408.9,390.7 409.6,390.8 C410.3,390.8 411.1,390.9 411.8,390.9 C412.5,390.9 413.2,390.8 413.9,390.8 C414.6,390.7 415.3,390.6 416.1,390.4 C416.8,390.3 417.5,390.1 418.2,389.9 C418.9,389.7 419.6,389.4 420.3,389.2 C421.0,388.9 421.7,388.6 422.4,388.2 C423.2,387.8 423.9,387.4 424.6,387.0 C425.3,386.5 426.1,386.0 426.8,385.5 C427.5,385.0 428.2,384.4 428.9,383.9 C429.6,383.3 430.3,382.8 430.9,382.2 C431.6,381.7 432.2,381.2 432.8,380.6 C433.5,380.1 434.1,379.6 434.7,379.0 C435.2,378.4 435.8,377.9 436.3,377.3 C436.8,376.7 437.3,376.1 437.8,375.4 C438.2,374.8 438.5,374.1 438.9,373.5 C439.2,372.8 439.5,372.1 439.8,371.4 C440.0,370.7 440.3,370.0 440.5,369.2 C440.7,368.5 440.9,367.7 441.2,366.9 C441.4,366.1 441.6,365.3 441.8,364.5 C442.0,363.7 442.2,362.8 442.4,361.9 C442.5,361.1 442.7,360.2 442.8,359.3 C442.9,358.4 442.9,357.6 442.9,356.7 C442.8,355.8 442.6,354.5 442.6,354.0Z" fill="#e9e3e5"/>
<path d="M407.8,331.8 C408.4,331.8 409.0,331.8 409.6,331.8 C410.2,331.8 410.8,331.8 411.4,331.8 C412.0,331.8 412.6,331.8 413.2,331.9 C413.8,331.9 414.4,332.0 414.9,332.1 C415.5,332.2 416.0,332.4 416.5,332.5 C417.0,332.7 417.5,332.9 418.0,333.1 C418.5,333.3 419.0,333.5 419.4,333.7 C419.9,333.9 420.3,334.2 420.8,334.4 C421.2,334.6 421.6,334.8 422.0,335.1 C422.5,335.3 422.8,335.5 423.2,335.8 C423.6,336.1 424.0,336.3 424.3,336.6 C424.7,336.9 425.0,337.3 425.3,337.6 C425.7,338.0 425.9,338.5 426.2,339.0 C426.5,339.5 426.7,340.0 427.0,340.5 C427.3,341.1 427.5,341.6 427.8,342.1 C428.0,342.6 428.3,343.1 428.6,343.5 C428.9,343.9 429.2,344.2 429.6,344.5 C429.9,344.8 430.3,345.1 430.6,345.3 C431.0,345.6 431.3,345.9 431.6,346.2 C432.0,346.6 432.2,346.9 432.5,347.4 C432.8,347.9 433.0,348.5 433.2,349.1 C433.4,349.7 433.6,350.4 433.8,351.1 C434.0,351.8 434.1,352.5 434.2,353.2 C434.3,353.9 434.4,354.5 434.4,355.2 C434.5,355.9 434.4,356.5 434.4,357.2 C434.3,357.9 434.2,358.5 434.1,359.2 C434.0,359.9 433.8,360.5 433.6,361.2 C433.5,361.8 433.3,362.4 433.1,363.0 C433.0,363.6 432.8,364.2 432.6,364.8 C432.5,365.3 432.3,365.9 432.1,366.4 C431.9,367.0 431.7,367.5 431.4,368.0 C431.2,368.5 430.9,369.0 430.5,369.5 C430.2,370.0 429.8,370.5 429.5,370.9 C429.1,371.4 428.6,371.8 428.2,372.3 C427.7,372.7 427.3,373.1 426.8,373.5 C426.3,373.9 425.8,374.3 425.3,374.7 C424.8,375.2 424.3,375.6 423.8,376.0 C423.3,376.4 422.7,376.8 422.2,377.2 C421.6,377.6 421.0,378.0 420.5,378.4 C419.9,378.7 419.4,379.0 418.8,379.3 C418.3,379.6 417.7,379.8 417.2,380.0 C416.7,380.2 416.1,380.4 415.6,380.6 C415.0,380.8 414.5,380.9 414.0,381.0 C413.4,381.1 412.9,381.2 412.3,381.2 C411.8,381.3 411.2,381.3 410.7,381.3 C410.1,381.3 409.6,381.3 409.0,381.2 C408.5,381.2 407.9,381.1 407.4,381.0 C406.9,380.9 406.3,380.8 405.8,380.6 C405.3,380.4 404.8,380.2 404.3,380.0 C403.8,379.7 403.3,379.5 402.8,379.2 C402.3,378.9 401.8,378.6 401.4,378.3 C400.9,378.0 400.4,377.6 400.0,377.3 C399.5,377.0 399.1,376.7 398.6,376.4 C398.2,376.1 397.7,375.8 397.3,375.4 C396.9,375.1 396.5,374.8 396.0,374.4 C395.6,374.1 395.2,373.8 394.8,373.4 C394.3,373.1 393.9,372.8 393.4,372.5 C393.0,372.2 392.6,371.9 392.1,371.6 C391.7,371.3 391.2,370.9 390.8,370.6 C390.4,370.3 390.0,369.9 389.5,369.5 C389.1,369.2 388.7,368.8 388.3,368.4 C387.9,367.9 387.5,367.5 387.2,367.1 C386.8,366.7 386.4,366.2 386.0,365.8 C385.7,365.3 385.3,364.8 385.0,364.3 C384.7,363.8 384.3,363.3 384.0,362.8 C383.7,362.3 383.4,361.7 383.1,361.2 C382.8,360.6 382.6,360.1 382.3,359.5 C382.1,359.0 381.9,358.4 381.7,357.8 C381.6,357.2 381.4,356.7 381.3,356.1 C381.2,355.5 381.1,354.8 381.0,354.2 C381.0,353.6 381.0,353.0 381.0,352.4 C381.0,351.8 381.0,351.2 381.1,350.7 C381.2,350.1 381.3,349.5 381.5,349.0 C381.6,348.4 381.8,347.8 382.1,347.3 C382.3,346.7 382.6,346.2 382.8,345.7 C383.1,345.2 383.4,344.6 383.7,344.2 C384.0,343.7 384.3,343.2 384.7,342.7 C385.0,342.3 385.4,341.9 385.8,341.4 C386.2,341.0 386.6,340.6 387.0,340.2 C387.4,339.8 387.8,339.4 388.2,339.0 C388.7,338.5 389.1,338.1 389.5,337.7 C389.9,337.3 390.3,336.9 390.7,336.5 C391.1,336.1 391.5,335.7 392.0,335.3 C392.5,335.0 392.9,334.7 393.5,334.4 C394.0,334.1 394.5,333.9 395.1,333.7 C395.7,333.5 396.3,333.3 396.9,333.2 C397.5,333.0 398.2,332.9 398.8,332.8 C399.4,332.7 400.0,332.5 400.6,332.4 C401.2,332.3 401.8,332.2 402.4,332.2 C403.0,332.1 403.6,332.0 404.2,332.0 C404.8,331.9 405.4,331.9 406.0,331.9 C406.6,331.8 407.2,331.8 407.8,331.8Z" fill="#d866c2" />
<path d="M407.4,341.8 C407.7,341.8 408.0,341.8 408.3,341.8 C408.5,341.8 408.8,341.8 409.1,341.8 C409.4,341.8 409.7,341.8 409.9,341.8 C410.2,341.8 410.5,341.9 410.7,341.9 C411.0,342.0 411.2,342.0 411.5,342.1 C411.7,342.2 411.9,342.3 412.1,342.4 C412.4,342.5 412.6,342.6 412.8,342.7 C413.0,342.8 413.2,342.9 413.4,343.0 C413.6,343.1 413.8,343.2 414.0,343.3 C414.2,343.4 414.4,343.5 414.6,343.6 C414.7,343.7 414.9,343.9 415.1,344.0 C415.2,344.2 415.4,344.3 415.5,344.5 C415.7,344.7 415.8,344.9 415.9,345.1 C416.1,345.3 416.2,345.6 416.3,345.8 C416.4,346.1 416.5,346.3 416.6,346.5 C416.8,346.8 416.9,347.0 417.0,347.2 C417.2,347.4 417.3,347.5 417.5,347.7 C417.6,347.8 417.8,347.9 418.0,348.0 C418.1,348.2 418.3,348.3 418.4,348.4 C418.6,348.6 418.7,348.8 418.8,349.0 C419.0,349.2 419.1,349.5 419.2,349.8 C419.3,350.0 419.4,350.4 419.4,350.7 C419.5,351.0 419.6,351.3 419.6,351.6 C419.7,352.0 419.7,352.3 419.7,352.6 C419.7,352.9 419.7,353.2 419.7,353.5 C419.7,353.8 419.6,354.1 419.6,354.4 C419.5,354.7 419.4,355.0 419.4,355.3 C419.3,355.6 419.2,355.9 419.1,356.2 C419.1,356.5 419.0,356.7 418.9,357.0 C418.8,357.3 418.7,357.5 418.6,357.8 C418.5,358.0 418.4,358.3 418.3,358.5 C418.2,358.7 418.1,359.0 417.9,359.2 C417.8,359.4 417.6,359.6 417.4,359.8 C417.2,360.1 417.0,360.3 416.8,360.5 C416.6,360.7 416.4,360.8 416.2,361.0 C416.0,361.2 415.8,361.4 415.5,361.6 C415.3,361.8 415.1,362.0 414.8,362.2 C414.6,362.4 414.3,362.6 414.1,362.7 C413.8,362.9 413.5,363.1 413.3,363.3 C413.0,363.4 412.8,363.6 412.5,363.7 C412.3,363.8 412.0,363.9 411.8,364.0 C411.5,364.1 411.3,364.2 411.0,364.3 C410.8,364.4 410.5,364.4 410.3,364.5 C410.0,364.5 409.8,364.6 409.5,364.6 C409.3,364.6 409.0,364.6 408.8,364.6 C408.5,364.6 408.3,364.6 408.0,364.6 C407.7,364.6 407.5,364.5 407.2,364.5 C407.0,364.4 406.8,364.4 406.5,364.3 C406.3,364.2 406.0,364.1 405.8,364.0 C405.6,363.9 405.4,363.8 405.1,363.6 C404.9,363.5 404.7,363.4 404.5,363.2 C404.2,363.1 404.0,362.9 403.8,362.8 C403.6,362.7 403.4,362.5 403.2,362.4 C403.0,362.2 402.8,362.1 402.6,361.9 C402.4,361.8 402.2,361.6 402.0,361.5 C401.8,361.3 401.6,361.1 401.4,361.0 C401.2,360.8 401.0,360.7 400.8,360.6 C400.6,360.4 400.4,360.3 400.2,360.1 C400.0,360.0 399.8,359.8 399.6,359.7 C399.4,359.5 399.2,359.4 399.0,359.2 C398.8,359.0 398.6,358.8 398.4,358.7 C398.3,358.5 398.1,358.3 397.9,358.1 C397.7,357.9 397.5,357.7 397.4,357.5 C397.2,357.2 397.1,357.0 396.9,356.8 C396.8,356.6 396.6,356.3 396.5,356.1 C396.3,355.9 396.2,355.6 396.0,355.3 C395.9,355.1 395.8,354.8 395.7,354.6 C395.6,354.3 395.5,354.1 395.4,353.8 C395.3,353.5 395.3,353.3 395.2,353.0 C395.2,352.7 395.1,352.4 395.1,352.1 C395.1,351.9 395.0,351.6 395.0,351.3 C395.0,351.0 395.1,350.8 395.1,350.5 C395.1,350.2 395.2,350.0 395.3,349.7 C395.4,349.4 395.5,349.2 395.6,348.9 C395.7,348.7 395.8,348.4 395.9,348.2 C396.0,347.9 396.2,347.7 396.3,347.5 C396.4,347.3 396.6,347.0 396.8,346.8 C396.9,346.6 397.1,346.4 397.3,346.2 C397.5,346.0 397.7,345.8 397.8,345.6 C398.0,345.5 398.2,345.3 398.4,345.1 C398.6,344.9 398.8,344.7 399.0,344.5 C399.2,344.3 399.3,344.1 399.5,343.9 C399.7,343.8 399.9,343.6 400.1,343.4 C400.4,343.3 400.6,343.1 400.8,343.0 C401.1,342.9 401.3,342.7 401.6,342.7 C401.8,342.6 402.1,342.5 402.4,342.4 C402.7,342.3 403.0,342.3 403.3,342.2 C403.6,342.2 403.8,342.1 404.1,342.1 C404.4,342.0 404.7,342.0 404.9,342.0 C405.2,341.9 405.5,341.9 405.8,341.9 C406.0,341.8 406.3,341.8 406.6,341.8 C406.9,341.8 407.1,341.8 407.4,341.8Z" fill="#e8b8dc" />
<ellipse cx="399.6" cy="331.6" rx="4.800000000000001" ry="3" fill="#ebe4e8" transform="rotate(30 399.6 331.6)"/>
<ellipse cx="414.6" cy="344.1" rx="5.6000000000000005" ry="3.5" fill="#ebe4e8" transform="rotate(30 414.6 344.1)"/>
<ellipse cx="427.1" cy="374.1" rx="6.4" ry="4" fill="#ebe4e8" transform="rotate(30 427.1 374.1)"/>
<ellipse cx="447.2" cy="351.6" rx="4.800000000000001" ry="3" fill="#ebe4e8" transform="rotate(30 447.2 351.6)"/>
<path d="M409.6,285.7 C411.8,285.6 413.9,285.6 416.1,285.5 C418.3,285.5 420.5,285.5 422.7,285.6 C424.9,285.7 427.1,285.8 429.2,286.0 C431.2,286.2 433.3,286.4 435.2,286.8 C437.2,287.2 439.1,287.7 440.9,288.3 C442.7,288.9 444.5,289.5 446.3,290.3 C448.0,291.0 449.7,291.7 451.4,292.5 C453.0,293.3 454.6,294.2 456.2,295.0 C457.7,295.8 459.2,296.6 460.7,297.4 C462.1,298.3 463.5,299.1 464.9,300.0 C466.3,300.9 467.6,301.9 468.8,303.0 C470.1,304.1 471.3,305.2 472.5,306.6 C473.6,308.0 474.7,309.6 475.6,311.4 C476.6,313.1 477.5,315.1 478.4,316.9 C479.3,318.8 480.2,320.8 481.1,322.6 C482.1,324.4 483.0,326.1 484.1,327.6 C485.2,329.0 486.4,330.1 487.6,331.2 C488.8,332.3 490.1,333.1 491.4,334.1 C492.6,335.1 493.9,336.0 495.0,337.2 C496.1,338.5 497.1,339.8 498.1,341.5 C499.0,343.2 499.8,345.3 500.6,347.5 C501.4,349.7 502.1,352.2 502.7,354.6 C503.3,357.1 503.9,359.7 504.3,362.1 C504.7,364.6 505.0,367.1 505.0,369.5 C505.1,371.9 505.0,374.2 504.8,376.5 C504.6,378.9 504.2,381.4 503.7,383.7 C503.3,386.1 502.7,388.5 502.2,390.7 C501.6,393.0 501.0,395.2 500.4,397.4 C499.8,399.5 499.2,401.6 498.6,403.6 C498.0,405.7 497.4,407.7 496.6,409.6 C495.9,411.5 495.1,413.4 494.2,415.3 C493.3,417.1 492.2,418.9 491.1,420.7 C489.9,422.4 488.6,424.1 487.2,425.7 C485.8,427.3 484.2,428.9 482.6,430.4 C481.1,431.9 479.4,433.4 477.7,434.9 C476.0,436.4 474.2,437.8 472.5,439.3 C470.7,440.8 468.9,442.3 467.0,443.7 C465.1,445.2 463.1,446.7 461.1,448.2 C459.1,449.6 457.1,451.0 455.1,452.2 C453.1,453.4 451.1,454.6 449.2,455.6 C447.2,456.6 445.3,457.4 443.4,458.2 C441.4,459.0 439.5,459.6 437.6,460.2 C435.6,460.8 433.7,461.3 431.7,461.7 C429.8,462.1 427.9,462.4 425.9,462.6 C424.0,462.8 422.0,462.8 420.0,462.8 C418.1,462.8 416.1,462.8 414.1,462.6 C412.2,462.4 410.2,462.1 408.3,461.7 C406.4,461.3 404.5,460.8 402.6,460.2 C400.8,459.6 399.0,458.9 397.2,458.0 C395.4,457.2 393.6,456.2 391.9,455.1 C390.1,454.1 388.4,453.0 386.7,451.9 C385.0,450.8 383.3,449.7 381.7,448.6 C380.1,447.5 378.4,446.4 376.9,445.3 C375.3,444.1 373.8,442.9 372.2,441.8 C370.7,440.6 369.2,439.4 367.7,438.2 C366.1,437.0 364.6,435.8 363.1,434.6 C361.5,433.5 359.9,432.4 358.4,431.2 C356.8,430.1 355.2,429.1 353.6,427.9 C352.0,426.8 350.5,425.7 348.9,424.5 C347.4,423.3 345.9,422.0 344.5,420.7 C343.0,419.3 341.5,417.9 340.1,416.4 C338.7,415.0 337.2,413.5 335.9,411.9 C334.5,410.4 333.1,408.8 331.8,407.1 C330.6,405.5 329.3,403.8 328.2,402.0 C327.0,400.3 325.8,398.5 324.7,396.6 C323.6,394.7 322.5,392.8 321.5,390.8 C320.5,388.9 319.5,386.9 318.7,384.9 C317.8,382.8 317.1,380.8 316.5,378.8 C315.9,376.7 315.4,374.6 315.0,372.5 C314.6,370.3 314.3,368.1 314.0,366.0 C313.8,363.8 313.7,361.6 313.7,359.5 C313.8,357.3 313.9,355.2 314.2,353.2 C314.5,351.1 315.0,349.1 315.5,347.1 C316.1,345.1 316.9,343.0 317.7,341.1 C318.5,339.1 319.4,337.2 320.4,335.3 C321.4,333.5 322.4,331.6 323.5,329.9 C324.6,328.1 325.8,326.5 327.0,324.9 C328.3,323.2 329.7,321.7 331.1,320.1 C332.5,318.6 333.9,317.1 335.4,315.7 C336.9,314.2 338.3,312.7 339.8,311.3 C341.3,309.8 342.7,308.3 344.1,306.8 C345.6,305.3 347.0,303.8 348.5,302.4 C350.0,301.0 351.6,299.6 353.2,298.3 C354.9,297.1 356.6,296.0 358.4,295.0 C360.3,294.0 362.3,293.2 364.3,292.5 C366.4,291.7 368.6,291.2 370.8,290.6 C373.0,290.1 375.2,289.6 377.5,289.2 C379.7,288.8 381.9,288.4 384.0,288.0 C386.2,287.6 388.3,287.3 390.4,287.0 C392.6,286.7 394.7,286.5 396.8,286.3 C399.0,286.1 401.1,286.0 403.2,285.9 C405.4,285.8 407.5,285.7 409.6,285.7Z" fill="none" stroke="#4f3485" stroke-opacity="0.3" stroke-width="10" stroke-dasharray="1.1 1.7"/>
<path d="M409.6,303.3 C411.3,303.2 413.1,303.2 414.8,303.2 C416.6,303.2 418.4,303.1 420.1,303.2 C421.8,303.3 423.6,303.3 425.3,303.5 C426.9,303.7 428.6,303.9 430.1,304.2 C431.7,304.5 433.2,304.9 434.7,305.4 C436.2,305.8 437.6,306.4 439.0,306.9 C440.4,307.5 441.7,308.1 443.1,308.8 C444.4,309.4 445.7,310.1 446.9,310.7 C448.2,311.4 449.4,312.0 450.5,312.7 C451.7,313.3 452.8,314.0 453.9,314.7 C455.0,315.5 456.0,316.2 457.0,317.1 C458.1,318.0 459.1,318.9 460.0,320.0 C460.9,321.2 461.7,322.5 462.5,323.8 C463.3,325.2 464.0,326.8 464.7,328.3 C465.5,329.8 466.2,331.4 466.9,332.8 C467.7,334.3 468.4,335.7 469.3,336.8 C470.1,338.0 471.1,338.9 472.1,339.8 C473.1,340.6 474.1,341.3 475.1,342.1 C476.1,342.9 477.1,343.6 478.0,344.6 C478.9,345.5 479.7,346.6 480.5,348.0 C481.2,349.4 481.9,351.1 482.5,352.8 C483.1,354.6 483.7,356.5 484.2,358.5 C484.7,360.4 485.1,362.5 485.5,364.5 C485.8,366.5 486.0,368.5 486.1,370.4 C486.1,372.3 486.1,374.2 485.9,376.1 C485.7,378.0 485.4,379.9 485.0,381.8 C484.7,383.7 484.2,385.6 483.7,387.4 C483.3,389.3 482.8,391.0 482.3,392.8 C481.9,394.5 481.4,396.1 480.9,397.8 C480.4,399.4 479.9,401.0 479.3,402.5 C478.7,404.1 478.1,405.6 477.4,407.1 C476.6,408.6 475.8,410.0 474.9,411.4 C473.9,412.8 472.9,414.1 471.8,415.4 C470.6,416.7 469.4,418.0 468.1,419.2 C466.8,420.4 465.5,421.6 464.1,422.8 C462.8,424.0 461.4,425.1 460.0,426.3 C458.5,427.5 457.1,428.7 455.6,429.9 C454.0,431.1 452.5,432.3 450.9,433.4 C449.3,434.6 447.7,435.7 446.1,436.7 C444.5,437.7 442.9,438.6 441.3,439.4 C439.7,440.2 438.2,440.8 436.7,441.5 C435.1,442.1 433.5,442.6 432.0,443.1 C430.4,443.6 428.9,444.0 427.3,444.3 C425.8,444.6 424.2,444.8 422.7,445.0 C421.1,445.1 419.5,445.2 418.0,445.2 C416.4,445.2 414.8,445.1 413.2,445.0 C411.7,444.8 410.1,444.6 408.6,444.3 C407.0,444.0 405.5,443.6 404.0,443.1 C402.5,442.6 401.1,442.0 399.7,441.3 C398.2,440.7 396.8,439.8 395.4,439.0 C394.0,438.2 392.6,437.3 391.3,436.4 C389.9,435.5 388.6,434.7 387.2,433.8 C385.9,432.9 384.6,432.0 383.4,431.1 C382.1,430.2 380.9,429.2 379.7,428.3 C378.4,427.4 377.2,426.4 376.0,425.4 C374.8,424.5 373.6,423.5 372.3,422.6 C371.1,421.7 369.8,420.8 368.6,419.9 C367.3,419.0 366.0,418.1 364.8,417.2 C363.5,416.3 362.2,415.4 361.0,414.5 C359.8,413.5 358.6,412.5 357.4,411.4 C356.2,410.3 355.1,409.2 353.9,408.0 C352.8,406.9 351.6,405.7 350.5,404.4 C349.4,403.2 348.3,401.9 347.3,400.6 C346.3,399.2 345.3,397.9 344.4,396.5 C343.4,395.1 342.5,393.6 341.6,392.1 C340.7,390.6 339.8,389.1 339.0,387.5 C338.2,385.9 337.4,384.3 336.8,382.7 C336.1,381.1 335.5,379.5 335.0,377.8 C334.6,376.2 334.2,374.5 333.8,372.8 C333.5,371.1 333.2,369.3 333.1,367.6 C332.9,365.8 332.8,364.1 332.8,362.4 C332.8,360.7 332.9,359.0 333.2,357.3 C333.4,355.7 333.8,354.1 334.3,352.5 C334.7,350.8 335.3,349.2 336.0,347.7 C336.6,346.1 337.4,344.5 338.2,343.0 C338.9,341.5 339.8,340.1 340.6,338.7 C341.5,337.3 342.5,336.0 343.5,334.7 C344.5,333.4 345.6,332.1 346.7,330.9 C347.8,329.7 349.0,328.5 350.2,327.3 C351.3,326.1 352.5,325.0 353.7,323.8 C354.9,322.6 356.0,321.4 357.2,320.2 C358.3,319.0 359.5,317.8 360.7,316.7 C361.9,315.5 363.1,314.4 364.4,313.4 C365.8,312.4 367.1,311.5 368.6,310.7 C370.1,309.9 371.7,309.3 373.3,308.7 C375.0,308.1 376.8,307.7 378.5,307.2 C380.3,306.8 382.1,306.4 383.9,306.1 C385.6,305.7 387.4,305.4 389.1,305.1 C390.8,304.8 392.5,304.6 394.2,304.3 C395.9,304.1 397.7,303.9 399.4,303.8 C401.1,303.6 402.8,303.5 404.5,303.4 C406.2,303.4 407.9,303.3 409.6,303.3Z" fill="none" stroke="#4f3485" stroke-opacity="0.3" stroke-width="6.5" stroke-dasharray="1.1 1.7"/>
<path d="M409.6,326.1 C410.8,326.1 412.0,326.0 413.2,326.0 C414.3,326.0 415.6,326.0 416.7,326.0 C417.9,326.1 419.1,326.1 420.2,326.2 C421.4,326.4 422.5,326.5 423.5,326.7 C424.6,326.9 425.6,327.2 426.6,327.5 C427.6,327.8 428.6,328.2 429.5,328.6 C430.5,329.0 431.4,329.4 432.3,329.8 C433.2,330.2 434.1,330.7 434.9,331.1 C435.7,331.6 436.6,332.0 437.3,332.5 C438.1,332.9 438.9,333.4 439.6,333.9 C440.4,334.4 441.1,334.9 441.8,335.5 C442.5,336.1 443.1,336.7 443.7,337.5 C444.4,338.2 444.9,339.1 445.5,340.0 C446.0,341.0 446.5,342.1 447.0,343.1 C447.5,344.1 447.9,345.2 448.5,346.1 C449.0,347.1 449.5,348.1 450.1,348.8 C450.6,349.6 451.3,350.2 452.0,350.8 C452.6,351.4 453.3,351.8 454.0,352.4 C454.7,352.9 455.4,353.4 456.0,354.1 C456.6,354.8 457.1,355.5 457.6,356.4 C458.2,357.4 458.6,358.5 459.0,359.7 C459.4,360.9 459.8,362.2 460.2,363.5 C460.5,364.9 460.8,366.3 461.0,367.6 C461.2,369.0 461.4,370.3 461.4,371.6 C461.5,372.9 461.4,374.1 461.3,375.4 C461.2,376.7 461.0,378.0 460.7,379.3 C460.5,380.6 460.2,381.9 459.9,383.1 C459.6,384.4 459.2,385.6 458.9,386.8 C458.6,387.9 458.3,389.0 457.9,390.1 C457.6,391.3 457.3,392.3 456.9,393.4 C456.5,394.4 456.0,395.5 455.5,396.5 C455.0,397.5 454.5,398.4 453.9,399.4 C453.2,400.3 452.5,401.2 451.7,402.1 C451.0,403.0 450.1,403.8 449.3,404.7 C448.4,405.5 447.5,406.3 446.6,407.1 C445.6,407.9 444.7,408.7 443.7,409.5 C442.8,410.3 441.8,411.1 440.8,411.9 C439.7,412.7 438.7,413.6 437.6,414.3 C436.5,415.1 435.4,415.8 434.3,416.5 C433.2,417.2 432.2,417.8 431.1,418.3 C430.0,418.9 429.0,419.3 427.9,419.8 C426.9,420.2 425.8,420.6 424.8,420.9 C423.7,421.2 422.7,421.5 421.6,421.7 C420.6,421.9 419.5,422.0 418.5,422.1 C417.4,422.2 416.3,422.3 415.3,422.3 C414.2,422.3 413.1,422.2 412.1,422.1 C411.0,422.0 409.9,421.9 408.9,421.7 C407.9,421.5 406.8,421.2 405.8,420.9 C404.8,420.5 403.8,420.1 402.9,419.7 C401.9,419.2 400.9,418.7 400.0,418.1 C399.0,417.6 398.1,416.9 397.2,416.3 C396.3,415.8 395.3,415.2 394.5,414.6 C393.6,414.0 392.7,413.4 391.8,412.7 C391.0,412.1 390.2,411.5 389.3,410.8 C388.5,410.2 387.7,409.5 386.8,408.9 C386.0,408.3 385.2,407.6 384.3,407.0 C383.5,406.3 382.6,405.7 381.8,405.1 C380.9,404.5 380.1,404.0 379.2,403.3 C378.4,402.7 377.5,402.1 376.7,401.5 C375.8,400.8 375.0,400.1 374.2,399.4 C373.4,398.7 372.6,397.9 371.9,397.1 C371.1,396.3 370.3,395.5 369.6,394.7 C368.8,393.8 368.1,392.9 367.4,392.0 C366.7,391.1 366.0,390.2 365.4,389.3 C364.7,388.3 364.1,387.3 363.5,386.3 C362.9,385.3 362.3,384.3 361.8,383.2 C361.2,382.1 360.7,381.0 360.2,379.9 C359.8,378.9 359.4,377.8 359.1,376.6 C358.7,375.5 358.5,374.4 358.2,373.2 C358.0,372.1 357.8,370.9 357.7,369.7 C357.6,368.5 357.5,367.3 357.6,366.2 C357.6,365.0 357.6,363.9 357.8,362.7 C358.0,361.6 358.2,360.5 358.5,359.4 C358.8,358.3 359.3,357.2 359.7,356.2 C360.1,355.1 360.7,354.1 361.2,353.1 C361.7,352.0 362.3,351.0 362.9,350.1 C363.5,349.2 364.1,348.2 364.8,347.4 C365.5,346.5 366.2,345.6 367.0,344.8 C367.7,344.0 368.5,343.2 369.3,342.4 C370.1,341.6 370.9,340.8 371.7,340.0 C372.5,339.2 373.3,338.4 374.1,337.6 C374.8,336.8 375.6,335.9 376.4,335.2 C377.3,334.4 378.1,333.6 379.0,333.0 C379.9,332.3 380.8,331.7 381.8,331.1 C382.8,330.6 383.9,330.2 385.0,329.8 C386.1,329.4 387.3,329.1 388.5,328.8 C389.7,328.5 391.0,328.2 392.2,328.0 C393.4,327.8 394.5,327.5 395.7,327.4 C396.9,327.2 398.0,327.0 399.2,326.8 C400.4,326.7 401.5,326.5 402.7,326.4 C403.8,326.3 405.0,326.3 406.1,326.2 C407.3,326.2 408.5,326.1 409.6,326.1Z" fill="none" stroke="#4f3485" stroke-opacity="0.3" stroke-width="7" stroke-dasharray="1.1 1.7"/>
<line x1="379.6" y1="441.7" x2="397.1" y2="414.2" stroke="#4a3470" stroke-width="0.9"/>
<line x1="419.6" y1="434.2" x2="422.1" y2="414.2" stroke="#4a3470" stroke-width="0.9"/>
<line x1="472.2" y1="351.6" x2="482.2" y2="339.1" stroke="#4a3470" stroke-width="0.9"/>
<clipPath id="tc6"><path d="M409.6,279.0 C411.9,278.9 414.3,278.9 416.6,278.9 C419.0,278.9 421.4,278.9 423.7,278.9 C426.0,279.0 428.4,279.1 430.6,279.3 C432.9,279.6 435.0,279.8 437.2,280.3 C439.3,280.7 441.3,281.2 443.3,281.8 C445.2,282.4 447.2,283.2 449.0,283.9 C450.9,284.7 452.7,285.5 454.5,286.4 C456.3,287.2 458.0,288.1 459.7,289.0 C461.3,289.9 463.0,290.8 464.5,291.7 C466.1,292.6 467.6,293.4 469.1,294.4 C470.5,295.4 471.9,296.4 473.3,297.6 C474.6,298.8 476.0,300.0 477.2,301.5 C478.4,303.0 479.5,304.8 480.6,306.6 C481.7,308.5 482.6,310.6 483.6,312.6 C484.6,314.7 485.5,316.8 486.5,318.7 C487.5,320.6 488.6,322.5 489.7,324.1 C490.9,325.6 492.2,326.8 493.5,328.0 C494.8,329.2 496.2,330.0 497.5,331.1 C498.9,332.2 500.2,333.1 501.4,334.4 C502.6,335.8 503.7,337.2 504.7,339.1 C505.7,340.9 506.6,343.2 507.4,345.5 C508.3,347.9 509.1,350.5 509.7,353.2 C510.4,355.8 511.0,358.6 511.4,361.2 C511.8,363.9 512.1,366.5 512.2,369.1 C512.3,371.7 512.2,374.2 512.0,376.7 C511.7,379.3 511.3,381.9 510.8,384.4 C510.3,387.0 509.7,389.5 509.1,392.0 C508.5,394.4 507.9,396.8 507.2,399.1 C506.6,401.5 506.0,403.7 505.3,405.9 C504.6,408.1 504.0,410.2 503.2,412.3 C502.4,414.4 501.5,416.4 500.5,418.4 C499.5,420.4 498.5,422.3 497.2,424.2 C496.0,426.0 494.5,427.8 493.0,429.6 C491.5,431.3 489.9,433.0 488.1,434.6 C486.4,436.3 484.6,437.9 482.8,439.5 C481.0,441.1 479.1,442.6 477.2,444.2 C475.3,445.8 473.3,447.4 471.3,449.0 C469.3,450.6 467.1,452.2 465.0,453.7 C462.9,455.2 460.7,456.8 458.5,458.1 C456.4,459.4 454.3,460.6 452.2,461.7 C450.1,462.8 448.0,463.7 445.9,464.5 C443.8,465.4 441.7,466.1 439.7,466.7 C437.6,467.3 435.5,467.9 433.4,468.3 C431.3,468.7 429.2,469.0 427.1,469.2 C425.0,469.4 422.9,469.5 420.8,469.5 C418.7,469.5 416.6,469.4 414.5,469.2 C412.4,469.0 410.3,468.7 408.2,468.3 C406.1,467.9 404.1,467.4 402.1,466.7 C400.1,466.1 398.2,465.3 396.2,464.3 C394.3,463.4 392.4,462.3 390.5,461.2 C388.7,460.1 386.8,458.9 385.0,457.7 C383.2,456.6 381.4,455.4 379.6,454.2 C377.8,453.0 376.1,451.8 374.4,450.6 C372.7,449.4 371.1,448.1 369.4,446.8 C367.8,445.6 366.2,444.3 364.5,443.0 C362.9,441.7 361.2,440.4 359.6,439.2 C357.9,437.9 356.2,436.7 354.5,435.5 C352.8,434.3 351.1,433.2 349.4,432.0 C347.7,430.8 346.0,429.6 344.4,428.3 C342.7,427.0 341.1,425.6 339.5,424.2 C338.0,422.7 336.4,421.2 334.9,419.6 C333.3,418.1 331.8,416.5 330.3,414.8 C328.8,413.1 327.4,411.4 326.0,409.6 C324.6,407.8 323.3,406.0 322.0,404.1 C320.7,402.3 319.5,400.3 318.3,398.3 C317.1,396.3 315.9,394.2 314.8,392.1 C313.7,390.0 312.7,387.8 311.8,385.7 C310.9,383.5 310.2,381.3 309.5,379.1 C308.9,376.9 308.3,374.6 307.9,372.4 C307.4,370.1 307.1,367.7 306.9,365.4 C306.6,363.0 306.5,360.6 306.5,358.4 C306.5,356.1 306.7,353.8 307.0,351.6 C307.3,349.4 307.8,347.2 308.5,345.0 C309.1,342.9 309.9,340.7 310.8,338.6 C311.6,336.5 312.7,334.4 313.7,332.4 C314.7,330.4 315.8,328.4 317.0,326.6 C318.2,324.7 319.5,322.9 320.8,321.1 C322.2,319.4 323.7,317.7 325.2,316.1 C326.7,314.4 328.2,312.8 329.8,311.3 C331.4,309.7 333.0,308.1 334.5,306.5 C336.1,305.0 337.6,303.3 339.2,301.8 C340.8,300.2 342.3,298.5 343.9,297.0 C345.6,295.5 347.2,294.0 349.0,292.6 C350.7,291.3 352.6,290.1 354.6,289.0 C356.6,288.0 358.7,287.1 360.9,286.3 C363.1,285.5 365.5,284.9 367.9,284.3 C370.2,283.7 372.7,283.3 375.0,282.8 C377.4,282.3 379.8,281.9 382.1,281.5 C384.4,281.1 386.7,280.7 389.0,280.4 C391.3,280.1 393.6,279.9 395.9,279.7 C398.2,279.5 400.4,279.4 402.7,279.3 C405.0,279.1 407.3,279.1 409.6,279.0Z"/></clipPath>
<g clip-path="url(#tc6)"><rect x="297" y="269" width="232" height="205" filter="url(#tex)" opacity="0.28"/></g>
</g>
</g>
</svg>
</body></html>
